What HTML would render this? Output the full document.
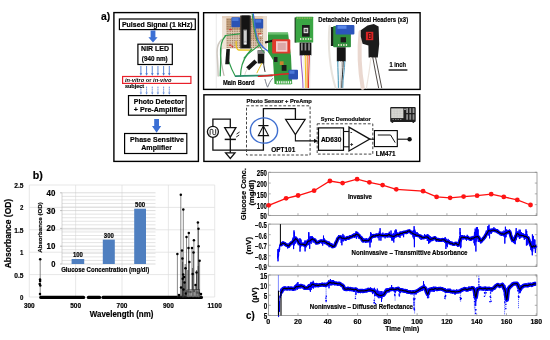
<!DOCTYPE html>
<html><head><meta charset="utf-8"><title>Figure</title>
<style>html,body{margin:0;padding:0;background:#fff;} svg{display:block;}</style></head>
<body><svg width="550" height="340" viewBox="0 0 550 340" font-family="'Liberation Sans', Arial, sans-serif">
<rect width="550" height="340" fill="#fff"/>
<text x="101.0" y="19.9" font-size="11.5" font-weight="bold" stroke="#000" stroke-width="0.18" textLength="9.2" lengthAdjust="spacingAndGlyphs">a)</text>
<rect x="113.9" y="12.6" width="84.5" height="148.8" fill="none" stroke="#000" stroke-width="1.4"/>
<rect x="119.4" y="19.0" width="75.9" height="10.6" fill="none" stroke="#000" stroke-width="1.2"/>
<text x="121.9" y="27.3" font-size="7.6" font-weight="bold" stroke="#000" stroke-width="0.18" textLength="70.6" lengthAdjust="spacingAndGlyphs">Pulsed Signal (1 kHz)</text>
<polygon points="150.6,30.4 155.4,30.4 155.4,37.2 157.6,37.2 153.0,42.6 148.4,37.2 150.6,37.2" fill="#3b6fd4" stroke="none" stroke-width="1"/>
<rect x="137.9" y="44.2" width="34.4" height="20.3" fill="none" stroke="#000" stroke-width="1.2"/>
<text x="141.1" y="51.3" font-size="7.8" font-weight="bold" stroke="#000" stroke-width="0.18" textLength="28" lengthAdjust="spacingAndGlyphs">NIR LED</text>
<text x="141.8" y="61.1" font-size="6.7" font-weight="bold" stroke="#000" stroke-width="0.18" textLength="25.9" lengthAdjust="spacingAndGlyphs">(940 nm)</text>
<line x1="140.9" y1="66.0" x2="140.9" y2="74.0" stroke="#4a78d0" stroke-width="0.9"/>
<polygon points="139.6,73.2 142.2,73.2 140.9,75.8" fill="#4a78d0" stroke="none" stroke-width="1"/>
<line x1="140.9" y1="86.6" x2="140.9" y2="93.0" stroke="#6f93dc" stroke-width="1.0" stroke-dasharray="1.4,0.5"/>
<polygon points="139.7,92.4 142.1,92.4 140.9,94.8" fill="#6f93dc" stroke="none" stroke-width="1"/>
<line x1="146.58" y1="66.0" x2="146.58" y2="74.0" stroke="#4a78d0" stroke-width="0.9"/>
<polygon points="145.3,73.2 147.9,73.2 146.6,75.8" fill="#4a78d0" stroke="none" stroke-width="1"/>
<line x1="146.58" y1="86.6" x2="146.58" y2="93.0" stroke="#6f93dc" stroke-width="1.0" stroke-dasharray="1.4,0.5"/>
<polygon points="145.4,92.4 147.8,92.4 146.6,94.8" fill="#6f93dc" stroke="none" stroke-width="1"/>
<line x1="152.26" y1="66.0" x2="152.26" y2="74.0" stroke="#4a78d0" stroke-width="0.9"/>
<polygon points="151.0,73.2 153.6,73.2 152.3,75.8" fill="#4a78d0" stroke="none" stroke-width="1"/>
<line x1="152.26" y1="86.6" x2="152.26" y2="93.0" stroke="#6f93dc" stroke-width="1.0" stroke-dasharray="1.4,0.5"/>
<polygon points="151.1,92.4 153.5,92.4 152.3,94.8" fill="#6f93dc" stroke="none" stroke-width="1"/>
<line x1="157.94" y1="66.0" x2="157.94" y2="74.0" stroke="#4a78d0" stroke-width="0.9"/>
<polygon points="156.6,73.2 159.2,73.2 157.9,75.8" fill="#4a78d0" stroke="none" stroke-width="1"/>
<line x1="157.94" y1="86.6" x2="157.94" y2="93.0" stroke="#6f93dc" stroke-width="1.0" stroke-dasharray="1.4,0.5"/>
<polygon points="156.7,92.4 159.1,92.4 157.9,94.8" fill="#6f93dc" stroke="none" stroke-width="1"/>
<line x1="163.62" y1="66.0" x2="163.62" y2="74.0" stroke="#4a78d0" stroke-width="0.9"/>
<polygon points="162.3,73.2 164.9,73.2 163.6,75.8" fill="#4a78d0" stroke="none" stroke-width="1"/>
<line x1="163.62" y1="86.6" x2="163.62" y2="93.0" stroke="#6f93dc" stroke-width="1.0" stroke-dasharray="1.4,0.5"/>
<polygon points="162.4,92.4 164.8,92.4 163.6,94.8" fill="#6f93dc" stroke="none" stroke-width="1"/>
<line x1="169.3" y1="66.0" x2="169.3" y2="74.0" stroke="#4a78d0" stroke-width="0.9"/>
<polygon points="168.0,73.2 170.6,73.2 169.3,75.8" fill="#4a78d0" stroke="none" stroke-width="1"/>
<line x1="169.3" y1="86.6" x2="169.3" y2="93.0" stroke="#6f93dc" stroke-width="1.0" stroke-dasharray="1.4,0.5"/>
<polygon points="168.1,92.4 170.5,92.4 169.3,94.8" fill="#6f93dc" stroke="none" stroke-width="1"/>
<rect x="122.6" y="76.5" width="68.3" height="6.9" fill="#fff" stroke="#e8202a" stroke-width="1.2"/>
<text x="124.9" y="81.6" font-size="5.7" font-weight="bold" textLength="46.5" lengthAdjust="spacingAndGlyphs"><tspan font-style="italic">in-vitro</tspan> or <tspan font-style="italic">in-vivo</tspan></text>
<text x="124.9" y="88.1" font-size="5.6" font-weight="bold" stroke="#000" stroke-width="0.18" textLength="19.3" lengthAdjust="spacingAndGlyphs">subject</text>
<rect x="128.5" y="95.6" width="57.6" height="19.6" fill="none" stroke="#000" stroke-width="1.2"/>
<text x="133.8" y="103.7" font-size="7.4" font-weight="bold" stroke="#000" stroke-width="0.18" textLength="50.2" lengthAdjust="spacingAndGlyphs">Photo Detector</text>
<text x="133.8" y="112.2" font-size="7.4" font-weight="bold" stroke="#000" stroke-width="0.18" textLength="50.7" lengthAdjust="spacingAndGlyphs">+ Pre-Amplifier</text>
<polygon points="154.2,119.1 159.0,119.1 159.0,125.9 161.2,125.9 156.6,132.8 152.0,125.9 154.2,125.9" fill="#3b6fd4" stroke="none" stroke-width="1"/>
<rect x="124.6" y="133.5" width="62.2" height="20.0" fill="none" stroke="#000" stroke-width="1.2"/>
<text x="130.1" y="141.6" font-size="7.4" font-weight="bold" stroke="#000" stroke-width="0.18" textLength="53.9" lengthAdjust="spacingAndGlyphs">Phase Sensitive</text>
<text x="141.2" y="150.2" font-size="7.4" font-weight="bold" stroke="#000" stroke-width="0.18" textLength="30.8" lengthAdjust="spacingAndGlyphs">Amplifier</text>
<rect x="203.6" y="12.7" width="216.5" height="76.7" fill="none" stroke="#000" stroke-width="1.4"/>
<line x1="216.3" y1="14" x2="216.3" y2="88" stroke="#e4e4e4" stroke-width="0.8"/>
<path d="M225,38 C219,40 216.5,47 217.2,56 C217.8,64 218,70 218.2,76" fill="none" stroke="#cfc9c2" stroke-width="1.6" stroke-linecap="round"/>
<path d="M226,41 C221,46 220,55 221.5,63 C222.5,69 223.5,73 224,75.5" fill="none" stroke="#bdb6ae" stroke-width="1.2" stroke-linecap="round"/>
<rect x="222.0" y="16.1" width="44.7" height="32.5" fill="#e2cdb8" rx="1"/>
<rect x="226.2" y="16.1" width="35.8" height="13.9" fill="#c9a682"/>
<rect x="250.8" y="28.0" width="11.2" height="12.0" fill="#d4b494"/>
<rect x="222.0" y="16.1" width="4.2" height="32.5" fill="#efe2d6"/>
<rect x="222.0" y="16.1" width="44.7" height="2.1" fill="#e6d2c0"/>
<rect x="263.2" y="16.1" width="3.5" height="32.5" fill="#ece0d4"/>
<rect x="226.80" y="19.00" width="0.85" height="0.85" fill="#86603f"/>
<rect x="228.55" y="19.00" width="0.85" height="0.85" fill="#86603f"/>
<rect x="230.30" y="19.00" width="0.85" height="0.85" fill="#86603f"/>
<rect x="232.05" y="19.00" width="0.85" height="0.85" fill="#86603f"/>
<rect x="233.80" y="19.00" width="0.85" height="0.85" fill="#86603f"/>
<rect x="235.55" y="19.00" width="0.85" height="0.85" fill="#86603f"/>
<rect x="237.30" y="19.00" width="0.85" height="0.85" fill="#86603f"/>
<rect x="239.05" y="19.00" width="0.85" height="0.85" fill="#86603f"/>
<rect x="240.80" y="19.00" width="0.85" height="0.85" fill="#86603f"/>
<rect x="242.55" y="19.00" width="0.85" height="0.85" fill="#86603f"/>
<rect x="244.30" y="19.00" width="0.85" height="0.85" fill="#86603f"/>
<rect x="246.05" y="19.00" width="0.85" height="0.85" fill="#86603f"/>
<rect x="247.80" y="19.00" width="0.85" height="0.85" fill="#86603f"/>
<rect x="249.55" y="19.00" width="0.85" height="0.85" fill="#86603f"/>
<rect x="251.30" y="19.00" width="0.85" height="0.85" fill="#86603f"/>
<rect x="253.05" y="19.00" width="0.85" height="0.85" fill="#86603f"/>
<rect x="254.80" y="19.00" width="0.85" height="0.85" fill="#86603f"/>
<rect x="256.55" y="19.00" width="0.85" height="0.85" fill="#86603f"/>
<rect x="258.30" y="19.00" width="0.85" height="0.85" fill="#86603f"/>
<rect x="260.05" y="19.00" width="0.85" height="0.85" fill="#86603f"/>
<rect x="261.80" y="19.00" width="0.85" height="0.85" fill="#86603f"/>
<rect x="226.80" y="20.75" width="0.85" height="0.85" fill="#86603f"/>
<rect x="228.55" y="20.75" width="0.85" height="0.85" fill="#86603f"/>
<rect x="230.30" y="20.75" width="0.85" height="0.85" fill="#86603f"/>
<rect x="232.05" y="20.75" width="0.85" height="0.85" fill="#86603f"/>
<rect x="233.80" y="20.75" width="0.85" height="0.85" fill="#86603f"/>
<rect x="235.55" y="20.75" width="0.85" height="0.85" fill="#86603f"/>
<rect x="237.30" y="20.75" width="0.85" height="0.85" fill="#86603f"/>
<rect x="239.05" y="20.75" width="0.85" height="0.85" fill="#86603f"/>
<rect x="240.80" y="20.75" width="0.85" height="0.85" fill="#86603f"/>
<rect x="242.55" y="20.75" width="0.85" height="0.85" fill="#86603f"/>
<rect x="244.30" y="20.75" width="0.85" height="0.85" fill="#86603f"/>
<rect x="246.05" y="20.75" width="0.85" height="0.85" fill="#86603f"/>
<rect x="247.80" y="20.75" width="0.85" height="0.85" fill="#86603f"/>
<rect x="249.55" y="20.75" width="0.85" height="0.85" fill="#86603f"/>
<rect x="251.30" y="20.75" width="0.85" height="0.85" fill="#86603f"/>
<rect x="253.05" y="20.75" width="0.85" height="0.85" fill="#86603f"/>
<rect x="254.80" y="20.75" width="0.85" height="0.85" fill="#86603f"/>
<rect x="256.55" y="20.75" width="0.85" height="0.85" fill="#86603f"/>
<rect x="258.30" y="20.75" width="0.85" height="0.85" fill="#86603f"/>
<rect x="260.05" y="20.75" width="0.85" height="0.85" fill="#86603f"/>
<rect x="261.80" y="20.75" width="0.85" height="0.85" fill="#86603f"/>
<rect x="226.80" y="22.50" width="0.85" height="0.85" fill="#86603f"/>
<rect x="228.55" y="22.50" width="0.85" height="0.85" fill="#86603f"/>
<rect x="230.30" y="22.50" width="0.85" height="0.85" fill="#86603f"/>
<rect x="232.05" y="22.50" width="0.85" height="0.85" fill="#86603f"/>
<rect x="233.80" y="22.50" width="0.85" height="0.85" fill="#86603f"/>
<rect x="235.55" y="22.50" width="0.85" height="0.85" fill="#86603f"/>
<rect x="237.30" y="22.50" width="0.85" height="0.85" fill="#86603f"/>
<rect x="239.05" y="22.50" width="0.85" height="0.85" fill="#86603f"/>
<rect x="240.80" y="22.50" width="0.85" height="0.85" fill="#86603f"/>
<rect x="242.55" y="22.50" width="0.85" height="0.85" fill="#86603f"/>
<rect x="244.30" y="22.50" width="0.85" height="0.85" fill="#86603f"/>
<rect x="246.05" y="22.50" width="0.85" height="0.85" fill="#86603f"/>
<rect x="247.80" y="22.50" width="0.85" height="0.85" fill="#86603f"/>
<rect x="249.55" y="22.50" width="0.85" height="0.85" fill="#86603f"/>
<rect x="251.30" y="22.50" width="0.85" height="0.85" fill="#86603f"/>
<rect x="253.05" y="22.50" width="0.85" height="0.85" fill="#86603f"/>
<rect x="254.80" y="22.50" width="0.85" height="0.85" fill="#86603f"/>
<rect x="256.55" y="22.50" width="0.85" height="0.85" fill="#86603f"/>
<rect x="258.30" y="22.50" width="0.85" height="0.85" fill="#86603f"/>
<rect x="260.05" y="22.50" width="0.85" height="0.85" fill="#86603f"/>
<rect x="261.80" y="22.50" width="0.85" height="0.85" fill="#86603f"/>
<rect x="226.80" y="24.25" width="0.85" height="0.85" fill="#86603f"/>
<rect x="228.55" y="24.25" width="0.85" height="0.85" fill="#86603f"/>
<rect x="230.30" y="24.25" width="0.85" height="0.85" fill="#86603f"/>
<rect x="232.05" y="24.25" width="0.85" height="0.85" fill="#86603f"/>
<rect x="233.80" y="24.25" width="0.85" height="0.85" fill="#86603f"/>
<rect x="235.55" y="24.25" width="0.85" height="0.85" fill="#86603f"/>
<rect x="237.30" y="24.25" width="0.85" height="0.85" fill="#86603f"/>
<rect x="239.05" y="24.25" width="0.85" height="0.85" fill="#86603f"/>
<rect x="240.80" y="24.25" width="0.85" height="0.85" fill="#86603f"/>
<rect x="242.55" y="24.25" width="0.85" height="0.85" fill="#86603f"/>
<rect x="244.30" y="24.25" width="0.85" height="0.85" fill="#86603f"/>
<rect x="246.05" y="24.25" width="0.85" height="0.85" fill="#86603f"/>
<rect x="247.80" y="24.25" width="0.85" height="0.85" fill="#86603f"/>
<rect x="249.55" y="24.25" width="0.85" height="0.85" fill="#86603f"/>
<rect x="251.30" y="24.25" width="0.85" height="0.85" fill="#86603f"/>
<rect x="253.05" y="24.25" width="0.85" height="0.85" fill="#86603f"/>
<rect x="254.80" y="24.25" width="0.85" height="0.85" fill="#86603f"/>
<rect x="256.55" y="24.25" width="0.85" height="0.85" fill="#86603f"/>
<rect x="258.30" y="24.25" width="0.85" height="0.85" fill="#86603f"/>
<rect x="260.05" y="24.25" width="0.85" height="0.85" fill="#86603f"/>
<rect x="261.80" y="24.25" width="0.85" height="0.85" fill="#86603f"/>
<rect x="226.80" y="26.00" width="0.85" height="0.85" fill="#86603f"/>
<rect x="228.55" y="26.00" width="0.85" height="0.85" fill="#86603f"/>
<rect x="230.30" y="26.00" width="0.85" height="0.85" fill="#86603f"/>
<rect x="232.05" y="26.00" width="0.85" height="0.85" fill="#86603f"/>
<rect x="233.80" y="26.00" width="0.85" height="0.85" fill="#86603f"/>
<rect x="235.55" y="26.00" width="0.85" height="0.85" fill="#86603f"/>
<rect x="237.30" y="26.00" width="0.85" height="0.85" fill="#86603f"/>
<rect x="239.05" y="26.00" width="0.85" height="0.85" fill="#86603f"/>
<rect x="240.80" y="26.00" width="0.85" height="0.85" fill="#86603f"/>
<rect x="242.55" y="26.00" width="0.85" height="0.85" fill="#86603f"/>
<rect x="244.30" y="26.00" width="0.85" height="0.85" fill="#86603f"/>
<rect x="246.05" y="26.00" width="0.85" height="0.85" fill="#86603f"/>
<rect x="247.80" y="26.00" width="0.85" height="0.85" fill="#86603f"/>
<rect x="249.55" y="26.00" width="0.85" height="0.85" fill="#86603f"/>
<rect x="251.30" y="26.00" width="0.85" height="0.85" fill="#86603f"/>
<rect x="253.05" y="26.00" width="0.85" height="0.85" fill="#86603f"/>
<rect x="254.80" y="26.00" width="0.85" height="0.85" fill="#86603f"/>
<rect x="256.55" y="26.00" width="0.85" height="0.85" fill="#86603f"/>
<rect x="258.30" y="26.00" width="0.85" height="0.85" fill="#86603f"/>
<rect x="260.05" y="26.00" width="0.85" height="0.85" fill="#86603f"/>
<rect x="261.80" y="26.00" width="0.85" height="0.85" fill="#86603f"/>
<rect x="226.80" y="27.75" width="0.85" height="0.85" fill="#86603f"/>
<rect x="228.55" y="27.75" width="0.85" height="0.85" fill="#86603f"/>
<rect x="230.30" y="27.75" width="0.85" height="0.85" fill="#86603f"/>
<rect x="232.05" y="27.75" width="0.85" height="0.85" fill="#86603f"/>
<rect x="233.80" y="27.75" width="0.85" height="0.85" fill="#86603f"/>
<rect x="235.55" y="27.75" width="0.85" height="0.85" fill="#86603f"/>
<rect x="237.30" y="27.75" width="0.85" height="0.85" fill="#86603f"/>
<rect x="239.05" y="27.75" width="0.85" height="0.85" fill="#86603f"/>
<rect x="240.80" y="27.75" width="0.85" height="0.85" fill="#86603f"/>
<rect x="242.55" y="27.75" width="0.85" height="0.85" fill="#86603f"/>
<rect x="244.30" y="27.75" width="0.85" height="0.85" fill="#86603f"/>
<rect x="246.05" y="27.75" width="0.85" height="0.85" fill="#86603f"/>
<rect x="247.80" y="27.75" width="0.85" height="0.85" fill="#86603f"/>
<rect x="249.55" y="27.75" width="0.85" height="0.85" fill="#86603f"/>
<rect x="251.30" y="27.75" width="0.85" height="0.85" fill="#86603f"/>
<rect x="253.05" y="27.75" width="0.85" height="0.85" fill="#86603f"/>
<rect x="254.80" y="27.75" width="0.85" height="0.85" fill="#86603f"/>
<rect x="256.55" y="27.75" width="0.85" height="0.85" fill="#86603f"/>
<rect x="258.30" y="27.75" width="0.85" height="0.85" fill="#86603f"/>
<rect x="260.05" y="27.75" width="0.85" height="0.85" fill="#86603f"/>
<rect x="261.80" y="27.75" width="0.85" height="0.85" fill="#86603f"/>
<rect x="226.80" y="29.50" width="0.85" height="0.85" fill="#86603f"/>
<rect x="228.55" y="29.50" width="0.85" height="0.85" fill="#86603f"/>
<rect x="230.30" y="29.50" width="0.85" height="0.85" fill="#86603f"/>
<rect x="232.05" y="29.50" width="0.85" height="0.85" fill="#86603f"/>
<rect x="233.80" y="29.50" width="0.85" height="0.85" fill="#86603f"/>
<rect x="235.55" y="29.50" width="0.85" height="0.85" fill="#86603f"/>
<rect x="237.30" y="29.50" width="0.85" height="0.85" fill="#86603f"/>
<rect x="239.05" y="29.50" width="0.85" height="0.85" fill="#86603f"/>
<rect x="240.80" y="29.50" width="0.85" height="0.85" fill="#86603f"/>
<rect x="242.55" y="29.50" width="0.85" height="0.85" fill="#86603f"/>
<rect x="244.30" y="29.50" width="0.85" height="0.85" fill="#86603f"/>
<rect x="246.05" y="29.50" width="0.85" height="0.85" fill="#86603f"/>
<rect x="247.80" y="29.50" width="0.85" height="0.85" fill="#86603f"/>
<rect x="249.55" y="29.50" width="0.85" height="0.85" fill="#86603f"/>
<rect x="251.30" y="29.50" width="0.85" height="0.85" fill="#86603f"/>
<rect x="253.05" y="29.50" width="0.85" height="0.85" fill="#86603f"/>
<rect x="254.80" y="29.50" width="0.85" height="0.85" fill="#86603f"/>
<rect x="256.55" y="29.50" width="0.85" height="0.85" fill="#86603f"/>
<rect x="258.30" y="29.50" width="0.85" height="0.85" fill="#86603f"/>
<rect x="260.05" y="29.50" width="0.85" height="0.85" fill="#86603f"/>
<rect x="261.80" y="29.50" width="0.85" height="0.85" fill="#86603f"/>
<rect x="226.80" y="31.25" width="0.85" height="0.85" fill="#86603f"/>
<rect x="228.55" y="31.25" width="0.85" height="0.85" fill="#86603f"/>
<rect x="230.30" y="31.25" width="0.85" height="0.85" fill="#86603f"/>
<rect x="232.05" y="31.25" width="0.85" height="0.85" fill="#86603f"/>
<rect x="233.80" y="31.25" width="0.85" height="0.85" fill="#86603f"/>
<rect x="235.55" y="31.25" width="0.85" height="0.85" fill="#86603f"/>
<rect x="237.30" y="31.25" width="0.85" height="0.85" fill="#86603f"/>
<rect x="239.05" y="31.25" width="0.85" height="0.85" fill="#86603f"/>
<rect x="240.80" y="31.25" width="0.85" height="0.85" fill="#86603f"/>
<rect x="242.55" y="31.25" width="0.85" height="0.85" fill="#86603f"/>
<rect x="244.30" y="31.25" width="0.85" height="0.85" fill="#86603f"/>
<rect x="246.05" y="31.25" width="0.85" height="0.85" fill="#86603f"/>
<rect x="247.80" y="31.25" width="0.85" height="0.85" fill="#86603f"/>
<rect x="249.55" y="31.25" width="0.85" height="0.85" fill="#86603f"/>
<rect x="251.30" y="31.25" width="0.85" height="0.85" fill="#86603f"/>
<rect x="253.05" y="31.25" width="0.85" height="0.85" fill="#86603f"/>
<rect x="254.80" y="31.25" width="0.85" height="0.85" fill="#86603f"/>
<rect x="256.55" y="31.25" width="0.85" height="0.85" fill="#86603f"/>
<rect x="258.30" y="31.25" width="0.85" height="0.85" fill="#86603f"/>
<rect x="260.05" y="31.25" width="0.85" height="0.85" fill="#86603f"/>
<rect x="261.80" y="31.25" width="0.85" height="0.85" fill="#86603f"/>
<rect x="226.80" y="33.00" width="0.85" height="0.85" fill="#86603f"/>
<rect x="228.55" y="33.00" width="0.85" height="0.85" fill="#86603f"/>
<rect x="230.30" y="33.00" width="0.85" height="0.85" fill="#86603f"/>
<rect x="232.05" y="33.00" width="0.85" height="0.85" fill="#86603f"/>
<rect x="233.80" y="33.00" width="0.85" height="0.85" fill="#86603f"/>
<rect x="235.55" y="33.00" width="0.85" height="0.85" fill="#86603f"/>
<rect x="237.30" y="33.00" width="0.85" height="0.85" fill="#86603f"/>
<rect x="239.05" y="33.00" width="0.85" height="0.85" fill="#86603f"/>
<rect x="240.80" y="33.00" width="0.85" height="0.85" fill="#86603f"/>
<rect x="242.55" y="33.00" width="0.85" height="0.85" fill="#86603f"/>
<rect x="244.30" y="33.00" width="0.85" height="0.85" fill="#86603f"/>
<rect x="246.05" y="33.00" width="0.85" height="0.85" fill="#86603f"/>
<rect x="247.80" y="33.00" width="0.85" height="0.85" fill="#86603f"/>
<rect x="249.55" y="33.00" width="0.85" height="0.85" fill="#86603f"/>
<rect x="251.30" y="33.00" width="0.85" height="0.85" fill="#86603f"/>
<rect x="253.05" y="33.00" width="0.85" height="0.85" fill="#86603f"/>
<rect x="254.80" y="33.00" width="0.85" height="0.85" fill="#86603f"/>
<rect x="256.55" y="33.00" width="0.85" height="0.85" fill="#86603f"/>
<rect x="258.30" y="33.00" width="0.85" height="0.85" fill="#86603f"/>
<rect x="260.05" y="33.00" width="0.85" height="0.85" fill="#86603f"/>
<rect x="261.80" y="33.00" width="0.85" height="0.85" fill="#86603f"/>
<rect x="226.80" y="34.75" width="0.85" height="0.85" fill="#86603f"/>
<rect x="228.55" y="34.75" width="0.85" height="0.85" fill="#86603f"/>
<rect x="230.30" y="34.75" width="0.85" height="0.85" fill="#86603f"/>
<rect x="232.05" y="34.75" width="0.85" height="0.85" fill="#86603f"/>
<rect x="233.80" y="34.75" width="0.85" height="0.85" fill="#86603f"/>
<rect x="235.55" y="34.75" width="0.85" height="0.85" fill="#86603f"/>
<rect x="237.30" y="34.75" width="0.85" height="0.85" fill="#86603f"/>
<rect x="239.05" y="34.75" width="0.85" height="0.85" fill="#86603f"/>
<rect x="240.80" y="34.75" width="0.85" height="0.85" fill="#86603f"/>
<rect x="242.55" y="34.75" width="0.85" height="0.85" fill="#86603f"/>
<rect x="244.30" y="34.75" width="0.85" height="0.85" fill="#86603f"/>
<rect x="246.05" y="34.75" width="0.85" height="0.85" fill="#86603f"/>
<rect x="247.80" y="34.75" width="0.85" height="0.85" fill="#86603f"/>
<rect x="249.55" y="34.75" width="0.85" height="0.85" fill="#86603f"/>
<rect x="251.30" y="34.75" width="0.85" height="0.85" fill="#86603f"/>
<rect x="253.05" y="34.75" width="0.85" height="0.85" fill="#86603f"/>
<rect x="254.80" y="34.75" width="0.85" height="0.85" fill="#86603f"/>
<rect x="256.55" y="34.75" width="0.85" height="0.85" fill="#86603f"/>
<rect x="258.30" y="34.75" width="0.85" height="0.85" fill="#86603f"/>
<rect x="260.05" y="34.75" width="0.85" height="0.85" fill="#86603f"/>
<rect x="261.80" y="34.75" width="0.85" height="0.85" fill="#86603f"/>
<rect x="226.80" y="36.50" width="0.85" height="0.85" fill="#86603f"/>
<rect x="228.55" y="36.50" width="0.85" height="0.85" fill="#86603f"/>
<rect x="230.30" y="36.50" width="0.85" height="0.85" fill="#86603f"/>
<rect x="232.05" y="36.50" width="0.85" height="0.85" fill="#86603f"/>
<rect x="233.80" y="36.50" width="0.85" height="0.85" fill="#86603f"/>
<rect x="235.55" y="36.50" width="0.85" height="0.85" fill="#86603f"/>
<rect x="237.30" y="36.50" width="0.85" height="0.85" fill="#86603f"/>
<rect x="239.05" y="36.50" width="0.85" height="0.85" fill="#86603f"/>
<rect x="240.80" y="36.50" width="0.85" height="0.85" fill="#86603f"/>
<rect x="242.55" y="36.50" width="0.85" height="0.85" fill="#86603f"/>
<rect x="244.30" y="36.50" width="0.85" height="0.85" fill="#86603f"/>
<rect x="246.05" y="36.50" width="0.85" height="0.85" fill="#86603f"/>
<rect x="247.80" y="36.50" width="0.85" height="0.85" fill="#86603f"/>
<rect x="249.55" y="36.50" width="0.85" height="0.85" fill="#86603f"/>
<rect x="251.30" y="36.50" width="0.85" height="0.85" fill="#86603f"/>
<rect x="253.05" y="36.50" width="0.85" height="0.85" fill="#86603f"/>
<rect x="254.80" y="36.50" width="0.85" height="0.85" fill="#86603f"/>
<rect x="256.55" y="36.50" width="0.85" height="0.85" fill="#86603f"/>
<rect x="258.30" y="36.50" width="0.85" height="0.85" fill="#86603f"/>
<rect x="260.05" y="36.50" width="0.85" height="0.85" fill="#86603f"/>
<rect x="261.80" y="36.50" width="0.85" height="0.85" fill="#86603f"/>
<rect x="226.80" y="38.25" width="0.85" height="0.85" fill="#86603f"/>
<rect x="228.55" y="38.25" width="0.85" height="0.85" fill="#86603f"/>
<rect x="230.30" y="38.25" width="0.85" height="0.85" fill="#86603f"/>
<rect x="232.05" y="38.25" width="0.85" height="0.85" fill="#86603f"/>
<rect x="233.80" y="38.25" width="0.85" height="0.85" fill="#86603f"/>
<rect x="235.55" y="38.25" width="0.85" height="0.85" fill="#86603f"/>
<rect x="237.30" y="38.25" width="0.85" height="0.85" fill="#86603f"/>
<rect x="239.05" y="38.25" width="0.85" height="0.85" fill="#86603f"/>
<rect x="240.80" y="38.25" width="0.85" height="0.85" fill="#86603f"/>
<rect x="242.55" y="38.25" width="0.85" height="0.85" fill="#86603f"/>
<rect x="244.30" y="38.25" width="0.85" height="0.85" fill="#86603f"/>
<rect x="246.05" y="38.25" width="0.85" height="0.85" fill="#86603f"/>
<rect x="247.80" y="38.25" width="0.85" height="0.85" fill="#86603f"/>
<rect x="249.55" y="38.25" width="0.85" height="0.85" fill="#86603f"/>
<rect x="251.30" y="38.25" width="0.85" height="0.85" fill="#86603f"/>
<rect x="253.05" y="38.25" width="0.85" height="0.85" fill="#86603f"/>
<rect x="254.80" y="38.25" width="0.85" height="0.85" fill="#86603f"/>
<rect x="256.55" y="38.25" width="0.85" height="0.85" fill="#86603f"/>
<rect x="258.30" y="38.25" width="0.85" height="0.85" fill="#86603f"/>
<rect x="260.05" y="38.25" width="0.85" height="0.85" fill="#86603f"/>
<rect x="261.80" y="38.25" width="0.85" height="0.85" fill="#86603f"/>
<rect x="226.80" y="40.00" width="0.85" height="0.85" fill="#86603f"/>
<rect x="228.55" y="40.00" width="0.85" height="0.85" fill="#86603f"/>
<rect x="230.30" y="40.00" width="0.85" height="0.85" fill="#86603f"/>
<rect x="232.05" y="40.00" width="0.85" height="0.85" fill="#86603f"/>
<rect x="233.80" y="40.00" width="0.85" height="0.85" fill="#86603f"/>
<rect x="235.55" y="40.00" width="0.85" height="0.85" fill="#86603f"/>
<rect x="237.30" y="40.00" width="0.85" height="0.85" fill="#86603f"/>
<rect x="239.05" y="40.00" width="0.85" height="0.85" fill="#86603f"/>
<rect x="240.80" y="40.00" width="0.85" height="0.85" fill="#86603f"/>
<rect x="242.55" y="40.00" width="0.85" height="0.85" fill="#86603f"/>
<rect x="244.30" y="40.00" width="0.85" height="0.85" fill="#86603f"/>
<rect x="246.05" y="40.00" width="0.85" height="0.85" fill="#86603f"/>
<rect x="247.80" y="40.00" width="0.85" height="0.85" fill="#86603f"/>
<rect x="249.55" y="40.00" width="0.85" height="0.85" fill="#86603f"/>
<rect x="251.30" y="40.00" width="0.85" height="0.85" fill="#86603f"/>
<rect x="253.05" y="40.00" width="0.85" height="0.85" fill="#86603f"/>
<rect x="254.80" y="40.00" width="0.85" height="0.85" fill="#86603f"/>
<rect x="256.55" y="40.00" width="0.85" height="0.85" fill="#86603f"/>
<rect x="258.30" y="40.00" width="0.85" height="0.85" fill="#86603f"/>
<rect x="260.05" y="40.00" width="0.85" height="0.85" fill="#86603f"/>
<rect x="261.80" y="40.00" width="0.85" height="0.85" fill="#86603f"/>
<rect x="226.80" y="41.75" width="0.85" height="0.85" fill="#86603f"/>
<rect x="228.55" y="41.75" width="0.85" height="0.85" fill="#86603f"/>
<rect x="230.30" y="41.75" width="0.85" height="0.85" fill="#86603f"/>
<rect x="232.05" y="41.75" width="0.85" height="0.85" fill="#86603f"/>
<rect x="233.80" y="41.75" width="0.85" height="0.85" fill="#86603f"/>
<rect x="235.55" y="41.75" width="0.85" height="0.85" fill="#86603f"/>
<rect x="237.30" y="41.75" width="0.85" height="0.85" fill="#86603f"/>
<rect x="239.05" y="41.75" width="0.85" height="0.85" fill="#86603f"/>
<rect x="240.80" y="41.75" width="0.85" height="0.85" fill="#86603f"/>
<rect x="242.55" y="41.75" width="0.85" height="0.85" fill="#86603f"/>
<rect x="244.30" y="41.75" width="0.85" height="0.85" fill="#86603f"/>
<rect x="246.05" y="41.75" width="0.85" height="0.85" fill="#86603f"/>
<rect x="247.80" y="41.75" width="0.85" height="0.85" fill="#86603f"/>
<rect x="249.55" y="41.75" width="0.85" height="0.85" fill="#86603f"/>
<rect x="251.30" y="41.75" width="0.85" height="0.85" fill="#86603f"/>
<rect x="253.05" y="41.75" width="0.85" height="0.85" fill="#86603f"/>
<rect x="254.80" y="41.75" width="0.85" height="0.85" fill="#86603f"/>
<rect x="256.55" y="41.75" width="0.85" height="0.85" fill="#86603f"/>
<rect x="258.30" y="41.75" width="0.85" height="0.85" fill="#86603f"/>
<rect x="260.05" y="41.75" width="0.85" height="0.85" fill="#86603f"/>
<rect x="261.80" y="41.75" width="0.85" height="0.85" fill="#86603f"/>
<rect x="226.80" y="43.50" width="0.85" height="0.85" fill="#86603f"/>
<rect x="228.55" y="43.50" width="0.85" height="0.85" fill="#86603f"/>
<rect x="230.30" y="43.50" width="0.85" height="0.85" fill="#86603f"/>
<rect x="232.05" y="43.50" width="0.85" height="0.85" fill="#86603f"/>
<rect x="233.80" y="43.50" width="0.85" height="0.85" fill="#86603f"/>
<rect x="235.55" y="43.50" width="0.85" height="0.85" fill="#86603f"/>
<rect x="237.30" y="43.50" width="0.85" height="0.85" fill="#86603f"/>
<rect x="239.05" y="43.50" width="0.85" height="0.85" fill="#86603f"/>
<rect x="240.80" y="43.50" width="0.85" height="0.85" fill="#86603f"/>
<rect x="242.55" y="43.50" width="0.85" height="0.85" fill="#86603f"/>
<rect x="244.30" y="43.50" width="0.85" height="0.85" fill="#86603f"/>
<rect x="246.05" y="43.50" width="0.85" height="0.85" fill="#86603f"/>
<rect x="247.80" y="43.50" width="0.85" height="0.85" fill="#86603f"/>
<rect x="249.55" y="43.50" width="0.85" height="0.85" fill="#86603f"/>
<rect x="251.30" y="43.50" width="0.85" height="0.85" fill="#86603f"/>
<rect x="253.05" y="43.50" width="0.85" height="0.85" fill="#86603f"/>
<rect x="254.80" y="43.50" width="0.85" height="0.85" fill="#86603f"/>
<rect x="256.55" y="43.50" width="0.85" height="0.85" fill="#86603f"/>
<rect x="258.30" y="43.50" width="0.85" height="0.85" fill="#86603f"/>
<rect x="260.05" y="43.50" width="0.85" height="0.85" fill="#86603f"/>
<rect x="261.80" y="43.50" width="0.85" height="0.85" fill="#86603f"/>
<rect x="226.80" y="45.25" width="0.85" height="0.85" fill="#86603f"/>
<rect x="228.55" y="45.25" width="0.85" height="0.85" fill="#86603f"/>
<rect x="230.30" y="45.25" width="0.85" height="0.85" fill="#86603f"/>
<rect x="232.05" y="45.25" width="0.85" height="0.85" fill="#86603f"/>
<rect x="233.80" y="45.25" width="0.85" height="0.85" fill="#86603f"/>
<rect x="235.55" y="45.25" width="0.85" height="0.85" fill="#86603f"/>
<rect x="237.30" y="45.25" width="0.85" height="0.85" fill="#86603f"/>
<rect x="239.05" y="45.25" width="0.85" height="0.85" fill="#86603f"/>
<rect x="240.80" y="45.25" width="0.85" height="0.85" fill="#86603f"/>
<rect x="242.55" y="45.25" width="0.85" height="0.85" fill="#86603f"/>
<rect x="244.30" y="45.25" width="0.85" height="0.85" fill="#86603f"/>
<rect x="246.05" y="45.25" width="0.85" height="0.85" fill="#86603f"/>
<rect x="247.80" y="45.25" width="0.85" height="0.85" fill="#86603f"/>
<rect x="249.55" y="45.25" width="0.85" height="0.85" fill="#86603f"/>
<rect x="251.30" y="45.25" width="0.85" height="0.85" fill="#86603f"/>
<rect x="253.05" y="45.25" width="0.85" height="0.85" fill="#86603f"/>
<rect x="254.80" y="45.25" width="0.85" height="0.85" fill="#86603f"/>
<rect x="256.55" y="45.25" width="0.85" height="0.85" fill="#86603f"/>
<rect x="258.30" y="45.25" width="0.85" height="0.85" fill="#86603f"/>
<rect x="260.05" y="45.25" width="0.85" height="0.85" fill="#86603f"/>
<rect x="261.80" y="45.25" width="0.85" height="0.85" fill="#86603f"/>
<rect x="226.80" y="47.00" width="0.85" height="0.85" fill="#86603f"/>
<rect x="228.55" y="47.00" width="0.85" height="0.85" fill="#86603f"/>
<rect x="230.30" y="47.00" width="0.85" height="0.85" fill="#86603f"/>
<rect x="232.05" y="47.00" width="0.85" height="0.85" fill="#86603f"/>
<rect x="233.80" y="47.00" width="0.85" height="0.85" fill="#86603f"/>
<rect x="235.55" y="47.00" width="0.85" height="0.85" fill="#86603f"/>
<rect x="237.30" y="47.00" width="0.85" height="0.85" fill="#86603f"/>
<rect x="239.05" y="47.00" width="0.85" height="0.85" fill="#86603f"/>
<rect x="240.80" y="47.00" width="0.85" height="0.85" fill="#86603f"/>
<rect x="242.55" y="47.00" width="0.85" height="0.85" fill="#86603f"/>
<rect x="244.30" y="47.00" width="0.85" height="0.85" fill="#86603f"/>
<rect x="246.05" y="47.00" width="0.85" height="0.85" fill="#86603f"/>
<rect x="247.80" y="47.00" width="0.85" height="0.85" fill="#86603f"/>
<rect x="249.55" y="47.00" width="0.85" height="0.85" fill="#86603f"/>
<rect x="251.30" y="47.00" width="0.85" height="0.85" fill="#86603f"/>
<rect x="253.05" y="47.00" width="0.85" height="0.85" fill="#86603f"/>
<rect x="254.80" y="47.00" width="0.85" height="0.85" fill="#86603f"/>
<rect x="256.55" y="47.00" width="0.85" height="0.85" fill="#86603f"/>
<rect x="258.30" y="47.00" width="0.85" height="0.85" fill="#86603f"/>
<rect x="260.05" y="47.00" width="0.85" height="0.85" fill="#86603f"/>
<rect x="261.80" y="47.00" width="0.85" height="0.85" fill="#86603f"/>
<rect x="229.2" y="29.0" width="2.6" height="1.2" fill="#e23232"/>
<rect x="247.6" y="26.8" width="2.2" height="1.2" fill="#e23232"/>
<rect x="258.0" y="33.3" width="3.2" height="1.2" fill="#e23232"/>
<rect x="229.0" y="44.6" width="2.6" height="1.2" fill="#e23232"/>
<rect x="231.5" y="46.0" width="1.8" height="1.2" fill="#e23232"/>
<rect x="259.3" y="34.6" width="2.9" height="1.6" fill="#f2f2f2"/>
<rect x="231.4" y="17.3" width="8.8" height="10.0" fill="#2a52b4" rx="0.8"/>
<rect x="232.2" y="17.9" width="6.3" height="3.1" fill="#4a78d8"/>
<rect x="254.4" y="19.0" width="8.8" height="9.5" fill="#2a52b4" rx="0.8"/>
<rect x="255.3" y="19.6" width="5.9" height="3.0" fill="#4a78d8"/>
<rect x="240.2" y="15.5" width="10.6" height="33.0" fill="#3a3530"/>
<rect x="241.6" y="15.5" width="8.0" height="32.5" fill="#141414"/>
<rect x="243.4" y="29.6" width="3.6" height="14.9" fill="#9a9a9a"/>
<rect x="244.0" y="31.0" width="2.4" height="10.5" fill="#cfcfcf"/>
<circle cx="245.2" cy="43.4" r="1.2" fill="#f0f0f0"/>
<path d="M236.1,41.4 C236.2,45 235.8,49.2 238.5,50.0 L252.5,50.2" fill="none" stroke="#e7c31c" stroke-width="1.3" stroke-linecap="round"/>
<path d="M225.2,35.5 L239.6,33.8" fill="none" stroke="#2b9a48" stroke-width="1.2" stroke-linecap="round"/>
<path d="M225.4,36 C221.5,40 220.2,47 220.6,55 C221,63 220.3,70 220.2,75.8" fill="none" stroke="#2b9a48" stroke-width="1.3" stroke-linecap="round"/>
<path d="M251.7,49 C246,55 242,62 241,70 L240.5,76" fill="none" stroke="#2b9a48" stroke-width="1.2" stroke-linecap="round"/>
<path d="M259.7,45 C253,50 247,54 244,58" fill="none" stroke="#2b9a48" stroke-width="1.1" stroke-linecap="round"/>
<path d="M229,62 C231,68 233,72 235.2,76.1" fill="none" stroke="#2b9a48" stroke-width="1.1" stroke-linecap="round"/>
<polygon points="226.4,49.0 229.9,49.0 229.2,64.2 225.2,64.2" fill="#161616"/>
<line x1="247.6" y1="68.8" x2="255.9" y2="60.9" stroke="#161616" stroke-width="4.2"/>
<rect x="257.7" y="50.3" width="6.6" height="13.2" fill="#171717"/>
<rect x="257.7" y="50.3" width="6.6" height="3.5" fill="#8a8a8a"/>
<path d="M261.7,63.5 C260,67 258,70.5 257,72.8" fill="none" stroke="#e7c31c" stroke-width="1.0" stroke-linecap="round"/>
<path d="M263.6,63.5 C264,67 264.6,69.5 265,71.5" fill="none" stroke="#2a2a2a" stroke-width="1.0" stroke-linecap="round"/>
<path d="M247.5,69 C246,71 245,73 244.8,75.6" fill="none" stroke="#d8d0c8" stroke-width="0.9" stroke-linecap="round"/>
<path d="M253.2,13.8 C254,18 254.3,21 254.6,24 C255.2,30 256,35 257.5,39 C259.5,44 263,48 268.5,51.5 C271.5,53.5 273,55 276.5,62.5" fill="none" stroke="#3a6fd8" stroke-width="1.4" stroke-linecap="round"/>
<path d="M252.2,14.2 C253.2,24 254.5,34 257.2,41.5 C259.8,47 262,50 264,52.5" fill="none" stroke="#2b9a48" stroke-width="1.0" stroke-linecap="round"/>
<polygon points="268.0,32.6 288.0,32.6 291.0,56.0 292.2,84.0 274.5,84.0 273.0,60.0 268.0,52.0" fill="#34983e"/>
<rect x="268.0" y="32.6" width="20.0" height="2.0" fill="#6cc070"/>
<line x1="265" y1="42.5" x2="273.5" y2="40.5" stroke="#161616" stroke-width="2.2"/>
<rect x="272.2" y="39.3" width="18.1" height="14.3" fill="#e03a2c" rx="1.2"/>
<rect x="276.0" y="41.2" width="11.4" height="10.5" fill="#f2cccc"/>
<rect x="277.8" y="43.0" width="8.0" height="7.0" fill="#dca8a8"/>
<rect x="279.8" y="61.3" width="3.8" height="3.7" fill="#c9822e"/>
<rect x="281.7" y="65.0" width="4.8" height="5.8" fill="#1b1b1b"/>
<rect x="274.0" y="57.0" width="3.5" height="5.0" fill="#1f1f1f"/>
<rect x="276.0" y="80.3" width="15.3" height="4.1" fill="#4cb050"/>
<rect x="276.8" y="81.2" width="1.2" height="2.2" fill="#f4f4f4"/>
<rect x="279.0" y="81.2" width="1.2" height="2.2" fill="#f4f4f4"/>
<rect x="281.2" y="81.2" width="1.2" height="2.2" fill="#f4f4f4"/>
<rect x="283.4" y="81.2" width="1.2" height="2.2" fill="#f4f4f4"/>
<rect x="285.6" y="81.2" width="1.2" height="2.2" fill="#f4f4f4"/>
<rect x="287.8" y="81.2" width="1.2" height="2.2" fill="#f4f4f4"/>
<rect x="290.0" y="81.2" width="1.2" height="2.2" fill="#f4f4f4"/>
<rect x="288.4" y="69.8" width="9.6" height="9.6" fill="#2a52b4" rx="0.8"/>
<rect x="289.4" y="70.6" width="5.1" height="3.2" fill="#4a78d8"/>
<path d="M235.8,76.1 C248,75.5 262,75.6 272,75.5" fill="none" stroke="#2a8a6a" stroke-width="1.8" stroke-linecap="round"/>
<path d="M258.4,76.4 C268,75.6 278,74.5 288.4,73.7" fill="none" stroke="#e02424" stroke-width="1.4" stroke-linecap="round"/>
<path d="M265,79.4 C266,83 266.8,86 267.6,87.2 C269,84 270,81 272.5,78.5" fill="none" stroke="#7c818c" stroke-width="1.0" stroke-linecap="round"/>
<rect x="294.6" y="17.5" width="1.8" height="25.1" fill="#1a2a1a"/>
<rect x="295.6" y="16.7" width="17.6" height="25.9" fill="#3aa644" rx="0.6"/>
<rect x="297.0" y="17.6" width="0.9" height="1.0" fill="#d6c060"/>
<rect x="298.7" y="17.6" width="0.9" height="1.0" fill="#d6c060"/>
<rect x="300.4" y="17.6" width="0.9" height="1.0" fill="#d6c060"/>
<rect x="302.1" y="17.6" width="0.9" height="1.0" fill="#d6c060"/>
<rect x="303.8" y="17.6" width="0.9" height="1.0" fill="#d6c060"/>
<rect x="305.5" y="17.6" width="0.9" height="1.0" fill="#d6c060"/>
<rect x="307.2" y="17.6" width="0.9" height="1.0" fill="#d6c060"/>
<rect x="308.9" y="17.6" width="0.9" height="1.0" fill="#d6c060"/>
<rect x="310.6" y="17.6" width="0.9" height="1.0" fill="#d6c060"/>
<rect x="302.0" y="25.0" width="7.7" height="11.7" fill="#1c1c1c"/>
<rect x="303.6" y="27.8" width="4.6" height="5.4" fill="#d8d8d8"/>
<rect x="304.6" y="29.0" width="2.6" height="3.0" fill="#666"/>
<rect x="300.0" y="38.0" width="1.3" height="2.0" fill="#e0e0c8"/>
<rect x="302.6" y="38.0" width="1.3" height="2.0" fill="#e0e0c8"/>
<rect x="305.2" y="38.0" width="1.3" height="2.0" fill="#e0e0c8"/>
<rect x="307.8" y="38.0" width="1.3" height="2.0" fill="#e0e0c8"/>
<rect x="310.2" y="38.0" width="1.3" height="2.0" fill="#e0e0c8"/>
<rect x="299.6" y="42.6" width="11.8" height="12.9" fill="#151515"/>
<rect x="301.0" y="43.2" width="1.7" height="7.3" fill="#8c8c8c"/>
<rect x="304.6" y="43.2" width="1.7" height="7.3" fill="#8c8c8c"/>
<rect x="308.2" y="43.2" width="1.7" height="7.3" fill="#8c8c8c"/>
<path d="M301.0,55.5 C301.0,66 303.0,76 303.0,87.5" fill="none" stroke="#9860c8" stroke-width="1.1" stroke-linecap="round"/>
<path d="M303.2,55.5 C303.2,66 304.4,76 304.4,87.5" fill="none" stroke="#f0f0f0" stroke-width="1.1" stroke-linecap="round"/>
<path d="M305.2,55.5 C305.2,66 305.8,76 305.8,87.5" fill="none" stroke="#f0c420" stroke-width="1.1" stroke-linecap="round"/>
<path d="M307.2,55.5 C307.2,66 307.2,76 307.2,87.5" fill="none" stroke="#f08020" stroke-width="1.1" stroke-linecap="round"/>
<path d="M309.2,55.5 C309.2,66 308.6,76 308.6,87.5" fill="none" stroke="#e02828" stroke-width="1.1" stroke-linecap="round"/>
<path d="M310.6,55.5 C310.6,66 309.8,76 309.8,87.5" fill="none" stroke="#eeeeee" stroke-width="1.1" stroke-linecap="round"/>
<path d="M329.5,26 C327.5,45 330,70 335.5,87.5" fill="none" stroke="#e8e4de" stroke-width="2.0" stroke-linecap="round"/>
<rect x="330.9" y="27.0" width="4.7" height="19.0" fill="#1b1f1b"/>
<rect x="333.2" y="26.0" width="17.7" height="21.3" fill="#2f8f3c" rx="0.8"/>
<rect x="335.6" y="25.0" width="18.8" height="9.4" fill="#2b55bc" rx="1"/>
<rect x="337.5" y="25.6" width="9.0" height="3.2" fill="#5a88e8"/>
<rect x="340.6" y="37.2" width="5.4" height="5.2" fill="#1c1c1c"/>
<rect x="338.0" y="44.0" width="1.3" height="2.0" fill="#e0e0c8"/>
<rect x="340.6" y="44.0" width="1.3" height="2.0" fill="#e0e0c8"/>
<rect x="343.2" y="44.0" width="1.3" height="2.0" fill="#e0e0c8"/>
<rect x="345.8" y="44.0" width="1.3" height="2.0" fill="#e0e0c8"/>
<rect x="336.8" y="47.3" width="8.9" height="14.1" fill="#151515"/>
<path d="M337.8,61.4 C337.8,70 338.4,78 338.4,87.5" fill="none" stroke="#3a8fb0" stroke-width="1.0" stroke-linecap="round"/>
<path d="M339.6,61.4 C339.6,70 339.6,78 339.6,87.5" fill="none" stroke="#f2f2f2" stroke-width="1.0" stroke-linecap="round"/>
<path d="M341.4,61.4 C341.4,70 340.6,78 340.6,87.5" fill="none" stroke="#c8c8c8" stroke-width="1.0" stroke-linecap="round"/>
<path d="M343.2,61.4 C343.2,70 341.8,78 341.8,87.5" fill="none" stroke="#2a2a2a" stroke-width="1.0" stroke-linecap="round"/>
<path d="M344.8,61.4 C344.8,70 342.8,78 342.8,87.5" fill="none" stroke="#5aa0c0" stroke-width="1.0" stroke-linecap="round"/>
<path d="M360.5,32 C359,48 359.5,70 362.7,87.8" fill="none" stroke="#ead8d0" stroke-width="4.0" stroke-linecap="round"/>
<polygon points="360.8,30.2 367.5,25.6 373.8,24.0 378.6,26.4 379.2,44.0 377.8,57.6 368.6,57.6 368.4,45.6 362.6,43.8 360.8,36.5" fill="#1c1c1c"/>
<rect x="365.9" y="31.8" width="7.4" height="8.4" fill="#d82424"/>
<rect x="368.2" y="33.2" width="3.2" height="5.6" fill="#3a0808"/>
<rect x="368.9" y="34.0" width="1.8" height="1.6" fill="#e83030"/>
<rect x="368.9" y="36.4" width="1.8" height="1.6" fill="#e83030"/>
<path d="M372.8,57.6 C374.5,68 376.8,78 378.6,87.8" fill="none" stroke="#3a3330" stroke-width="0.9" stroke-linecap="round"/>
<path d="M375.6,57.6 C377.6,68 379.9,78 381.7,87.8" fill="none" stroke="#3a3330" stroke-width="0.9" stroke-linecap="round"/>
<path d="M370.8,57.6 C370,68 368,78 366.5,87.8" fill="none" stroke="#ece4de" stroke-width="1.2" stroke-linecap="round"/>
<text x="222.9" y="85.0" font-size="7.0" font-weight="bold" stroke="#000" stroke-width="0.18" textLength="31.7" lengthAdjust="spacingAndGlyphs">Main Board</text>
<text x="318.3" y="21.6" font-size="6.9" font-weight="bold" stroke="#000" stroke-width="0.18" textLength="89.8" lengthAdjust="spacingAndGlyphs">Detachable Optical Headers (x3)</text>
<text x="389.4" y="66.7" font-size="7.2" font-weight="bold" stroke="#000" stroke-width="0.18" textLength="16.7" lengthAdjust="spacingAndGlyphs">1 inch</text>
<line x1="388.6" y1="70.0" x2="407.4" y2="70.0" stroke="#000" stroke-width="1.3"/>
<rect x="203.9" y="94.8" width="215.8" height="66.6" fill="none" stroke="#000" stroke-width="1.4"/>
<circle cx="212.9" cy="131.8" r="5.5" fill="none" stroke="#111" stroke-width="1.3"/>
<path d="M210.1,134.8 V130.4 Q210.1,129.4 211.1,129.4 H212.0 Q212.9,129.4 212.9,130.4 V133.6 Q212.9,134.6 213.8,134.6 H214.7 Q215.7,134.6 215.7,133.6 V129.2" fill="none" stroke="#111" stroke-width="0.9"/>
<polyline points="212.9,126.3 212.9,119.1 230.3,119.1 230.3,127.6" fill="none" stroke="#111" stroke-width="1.3"/>
<polyline points="212.9,137.3 212.9,150.1 263.4,150.1 263.4,108.6 295.4,108.6 295.4,119.4" fill="none" stroke="#111" stroke-width="1.3"/>
<polygon points="224.7,127.6 235.9,127.6 230.3,137.2" fill="none" stroke="#111" stroke-width="1.3"/>
<line x1="224.7" y1="139.4" x2="235.9" y2="139.4" stroke="#111" stroke-width="1.5"/>
<line x1="230.3" y1="137.2" x2="230.3" y2="152.8" stroke="#111" stroke-width="1.3"/>
<line x1="236.6" y1="134.0" x2="239.6" y2="132.0" stroke="#111" stroke-width="0.9"/>
<line x1="236.2" y1="137.0" x2="239.2" y2="135.0" stroke="#111" stroke-width="0.9"/>
<polygon points="225.6,152.8 235.0,152.8 230.3,158.5" fill="none" stroke="#111" stroke-width="1.3"/>
<rect x="246.5" y="105.8" width="63.6" height="49.2" fill="none" stroke="#444" stroke-width="1.0" stroke-dasharray="2.8,1.8"/>
<text x="246.6" y="102.9" font-size="6.0" font-weight="bold" stroke="#000" stroke-width="0.18" textLength="65.2" lengthAdjust="spacingAndGlyphs">Photo Sensor + PreAmp</text>
<ellipse cx="264.0" cy="130.5" rx="13.6" ry="12.6" fill="none" stroke="#3f6fd0" stroke-width="1.4"/>
<polygon points="258.3,135.6 268.5,135.6 263.4,126.0" fill="none" stroke="#111" stroke-width="1.1"/>
<line x1="258.3" y1="125.6" x2="268.5" y2="125.6" stroke="#111" stroke-width="1.2"/>
<polygon points="285.6,119.4 305.2,119.4 295.4,134.6" fill="none" stroke="#111" stroke-width="1.2"/>
<polyline points="295.4,134.6 295.4,140.9 314.8,140.9" fill="none" stroke="#111" stroke-width="1.1"/>
<polygon points="314.0,138.8 318.2,140.9 314.0,143.0" fill="#111" stroke="none" stroke-width="1"/>
<text x="271.3" y="152.0" font-size="6.6" font-weight="bold" stroke="#000" stroke-width="0.18" textLength="24.0" lengthAdjust="spacingAndGlyphs">OPT101</text>
<rect x="317.2" y="123.8" width="55.6" height="30.3" fill="none" stroke="#444" stroke-width="1.0" stroke-dasharray="2.8,1.8"/>
<text x="320.8" y="120.9" font-size="6.0" font-weight="bold" stroke="#000" stroke-width="0.18" textLength="49.8" lengthAdjust="spacingAndGlyphs">Sync Demodulator</text>
<rect x="318.5" y="127.9" width="25.0" height="22.4" fill="#fff" stroke="#000" stroke-width="1.2"/>
<line x1="340.6" y1="128.6" x2="340.6" y2="149.6" stroke="#bbb" stroke-width="0.5"/>
<text x="320.9" y="141.8" font-size="6.6" font-weight="bold" stroke="#000" stroke-width="0.18" textLength="20.4" lengthAdjust="spacingAndGlyphs">AD630</text>
<line x1="343.0" y1="131.5" x2="349.2" y2="131.5" stroke="#111" stroke-width="1.1"/>
<line x1="343.0" y1="146.8" x2="349.2" y2="146.8" stroke="#111" stroke-width="1.1"/>
<polygon points="349.0,127.2 349.0,151.0 369.8,139.1" fill="none" stroke="#111" stroke-width="1.3"/>
<text x="350.6" y="134.0" font-size="5" font-weight="bold" stroke="#000" stroke-width="0.18">-</text>
<text x="350.3" y="146.0" font-size="5" font-weight="bold" stroke="#000" stroke-width="0.18">+</text>
<line x1="369.6" y1="139.2" x2="374.4" y2="139.2" stroke="#111" stroke-width="1.1"/>
<rect x="374.4" y="130.6" width="22.9" height="16.0" fill="none" stroke="#000" stroke-width="1.1"/>
<polyline points="377.8,135.0 390.6,135.0 395.2,142.6" fill="none" stroke="#111" stroke-width="1.0"/>
<line x1="397.3" y1="139.2" x2="409.5" y2="139.2" stroke="#111" stroke-width="1.1"/>
<circle cx="409.6" cy="139.2" r="2.2" fill="#111"/>
<text x="375.8" y="155.6" font-size="6.5" font-weight="bold" stroke="#000" stroke-width="0.18" textLength="19.6" lengthAdjust="spacingAndGlyphs">LM471</text>
<rect x="390.2" y="107.1" width="25.5" height="14.9" fill="#1e1e1e" stroke="none" stroke-width="0" rx="1"/>
<rect x="391.2" y="108.4" width="12.2" height="9.7" fill="#d6d6d2" stroke="none" stroke-width="0"/>
<line x1="394.2" y1="108.6" x2="394.2" y2="117.9" stroke="#b4b4ae" stroke-width="0.4" stroke-dasharray="0.6,0.6"/>
<line x1="397.2" y1="108.6" x2="397.2" y2="117.9" stroke="#b4b4ae" stroke-width="0.4" stroke-dasharray="0.6,0.6"/>
<line x1="400.2" y1="108.6" x2="400.2" y2="117.9" stroke="#b4b4ae" stroke-width="0.4" stroke-dasharray="0.6,0.6"/>
<line x1="391.4" y1="111.0" x2="403.2" y2="111.0" stroke="#b4b4ae" stroke-width="0.4" stroke-dasharray="0.6,0.6"/>
<line x1="391.4" y1="113.6" x2="403.2" y2="113.6" stroke="#b4b4ae" stroke-width="0.4" stroke-dasharray="0.6,0.6"/>
<line x1="391.4" y1="116.0" x2="403.2" y2="116.0" stroke="#b4b4ae" stroke-width="0.4" stroke-dasharray="0.6,0.6"/>
<rect x="392.5" y="119.0" width="1.4" height="0.9" fill="#8a8a8a" stroke="none" stroke-width="0"/>
<rect x="395.0" y="119.0" width="1.4" height="0.9" fill="#8a8a8a" stroke="none" stroke-width="0"/>
<rect x="397.5" y="119.0" width="1.4" height="0.9" fill="#8a8a8a" stroke="none" stroke-width="0"/>
<rect x="400.0" y="119.0" width="1.4" height="0.9" fill="#8a8a8a" stroke="none" stroke-width="0"/>
<rect x="406.2" y="108.2" width="1.8" height="4.8" fill="#9a9a9a" stroke="none" stroke-width="0"/>
<rect x="406.2" y="114.3" width="1.8" height="5.4" fill="#8a8a8a" stroke="none" stroke-width="0"/>
<rect x="409.4" y="108.2" width="1.8" height="4.8" fill="#9a9a9a" stroke="none" stroke-width="0"/>
<rect x="409.4" y="114.3" width="1.8" height="5.4" fill="#8a8a8a" stroke="none" stroke-width="0"/>
<rect x="412.59999999999997" y="108.2" width="1.8" height="4.8" fill="#9a9a9a" stroke="none" stroke-width="0"/>
<rect x="412.59999999999997" y="114.3" width="1.8" height="5.4" fill="#8a8a8a" stroke="none" stroke-width="0"/>
<circle cx="405.0" cy="109.3" r="0.8" fill="#e0e0e0"/>
<circle cx="392.4" cy="122.0" r="1.0" fill="#222"/>
<circle cx="413.3" cy="122.0" r="1.0" fill="#222"/>
<text x="32.7" y="179.0" font-size="11.3" font-weight="bold" stroke="#000" stroke-width="0.18" textLength="10.1" lengthAdjust="spacingAndGlyphs">b)</text>
<line x1="29.3" y1="297.0" x2="214.7" y2="297.0" stroke="#dcdcdc" stroke-width="0.7"/>
<line x1="29.3" y1="274.6" x2="214.7" y2="274.6" stroke="#dcdcdc" stroke-width="0.7"/>
<line x1="29.3" y1="252.2" x2="214.7" y2="252.2" stroke="#dcdcdc" stroke-width="0.7"/>
<line x1="29.3" y1="229.8" x2="214.7" y2="229.8" stroke="#dcdcdc" stroke-width="0.7"/>
<line x1="29.3" y1="207.4" x2="214.7" y2="207.4" stroke="#dcdcdc" stroke-width="0.7"/>
<line x1="29.3" y1="185.0" x2="214.7" y2="185.0" stroke="#dcdcdc" stroke-width="0.7"/>
<line x1="29.3" y1="185.0" x2="29.3" y2="297.0" stroke="#dcdcdc" stroke-width="0.7"/>
<line x1="75.64999999999999" y1="185.0" x2="75.64999999999999" y2="297.0" stroke="#dcdcdc" stroke-width="0.7"/>
<line x1="121.99999999999999" y1="185.0" x2="121.99999999999999" y2="297.0" stroke="#dcdcdc" stroke-width="0.7"/>
<line x1="168.35" y1="185.0" x2="168.35" y2="297.0" stroke="#dcdcdc" stroke-width="0.7"/>
<line x1="214.7" y1="185.0" x2="214.7" y2="297.0" stroke="#dcdcdc" stroke-width="0.7"/>
<text x="23.5" y="300.0" font-size="7.0" font-weight="bold" text-anchor="end" stroke="#000" stroke-width="0.18" textLength="3.4" lengthAdjust="spacingAndGlyphs">0</text>
<text x="23.5" y="277.6" font-size="7.0" font-weight="bold" text-anchor="end" stroke="#000" stroke-width="0.18" textLength="9.2" lengthAdjust="spacingAndGlyphs">0.5</text>
<text x="23.5" y="255.2" font-size="7.0" font-weight="bold" text-anchor="end" stroke="#000" stroke-width="0.18" textLength="3.4" lengthAdjust="spacingAndGlyphs">1</text>
<text x="23.5" y="232.8" font-size="7.0" font-weight="bold" text-anchor="end" stroke="#000" stroke-width="0.18" textLength="9.2" lengthAdjust="spacingAndGlyphs">1.5</text>
<text x="23.5" y="210.4" font-size="7.0" font-weight="bold" text-anchor="end" stroke="#000" stroke-width="0.18" textLength="3.4" lengthAdjust="spacingAndGlyphs">2</text>
<text x="23.5" y="188.0" font-size="7.0" font-weight="bold" text-anchor="end" stroke="#000" stroke-width="0.18" textLength="9.2" lengthAdjust="spacingAndGlyphs">2.5</text>
<text x="29.3" y="307.6" font-size="6.9" font-weight="bold" text-anchor="middle" stroke="#000" stroke-width="0.18" textLength="10.8" lengthAdjust="spacingAndGlyphs">300</text>
<text x="75.64999999999999" y="307.6" font-size="6.9" font-weight="bold" text-anchor="middle" stroke="#000" stroke-width="0.18" textLength="10.8" lengthAdjust="spacingAndGlyphs">500</text>
<text x="121.99999999999999" y="307.6" font-size="6.9" font-weight="bold" text-anchor="middle" stroke="#000" stroke-width="0.18" textLength="10.8" lengthAdjust="spacingAndGlyphs">700</text>
<text x="168.35" y="307.6" font-size="6.9" font-weight="bold" text-anchor="middle" stroke="#000" stroke-width="0.18" textLength="10.8" lengthAdjust="spacingAndGlyphs">900</text>
<text x="214.7" y="307.6" font-size="6.9" font-weight="bold" text-anchor="middle" stroke="#000" stroke-width="0.18" textLength="14.2" lengthAdjust="spacingAndGlyphs">1100</text>
<text x="89.8" y="317.3" font-size="8.5" font-weight="bold" stroke="#000" stroke-width="0.18" textLength="63.6" lengthAdjust="spacingAndGlyphs">Wavelength (nm)</text>
<text x="10.8" y="233.6" font-size="8.6" font-weight="bold" text-anchor="middle" stroke="#000" stroke-width="0.18" textLength="69.5" lengthAdjust="spacingAndGlyphs" transform="rotate(-90 10.8 233.6)">Absorbance (OD)</text>
<line x1="62.0" y1="264.0" x2="155.5" y2="264.0" stroke="#c4c4c4" stroke-width="0.6"/>
<line x1="62.0" y1="260.44" x2="155.5" y2="260.44" stroke="#d2d2d2" stroke-width="0.6"/>
<line x1="62.0" y1="256.88" x2="155.5" y2="256.88" stroke="#d2d2d2" stroke-width="0.6"/>
<line x1="62.0" y1="253.32" x2="155.5" y2="253.32" stroke="#d2d2d2" stroke-width="0.6"/>
<line x1="62.0" y1="249.76" x2="155.5" y2="249.76" stroke="#d2d2d2" stroke-width="0.6"/>
<line x1="62.0" y1="246.2" x2="155.5" y2="246.2" stroke="#c4c4c4" stroke-width="0.6"/>
<line x1="62.0" y1="242.64000000000001" x2="155.5" y2="242.64000000000001" stroke="#d2d2d2" stroke-width="0.6"/>
<line x1="62.0" y1="239.08" x2="155.5" y2="239.08" stroke="#d2d2d2" stroke-width="0.6"/>
<line x1="62.0" y1="235.52" x2="155.5" y2="235.52" stroke="#d2d2d2" stroke-width="0.6"/>
<line x1="62.0" y1="231.96" x2="155.5" y2="231.96" stroke="#d2d2d2" stroke-width="0.6"/>
<line x1="62.0" y1="228.4" x2="155.5" y2="228.4" stroke="#c4c4c4" stroke-width="0.6"/>
<line x1="62.0" y1="224.84" x2="155.5" y2="224.84" stroke="#d2d2d2" stroke-width="0.6"/>
<line x1="62.0" y1="221.28" x2="155.5" y2="221.28" stroke="#d2d2d2" stroke-width="0.6"/>
<line x1="62.0" y1="217.72" x2="155.5" y2="217.72" stroke="#d2d2d2" stroke-width="0.6"/>
<line x1="62.0" y1="214.16000000000003" x2="155.5" y2="214.16000000000003" stroke="#d2d2d2" stroke-width="0.6"/>
<line x1="62.0" y1="210.60000000000002" x2="155.5" y2="210.60000000000002" stroke="#c4c4c4" stroke-width="0.6"/>
<line x1="62.0" y1="207.04000000000002" x2="155.5" y2="207.04000000000002" stroke="#d2d2d2" stroke-width="0.6"/>
<line x1="62.0" y1="203.48000000000002" x2="155.5" y2="203.48000000000002" stroke="#d2d2d2" stroke-width="0.6"/>
<line x1="62.0" y1="199.92000000000002" x2="155.5" y2="199.92000000000002" stroke="#d2d2d2" stroke-width="0.6"/>
<line x1="62.0" y1="196.36" x2="155.5" y2="196.36" stroke="#d2d2d2" stroke-width="0.6"/>
<line x1="62.0" y1="192.8" x2="155.5" y2="192.8" stroke="#c4c4c4" stroke-width="0.6"/>
<line x1="62.0" y1="192.8" x2="62.0" y2="264.0" stroke="#bbb" stroke-width="0.6"/>
<line x1="60.0" y1="264.0" x2="62.0" y2="264.0" stroke="#999" stroke-width="0.6"/>
<text x="55.4" y="267.0" font-size="8.2" font-weight="bold" text-anchor="end" stroke="#000" stroke-width="0.18" textLength="4.2" lengthAdjust="spacingAndGlyphs">0</text>
<line x1="60.0" y1="246.2" x2="62.0" y2="246.2" stroke="#999" stroke-width="0.6"/>
<text x="55.4" y="249.2" font-size="8.2" font-weight="bold" text-anchor="end" stroke="#000" stroke-width="0.18" textLength="8.8" lengthAdjust="spacingAndGlyphs">10</text>
<line x1="60.0" y1="228.4" x2="62.0" y2="228.4" stroke="#999" stroke-width="0.6"/>
<text x="55.4" y="231.4" font-size="8.2" font-weight="bold" text-anchor="end" stroke="#000" stroke-width="0.18" textLength="8.8" lengthAdjust="spacingAndGlyphs">20</text>
<line x1="60.0" y1="210.60000000000002" x2="62.0" y2="210.60000000000002" stroke="#999" stroke-width="0.6"/>
<text x="55.4" y="213.60000000000002" font-size="8.2" font-weight="bold" text-anchor="end" stroke="#000" stroke-width="0.18" textLength="8.8" lengthAdjust="spacingAndGlyphs">30</text>
<line x1="60.0" y1="192.8" x2="62.0" y2="192.8" stroke="#999" stroke-width="0.6"/>
<text x="55.4" y="195.8" font-size="8.2" font-weight="bold" text-anchor="end" stroke="#000" stroke-width="0.18" textLength="8.8" lengthAdjust="spacingAndGlyphs">40</text>
<text x="41.8" y="227.5" font-size="5.9" font-weight="bold" text-anchor="middle" stroke="#000" stroke-width="0.18" textLength="50.5" lengthAdjust="spacingAndGlyphs" transform="rotate(-90 41.8 227.5)">Absorbance (OD)</text>
<rect x="71.6" y="259.0" width="12.600000000000009" height="5.0" fill="#4f7fc0" stroke="none" stroke-width="0"/>
<text x="77.9" y="257.4" font-size="6.6" font-weight="bold" text-anchor="middle" stroke="#000" stroke-width="0.18" textLength="10.0" lengthAdjust="spacingAndGlyphs">100</text>
<rect x="102.8" y="239.6" width="12.0" height="24.400000000000006" fill="#4f7fc0" stroke="none" stroke-width="0"/>
<text x="108.8" y="238.0" font-size="6.6" font-weight="bold" text-anchor="middle" stroke="#000" stroke-width="0.18" textLength="10.0" lengthAdjust="spacingAndGlyphs">300</text>
<rect x="134.2" y="208.7" width="11.800000000000011" height="55.30000000000001" fill="#4f7fc0" stroke="none" stroke-width="0"/>
<text x="140.1" y="207.1" font-size="6.6" font-weight="bold" text-anchor="middle" stroke="#000" stroke-width="0.18" textLength="10.0" lengthAdjust="spacingAndGlyphs">500</text>
<text x="61.2" y="271.8" font-size="6.4" font-weight="bold" stroke="#000" stroke-width="0.18" textLength="88.0" lengthAdjust="spacingAndGlyphs">Glucose Concentration (mg/dl)</text>
<line x1="40.2" y1="259.2" x2="40.2" y2="297.3" stroke="#555" stroke-width="0.7"/>
<line x1="40.8" y1="297.4" x2="83.6" y2="297.4" stroke="#000" stroke-width="3.2" stroke-linecap="round"/>
<line x1="88.4" y1="297.4" x2="99.6" y2="297.4" stroke="#000" stroke-width="3.2" stroke-linecap="round"/>
<line x1="103.0" y1="297.4" x2="201.4" y2="297.4" stroke="#000" stroke-width="3.2" stroke-linecap="round"/>
<line x1="180.8" y1="194.7" x2="180.8" y2="297.3" stroke="#3a3a3a" stroke-width="0.6"/>
<line x1="183.3" y1="209.4" x2="183.3" y2="297.3" stroke="#3a3a3a" stroke-width="0.6"/>
<line x1="186.5" y1="237.0" x2="186.5" y2="297.3" stroke="#3a3a3a" stroke-width="0.6"/>
<line x1="188.8" y1="233.0" x2="188.8" y2="297.3" stroke="#3a3a3a" stroke-width="0.6"/>
<line x1="193.9" y1="240.2" x2="193.9" y2="297.3" stroke="#3a3a3a" stroke-width="0.6"/>
<line x1="197.9" y1="222.4" x2="197.9" y2="297.3" stroke="#3a3a3a" stroke-width="0.6"/>
<line x1="198.5" y1="228.8" x2="198.5" y2="297.3" stroke="#3a3a3a" stroke-width="0.6"/>
<line x1="177.4" y1="254.1" x2="177.4" y2="297.3" stroke="#3a3a3a" stroke-width="0.6"/>
<line x1="182.0" y1="250.6" x2="182.0" y2="297.3" stroke="#3a3a3a" stroke-width="0.6"/>
<line x1="182.4" y1="258.5" x2="182.4" y2="297.3" stroke="#3a3a3a" stroke-width="0.6"/>
<line x1="188.5" y1="248.0" x2="188.5" y2="297.3" stroke="#3a3a3a" stroke-width="0.6"/>
<line x1="192.0" y1="248.0" x2="192.0" y2="297.3" stroke="#3a3a3a" stroke-width="0.6"/>
<line x1="193.5" y1="252.4" x2="193.5" y2="297.3" stroke="#3a3a3a" stroke-width="0.6"/>
<line x1="198.6" y1="246.2" x2="198.6" y2="297.3" stroke="#3a3a3a" stroke-width="0.6"/>
<line x1="189.4" y1="262.0" x2="189.4" y2="297.3" stroke="#3a3a3a" stroke-width="0.6"/>
<line x1="199.6" y1="260.8" x2="199.6" y2="297.3" stroke="#3a3a3a" stroke-width="0.6"/>
<line x1="185.5" y1="268.2" x2="185.5" y2="297.3" stroke="#3a3a3a" stroke-width="0.6"/>
<line x1="196.5" y1="272.6" x2="196.5" y2="297.3" stroke="#3a3a3a" stroke-width="0.6"/>
<line x1="192.6" y1="273.9" x2="192.6" y2="297.3" stroke="#3a3a3a" stroke-width="0.6"/>
<line x1="182.7" y1="278.8" x2="182.7" y2="297.3" stroke="#3a3a3a" stroke-width="0.6"/>
<line x1="184.5" y1="282.4" x2="184.5" y2="297.3" stroke="#3a3a3a" stroke-width="0.6"/>
<line x1="181.0" y1="287.6" x2="181.0" y2="297.3" stroke="#3a3a3a" stroke-width="0.6"/>
<line x1="183.2" y1="274.4" x2="183.2" y2="297.3" stroke="#3a3a3a" stroke-width="0.6"/>
<line x1="184.1" y1="277.0" x2="184.1" y2="297.3" stroke="#3a3a3a" stroke-width="0.6"/>
<line x1="188.0" y1="291.5" x2="188.0" y2="297.3" stroke="#3a3a3a" stroke-width="0.6"/>
<line x1="190.5" y1="292.0" x2="190.5" y2="297.3" stroke="#3a3a3a" stroke-width="0.6"/>
<line x1="194.0" y1="291.0" x2="194.0" y2="297.3" stroke="#3a3a3a" stroke-width="0.6"/>
<line x1="197.0" y1="292.5" x2="197.0" y2="297.3" stroke="#3a3a3a" stroke-width="0.6"/>
<line x1="186.0" y1="293.5" x2="186.0" y2="297.3" stroke="#3a3a3a" stroke-width="0.6"/>
<line x1="199.0" y1="293.0" x2="199.0" y2="297.3" stroke="#3a3a3a" stroke-width="0.6"/>
<line x1="179.0" y1="295.0" x2="179.0" y2="297.3" stroke="#3a3a3a" stroke-width="0.6"/>
<line x1="183.5" y1="289.5" x2="183.5" y2="297.3" stroke="#3a3a3a" stroke-width="0.6"/>
<line x1="195.5" y1="285.0" x2="195.5" y2="297.3" stroke="#3a3a3a" stroke-width="0.6"/>
<line x1="201.0" y1="294.0" x2="201.0" y2="297.3" stroke="#3a3a3a" stroke-width="0.6"/>
<line x1="182.6" y1="262" x2="182.6" y2="297.3" stroke="#2a2a2a" stroke-width="0.7"/>
<line x1="185.2" y1="264" x2="185.2" y2="297.3" stroke="#2a2a2a" stroke-width="0.7"/>
<line x1="196.6" y1="270" x2="196.6" y2="297.3" stroke="#2a2a2a" stroke-width="0.7"/>
<line x1="198.2" y1="266" x2="198.2" y2="297.3" stroke="#2a2a2a" stroke-width="0.7"/>
<line x1="187.9" y1="270" x2="187.9" y2="297.3" stroke="#2a2a2a" stroke-width="0.7"/>
<line x1="192.4" y1="268" x2="192.4" y2="297.3" stroke="#2a2a2a" stroke-width="0.7"/>
<polyline points="186.8,297.0 186.8,290.0 199.5,289.5 199.5,297.0" fill="none" stroke="#333" stroke-width="0.8"/>
<circle cx="180.8" cy="194.7" r="1.25" fill="#000"/>
<circle cx="183.3" cy="209.4" r="1.25" fill="#000"/>
<circle cx="186.5" cy="237.0" r="1.25" fill="#000"/>
<circle cx="188.8" cy="233.0" r="1.25" fill="#000"/>
<circle cx="193.9" cy="240.2" r="1.25" fill="#000"/>
<circle cx="197.9" cy="222.4" r="1.25" fill="#000"/>
<circle cx="198.5" cy="228.8" r="1.25" fill="#000"/>
<circle cx="177.4" cy="254.1" r="1.25" fill="#000"/>
<circle cx="182.0" cy="250.6" r="1.25" fill="#000"/>
<circle cx="182.4" cy="258.5" r="1.25" fill="#000"/>
<circle cx="188.5" cy="248.0" r="1.25" fill="#000"/>
<circle cx="192.0" cy="248.0" r="1.25" fill="#000"/>
<circle cx="193.5" cy="252.4" r="1.25" fill="#000"/>
<circle cx="198.6" cy="246.2" r="1.25" fill="#000"/>
<circle cx="189.4" cy="262.0" r="1.25" fill="#000"/>
<circle cx="199.6" cy="260.8" r="1.25" fill="#000"/>
<circle cx="185.5" cy="268.2" r="1.25" fill="#000"/>
<circle cx="196.5" cy="272.6" r="1.25" fill="#000"/>
<circle cx="192.6" cy="273.9" r="1.25" fill="#000"/>
<circle cx="182.7" cy="278.8" r="1.25" fill="#000"/>
<circle cx="184.5" cy="282.4" r="1.25" fill="#000"/>
<circle cx="181.0" cy="287.6" r="1.25" fill="#000"/>
<circle cx="183.2" cy="274.4" r="1.25" fill="#000"/>
<circle cx="184.1" cy="277.0" r="1.25" fill="#000"/>
<circle cx="188.0" cy="291.5" r="1.25" fill="#000"/>
<circle cx="190.5" cy="292.0" r="1.25" fill="#000"/>
<circle cx="194.0" cy="291.0" r="1.25" fill="#000"/>
<circle cx="197.0" cy="292.5" r="1.25" fill="#000"/>
<circle cx="186.0" cy="293.5" r="1.25" fill="#000"/>
<circle cx="199.0" cy="293.0" r="1.25" fill="#000"/>
<circle cx="179.0" cy="295.0" r="1.25" fill="#000"/>
<circle cx="183.5" cy="289.5" r="1.25" fill="#000"/>
<circle cx="195.5" cy="285.0" r="1.25" fill="#000"/>
<circle cx="201.0" cy="294.0" r="1.25" fill="#000"/>
<circle cx="40.2" cy="259.2" r="1.25" fill="#000"/>
<circle cx="40.0" cy="279.6" r="1.25" fill="#000"/>
<circle cx="40.1" cy="281.0" r="1.25" fill="#000"/>
<circle cx="39.7" cy="284.0" r="1.25" fill="#000"/>
<circle cx="40.3" cy="285.4" r="1.25" fill="#000"/>
<circle cx="40.0" cy="294.0" r="1.25" fill="#000"/>
<rect x="186.8" y="290.0" width="12.7" height="7.0" fill="#888" stroke="none" stroke-width="0" opacity="0.6"/>
<rect x="268.6" y="172.3" width="268.4" height="43.099999999999994" fill="none" stroke="#8c8c8c" stroke-width="0.8"/>
<line x1="268.6" y1="172.3" x2="270.8" y2="172.3" stroke="#8c8c8c" stroke-width="0.7"/>
<line x1="534.8" y1="172.3" x2="537.0" y2="172.3" stroke="#8c8c8c" stroke-width="0.7"/>
<line x1="268.6" y1="183.07500000000002" x2="270.8" y2="183.07500000000002" stroke="#8c8c8c" stroke-width="0.7"/>
<line x1="534.8" y1="183.07500000000002" x2="537.0" y2="183.07500000000002" stroke="#8c8c8c" stroke-width="0.7"/>
<line x1="268.6" y1="193.85000000000002" x2="270.8" y2="193.85000000000002" stroke="#8c8c8c" stroke-width="0.7"/>
<line x1="534.8" y1="193.85000000000002" x2="537.0" y2="193.85000000000002" stroke="#8c8c8c" stroke-width="0.7"/>
<line x1="268.6" y1="204.625" x2="270.8" y2="204.625" stroke="#8c8c8c" stroke-width="0.7"/>
<line x1="534.8" y1="204.625" x2="537.0" y2="204.625" stroke="#8c8c8c" stroke-width="0.7"/>
<line x1="268.6" y1="215.4" x2="270.8" y2="215.4" stroke="#8c8c8c" stroke-width="0.7"/>
<line x1="534.8" y1="215.4" x2="537.0" y2="215.4" stroke="#8c8c8c" stroke-width="0.7"/>
<line x1="268.2" y1="215.4" x2="268.2" y2="213.20000000000002" stroke="#8c8c8c" stroke-width="0.7"/>
<line x1="297.988" y1="215.4" x2="297.988" y2="213.20000000000002" stroke="#8c8c8c" stroke-width="0.7"/>
<line x1="327.776" y1="215.4" x2="327.776" y2="213.20000000000002" stroke="#8c8c8c" stroke-width="0.7"/>
<line x1="357.56399999999996" y1="215.4" x2="357.56399999999996" y2="213.20000000000002" stroke="#8c8c8c" stroke-width="0.7"/>
<line x1="387.352" y1="215.4" x2="387.352" y2="213.20000000000002" stroke="#8c8c8c" stroke-width="0.7"/>
<line x1="417.14" y1="215.4" x2="417.14" y2="213.20000000000002" stroke="#8c8c8c" stroke-width="0.7"/>
<line x1="446.928" y1="215.4" x2="446.928" y2="213.20000000000002" stroke="#8c8c8c" stroke-width="0.7"/>
<line x1="476.716" y1="215.4" x2="476.716" y2="213.20000000000002" stroke="#8c8c8c" stroke-width="0.7"/>
<line x1="506.504" y1="215.4" x2="506.504" y2="213.20000000000002" stroke="#8c8c8c" stroke-width="0.7"/>
<line x1="536.2919999999999" y1="215.4" x2="536.2919999999999" y2="213.20000000000002" stroke="#8c8c8c" stroke-width="0.7"/>
<text x="266.9" y="176.20000000000002" font-size="8.4" font-weight="bold" text-anchor="end" stroke="#000" stroke-width="0.18" textLength="10.1" lengthAdjust="spacingAndGlyphs">250</text>
<text x="266.9" y="186.97500000000002" font-size="8.4" font-weight="bold" text-anchor="end" stroke="#000" stroke-width="0.18" textLength="10.1" lengthAdjust="spacingAndGlyphs">200</text>
<text x="266.9" y="197.75000000000003" font-size="8.4" font-weight="bold" text-anchor="end" stroke="#000" stroke-width="0.18" textLength="10.1" lengthAdjust="spacingAndGlyphs">150</text>
<text x="266.9" y="208.525" font-size="8.4" font-weight="bold" text-anchor="end" stroke="#000" stroke-width="0.18" textLength="10.1" lengthAdjust="spacingAndGlyphs">100</text>
<text x="266.9" y="219.3" font-size="8.4" font-weight="bold" text-anchor="end" stroke="#000" stroke-width="0.18" textLength="6.7" lengthAdjust="spacingAndGlyphs">50</text>
<text x="245.6" y="194.2" font-size="7.4" font-weight="bold" text-anchor="middle" stroke="#000" stroke-width="0.18" textLength="52.0" lengthAdjust="spacingAndGlyphs" transform="rotate(-90 245.6 194.2)">Glucose Conc.</text>
<text x="253.8" y="192.8" font-size="7.4" font-weight="bold" text-anchor="middle" stroke="#000" stroke-width="0.18" textLength="25.6" lengthAdjust="spacingAndGlyphs" transform="rotate(-90 253.8 192.8)">(mg/dl)</text>
<polyline points="268.7,205.3 286.1,198.3 298.1,195.5 314.1,190.7 329.9,181.0 342.6,183.1 357.1,179.2 369.4,182.3 382.6,185.1 396.3,189.3 423.1,191.2 436.6,196.9 450.1,197.8 463.6,196.6 477.1,195.7 491.2,194.2 503.8,196.9 517.3,199.9 530.5,205.0" fill="none" stroke="#ff1010" stroke-width="1.3"/>
<circle cx="268.7" cy="205.3" r="2.4" fill="#ff1414"/>
<circle cx="286.1" cy="198.3" r="2.4" fill="#ff1414"/>
<circle cx="298.1" cy="195.5" r="2.4" fill="#ff1414"/>
<circle cx="314.1" cy="190.7" r="2.4" fill="#ff1414"/>
<circle cx="329.9" cy="181.0" r="2.4" fill="#ff1414"/>
<circle cx="342.6" cy="183.1" r="2.4" fill="#ff1414"/>
<circle cx="357.1" cy="179.2" r="2.4" fill="#ff1414"/>
<circle cx="369.4" cy="182.3" r="2.4" fill="#ff1414"/>
<circle cx="382.6" cy="185.1" r="2.4" fill="#ff1414"/>
<circle cx="396.3" cy="189.3" r="2.4" fill="#ff1414"/>
<circle cx="423.1" cy="191.2" r="2.4" fill="#ff1414"/>
<circle cx="436.6" cy="196.9" r="2.4" fill="#ff1414"/>
<circle cx="450.1" cy="197.8" r="2.4" fill="#ff1414"/>
<circle cx="463.6" cy="196.6" r="2.4" fill="#ff1414"/>
<circle cx="477.1" cy="195.7" r="2.4" fill="#ff1414"/>
<circle cx="491.2" cy="194.2" r="2.4" fill="#ff1414"/>
<circle cx="503.8" cy="196.9" r="2.4" fill="#ff1414"/>
<circle cx="517.3" cy="199.9" r="2.4" fill="#ff1414"/>
<circle cx="530.5" cy="205.0" r="2.4" fill="#ff1414"/>
<text x="347.9" y="199.0" font-size="7.0" font-weight="bold" stroke="#000" stroke-width="0.18" textLength="24.1" lengthAdjust="spacingAndGlyphs">Invasive</text>
<rect x="268.6" y="224.1" width="268.4" height="42.20000000000002" fill="none" stroke="#8c8c8c" stroke-width="0.8"/>
<line x1="268.6" y1="224.1" x2="270.8" y2="224.1" stroke="#8c8c8c" stroke-width="0.7"/>
<line x1="534.8" y1="224.1" x2="537.0" y2="224.1" stroke="#8c8c8c" stroke-width="0.7"/>
<line x1="268.6" y1="234.65" x2="270.8" y2="234.65" stroke="#8c8c8c" stroke-width="0.7"/>
<line x1="534.8" y1="234.65" x2="537.0" y2="234.65" stroke="#8c8c8c" stroke-width="0.7"/>
<line x1="268.6" y1="245.2" x2="270.8" y2="245.2" stroke="#8c8c8c" stroke-width="0.7"/>
<line x1="534.8" y1="245.2" x2="537.0" y2="245.2" stroke="#8c8c8c" stroke-width="0.7"/>
<line x1="268.6" y1="255.75" x2="270.8" y2="255.75" stroke="#8c8c8c" stroke-width="0.7"/>
<line x1="534.8" y1="255.75" x2="537.0" y2="255.75" stroke="#8c8c8c" stroke-width="0.7"/>
<line x1="268.6" y1="266.3" x2="270.8" y2="266.3" stroke="#8c8c8c" stroke-width="0.7"/>
<line x1="534.8" y1="266.3" x2="537.0" y2="266.3" stroke="#8c8c8c" stroke-width="0.7"/>
<line x1="268.2" y1="266.3" x2="268.2" y2="264.1" stroke="#8c8c8c" stroke-width="0.7"/>
<line x1="297.988" y1="266.3" x2="297.988" y2="264.1" stroke="#8c8c8c" stroke-width="0.7"/>
<line x1="327.776" y1="266.3" x2="327.776" y2="264.1" stroke="#8c8c8c" stroke-width="0.7"/>
<line x1="357.56399999999996" y1="266.3" x2="357.56399999999996" y2="264.1" stroke="#8c8c8c" stroke-width="0.7"/>
<line x1="387.352" y1="266.3" x2="387.352" y2="264.1" stroke="#8c8c8c" stroke-width="0.7"/>
<line x1="417.14" y1="266.3" x2="417.14" y2="264.1" stroke="#8c8c8c" stroke-width="0.7"/>
<line x1="446.928" y1="266.3" x2="446.928" y2="264.1" stroke="#8c8c8c" stroke-width="0.7"/>
<line x1="476.716" y1="266.3" x2="476.716" y2="264.1" stroke="#8c8c8c" stroke-width="0.7"/>
<line x1="506.504" y1="266.3" x2="506.504" y2="264.1" stroke="#8c8c8c" stroke-width="0.7"/>
<line x1="536.2919999999999" y1="266.3" x2="536.2919999999999" y2="264.1" stroke="#8c8c8c" stroke-width="0.7"/>
<text x="266.9" y="228.0" font-size="8.4" font-weight="bold" text-anchor="end" stroke="#000" stroke-width="0.18" textLength="11.9" lengthAdjust="spacingAndGlyphs">−0.5</text>
<text x="266.9" y="238.55" font-size="8.4" font-weight="bold" text-anchor="end" stroke="#000" stroke-width="0.18" textLength="11.9" lengthAdjust="spacingAndGlyphs">−0.6</text>
<text x="266.9" y="249.1" font-size="8.4" font-weight="bold" text-anchor="end" stroke="#000" stroke-width="0.18" textLength="11.9" lengthAdjust="spacingAndGlyphs">−0.7</text>
<text x="266.9" y="259.65" font-size="8.4" font-weight="bold" text-anchor="end" stroke="#000" stroke-width="0.18" textLength="11.9" lengthAdjust="spacingAndGlyphs">−0.8</text>
<text x="266.9" y="270.2" font-size="8.4" font-weight="bold" text-anchor="end" stroke="#000" stroke-width="0.18" textLength="11.9" lengthAdjust="spacingAndGlyphs">−0.9</text>
<text x="251.0" y="245.6" font-size="7.4" font-weight="bold" text-anchor="middle" stroke="#000" stroke-width="0.18" textLength="17.7" lengthAdjust="spacingAndGlyphs" transform="rotate(-90 251.0 245.6)">(mV)</text>
<polyline points="280.0,244.3 280.4,244.5 280.8,244.6 281.3,244.7 281.7,244.1 282.1,243.6 282.5,243.3 282.9,243.1 283.4,243.0 283.8,243.4 284.2,243.5 284.6,243.5 285.0,244.2 285.5,244.4 285.9,244.7 286.3,245.2 286.7,245.0 287.1,245.0 287.6,245.7 288.0,245.9 288.4,245.9 288.8,245.9 289.2,245.2 289.7,244.8 290.1,244.1 290.5,243.7 290.9,243.3 291.3,242.9 291.8,242.9 292.2,242.7 292.6,242.0 293.0,241.5 293.4,240.9 293.9,240.3 294.3,240.3 294.7,239.9 295.1,239.5 295.5,238.7 296.0,238.8 296.4,239.2 296.8,239.5 297.2,240.1 297.6,240.6 298.1,241.4 298.5,242.4 298.9,242.9 299.3,243.5 299.7,243.7 300.2,244.0 300.6,244.3 301.0,244.4 301.4,244.2 301.8,244.2 302.3,244.4 302.7,244.1 303.1,244.4 303.5,244.5 303.9,244.5 304.4,244.8 304.8,245.2 305.2,245.3 305.6,245.1 306.0,244.7 306.5,243.9 306.9,243.3 307.3,242.6 307.7,241.7 308.1,241.1 308.6,240.8 309.0,241.1 309.4,241.2 309.8,240.7 310.2,240.7 310.7,240.3 311.1,239.6 311.5,239.5 311.9,239.1 312.3,238.8 312.8,239.0 313.2,239.6 313.6,239.8 314.0,239.9 314.4,240.0 314.9,240.1 315.3,240.8 315.7,241.6 316.1,242.3 316.5,243.0 317.0,243.0 317.4,242.8 317.8,242.8 318.2,242.5 318.6,242.4 319.1,242.1 319.5,241.7 319.9,241.5 320.3,241.2 320.7,241.1 321.2,240.9 321.6,241.0 322.0,241.2 322.4,241.5 322.8,241.8 323.3,241.4 323.7,241.2 324.1,240.8 324.5,241.2 324.9,241.9 325.4,242.1 325.8,242.1 326.2,242.0 326.6,242.4 327.0,243.3 327.5,243.8 327.9,243.9 328.3,243.6 328.7,243.4 329.1,243.7 329.6,244.3 330.0,245.1 330.4,245.5 330.8,245.2 331.2,245.5 331.7,245.7 332.1,245.8 332.5,246.6 332.9,246.5 333.3,246.4 333.8,246.4 334.2,246.1 334.6,245.9 335.0,245.3 335.4,244.1 335.9,243.1 336.3,242.0 336.7,241.3 337.1,240.4 337.5,239.4 338.0,238.4 338.4,238.0 338.8,237.6 339.2,237.4 339.6,237.1 340.1,236.9 340.5,237.0 340.9,237.1 341.3,237.8 341.7,238.0 342.2,238.4 342.6,238.3 343.0,237.9 343.4,238.2 343.8,238.2 344.3,238.5 344.7,238.8 345.1,238.8 345.5,238.7 345.9,238.6 346.4,238.2 346.8,237.9 347.2,237.9 347.6,237.8 348.0,237.6 348.5,238.1 348.9,238.0 349.3,237.7 349.7,237.5 350.1,236.9 350.6,236.7 351.0,236.7 351.4,236.9 351.8,236.6 352.2,236.5 352.7,236.1 353.1,235.5 353.5,235.5 353.9,235.7 354.3,235.8 354.8,235.9 355.2,235.3 355.6,234.5 356.0,234.3 356.4,234.1 356.9,234.4 357.3,234.7 357.7,234.8 358.1,234.8 358.5,235.0 359.0,235.4 359.4,236.2 359.8,237.2 360.2,237.6 360.6,237.7 361.1,238.0 361.5,238.3 361.9,239.1 362.3,240.0 362.7,240.6 363.2,240.9 363.6,240.8 364.0,240.5 364.4,240.3 364.8,240.2 365.3,240.2 365.7,240.9 366.1,240.7 366.5,240.6 366.9,240.9 367.4,240.6 367.8,240.8 368.2,240.8 368.6,240.5 369.0,240.1 369.5,239.7 369.9,239.4 370.3,238.4 370.7,237.9 371.1,237.4 371.6,236.6 372.0,236.8 372.4,236.3 372.8,236.2 373.2,235.9 373.7,235.6 374.1,236.1 374.5,236.0 374.9,236.0 375.3,236.0 375.8,235.3 376.2,235.2 376.6,235.3 377.0,235.1 377.4,235.4 377.9,235.5 378.3,235.2 378.7,234.9 379.1,234.6 379.5,234.7 380.0,234.6 380.4,235.2 380.8,235.3 381.2,235.4 381.6,235.5 382.1,235.3 382.5,235.3 382.9,235.6 383.3,235.6 383.7,235.5 384.2,235.6 384.6,235.3 385.0,235.5 385.4,235.5 385.8,235.5 386.3,235.6 386.7,235.5 387.1,235.5 387.5,235.7 387.9,235.3 388.4,234.7 388.8,234.5 389.2,234.5 389.6,235.0 390.0,235.4 390.5,235.9 390.9,235.7 391.3,235.6 391.7,236.0 392.1,236.0 392.6,236.2 393.0,236.4 393.4,236.4 393.8,236.4 394.2,236.3 394.7,235.9 395.1,235.7 395.5,235.3 395.9,235.2 396.3,235.2 396.8,234.6 397.2,234.5 397.6,234.5 398.0,234.5 398.4,234.8 398.9,234.9 399.3,234.3 399.7,234.1 400.1,233.9 400.5,233.1 401.0,233.1 401.4,233.5 401.8,233.2 402.2,233.6 402.6,233.3 403.1,232.5 403.5,232.6 403.9,232.5 404.3,232.5 404.7,232.4 405.2,232.2 405.6,232.1 406.0,232.4 406.4,232.4 406.8,232.3 407.3,231.9 407.7,231.3 408.1,231.1 408.5,231.1 408.9,231.0 409.4,230.9 409.8,231.3 410.2,231.5 410.6,231.9 411.0,232.4 411.5,232.8 411.9,232.8 412.3,233.1 412.7,233.5 413.1,233.6 413.6,233.9 414.0,234.0 414.4,234.2 414.8,234.2 415.2,234.5 415.7,235.0 416.1,235.1 416.5,235.3 416.9,235.2 417.3,235.1 417.8,235.2 418.2,235.5 418.6,235.8 419.0,235.8 419.4,235.9 419.9,236.2 420.3,236.2 420.7,236.3 421.1,236.6 421.5,236.7 422.0,237.3 422.4,237.7 422.8,237.7 423.2,237.8 423.6,237.6 424.1,237.5 424.5,237.4 424.9,237.2 425.3,237.1 425.7,236.9 426.2,237.0 426.6,237.0 427.0,236.9 427.4,237.3 427.8,237.4 428.3,237.5 428.7,238.4 429.1,238.7 429.5,239.1 429.9,239.3 430.4,239.3 430.8,239.3 431.2,239.0 431.6,239.2 432.0,238.8 432.5,238.8 432.9,239.0 433.3,238.4 433.7,238.4 434.1,238.1 434.6,237.9 435.0,237.9 435.4,238.4 435.8,238.9 436.2,239.4 436.7,240.0 437.1,239.6 437.5,239.6 437.9,239.5 438.3,239.5 438.8,239.9 439.2,240.2 439.6,240.3 440.0,240.2 440.4,240.1 440.9,240.2 441.3,240.0 441.7,240.2 442.1,239.9 442.5,239.6 443.0,239.7 443.4,239.7 443.8,239.8 444.2,239.8 444.6,240.0 445.1,240.3 445.5,241.0 445.9,241.6 446.3,241.9 446.7,242.2 447.2,241.9 447.6,241.6 448.0,241.7 448.4,241.7 448.8,242.3 449.3,242.5 449.7,242.9 450.1,243.1 450.5,243.2 450.9,243.4 451.4,243.1 451.8,243.3 452.2,243.4 452.6,244.0 453.0,244.2 453.5,244.3 453.9,244.2 454.3,244.3 454.7,243.9 455.1,243.5 455.6,243.3 456.0,243.3 456.4,243.6 456.8,244.1 457.2,244.4 457.7,244.5 458.1,244.9 458.5,244.9 458.9,244.5 459.3,242.8 459.8,240.9 460.2,239.7 460.6,238.8 461.0,237.7 461.4,237.9 461.9,237.5 462.3,237.0 462.7,237.3 463.1,237.3 463.5,237.3 464.0,237.4 464.4,237.3 464.8,237.4 465.2,237.8 465.6,238.0 466.1,238.1 466.5,237.9 466.9,237.9 467.3,237.7 467.7,237.5 468.2,237.9 468.6,238.2 469.0,238.5 469.4,238.6 469.8,238.8 470.3,239.1 470.7,238.9 471.1,239.1 471.5,238.6 471.9,238.0 472.4,238.1 472.8,238.3 473.2,238.2 473.6,238.0 474.0,237.8 474.5,237.6 474.9,237.2 475.3,237.0 475.7,237.0 476.1,236.8 476.6,236.9 477.0,236.9 477.4,236.4 477.8,236.5 478.2,237.0 478.7,237.4 479.1,238.1 479.5,239.1 479.9,239.9 480.3,240.6 480.8,241.1 481.2,240.8 481.6,240.5 482.0,240.2 482.4,239.7 482.9,239.3 483.3,238.6 483.7,238.0 484.1,237.8 484.5,237.3 485.0,236.8 485.4,236.0 485.8,235.0 486.2,234.6 486.6,233.7 487.1,233.2 487.5,232.6 487.9,231.7 488.3,231.1 488.7,230.4 489.2,230.5 489.6,230.8 490.0,231.0 490.4,231.2 490.8,230.9 491.3,230.7 491.7,230.6 492.1,230.1 492.5,230.3 492.9,230.1 493.4,230.0 493.8,230.2 494.2,230.2 494.6,230.5 495.0,230.4 495.5,230.8 495.9,230.6 496.3,230.9 496.7,231.1 497.1,230.9 497.6,231.7 498.0,231.8 498.4,231.9 498.8,232.5 499.2,232.7 499.7,232.9 500.1,233.2 500.5,233.4 500.9,233.6 501.3,233.8 501.8,234.1 502.2,234.0 502.6,233.7 503.0,233.9 503.4,234.1 503.9,234.3 504.3,234.1 504.7,233.8 505.1,233.5 505.5,232.9 506.0,233.0 506.4,232.9 506.8,232.4 507.2,232.5 507.6,232.1 508.1,231.7 508.5,231.7 508.9,231.5 509.3,231.4 509.7,231.8 510.2,233.2 510.6,234.9 511.0,236.4 511.4,237.5 511.8,238.5 512.3,239.5 512.7,240.5 513.1,240.2 513.5,240.2 513.9,240.4 514.4,239.7 514.8,239.0 515.2,238.0 515.6,236.8 516.0,235.9 516.5,235.0 516.9,233.9 517.3,233.4 517.7,233.5 518.1,233.8 518.6,234.4 519.0,234.8 519.4,235.0 519.8,235.3 520.2,235.3 520.7,235.1 521.1,235.4 521.5,235.4 521.9,235.5 522.3,235.6 522.8,235.4 523.2,235.6 523.6,235.6 524.0,236.0 524.4,236.6 524.9,236.6 525.3,236.5 525.7,236.3 526.1,236.6 526.5,236.9 527.0,237.2 527.4,237.6 527.8,237.6 528.2,238.0 528.6,239.2 529.1,240.6 529.5,241.7 529.9,242.7 530.3,243.6 530.7,244.6 531.2,245.6 531.6,246.8 532.0,247.4 532.4,247.0 532.8,246.5 533.3,245.9 533.7,245.9 534.1,246.1 534.5,246.5 534.9,246.9 535.4,246.3 535.8,245.5" fill="none" stroke="#0000ff" stroke-width="3.6" stroke-linejoin="round"/>
<polyline points="277.6,258.6 277.7,255.9 277.8,255.7 277.9,249.1 278.0,261.3 278.1,258.8 278.2,253.9 278.3,256.7 278.4,254.7 278.5,251.6 278.6,255.7 278.7,251.3 278.8,250.8 278.9,248.8 279.0,252.1 279.1,249.9 279.2,251.3 279.3,247.3 279.4,249.0 279.5,245.4 279.6,250.1 279.7,247.6 279.8,247.5 279.9,247.2 280.0,245.5 280.1,243.9 280.3,243.8 280.4,244.3 280.6,243.4 280.7,244.6 280.8,244.3 281.0,245.1 281.1,244.8 281.3,242.8 281.4,244.5 281.5,245.6 281.7,242.1 281.8,243.1 282.0,243.9 282.1,242.2 282.2,242.8 282.4,243.3 282.5,242.0 282.7,243.7 282.8,243.6 282.9,241.6 283.1,243.0 283.2,243.9 283.4,242.9 283.5,243.5 283.6,243.9 283.8,243.2 283.9,244.5 284.1,243.8 284.2,242.4 284.3,244.0 284.5,244.2 284.6,244.5 284.8,242.9 284.9,244.5 285.0,245.7 285.2,244.5 285.3,245.6 285.5,245.8 285.6,244.4 285.7,245.4 285.9,244.3 286.0,246.0 286.2,245.0 286.3,244.6 286.4,245.1 286.6,245.0 286.7,245.1 286.9,245.4 287.0,243.7 287.1,244.5 287.3,245.5 287.4,245.9 287.6,245.8 287.7,248.5 287.8,247.1 288.0,245.6 288.1,246.6 288.3,247.2 288.4,246.3 288.5,244.2 288.7,246.2 288.8,246.0 289.0,247.9 289.1,243.4 289.2,246.9 289.4,244.9 289.5,245.8 289.7,244.6 289.8,244.9 289.9,245.5 290.1,244.2 290.2,245.2 290.4,243.9 290.5,243.3 290.6,243.3 290.8,243.0 290.9,243.2 291.1,244.5 291.2,241.9 291.3,241.0 291.5,242.9 291.6,244.8 291.8,244.1 291.9,244.2 292.0,244.3 292.2,242.0 292.3,242.7 292.5,238.8 292.6,241.2 292.7,242.8 292.9,239.1 293.0,237.6 293.2,238.5 293.3,241.7 293.4,244.1 293.6,249.1 293.7,245.6 293.9,234.2 294.0,230.4 294.1,241.4 294.3,245.4 294.4,232.3 294.6,237.6 294.7,237.8 294.8,240.1 295.0,239.1 295.1,241.8 295.3,243.4 295.4,239.3 295.5,241.0 295.7,243.4 295.8,236.3 296.0,237.0 296.1,239.9 296.2,241.7 296.4,239.6 296.5,240.7 296.7,239.1 296.8,240.6 296.9,239.1 297.1,240.8 297.2,240.6 297.4,240.6 297.5,241.9 297.6,241.8 297.8,240.2 297.9,242.0 298.1,239.7 298.2,242.8 298.3,245.2 298.5,243.2 298.6,243.5 298.8,242.9 298.9,244.5 299.0,242.4 299.2,245.0 299.3,243.2 299.5,242.7 299.6,244.2 299.7,244.0 299.9,238.2 300.0,251.6 300.2,245.0 300.3,238.9 300.4,247.9 300.6,244.6 300.7,245.1 300.9,246.4 301.0,242.9 301.1,239.6 301.3,244.5 301.4,244.7 301.6,245.4 301.7,243.4 301.8,244.0 302.0,244.8 302.1,244.2 302.3,244.2 302.4,244.8 302.5,243.3 302.7,245.9 302.8,243.2 303.0,244.5 303.1,244.3 303.2,243.9 303.4,245.3 303.5,245.9 303.7,246.2 303.8,245.3 303.9,244.0 304.1,246.2 304.2,242.1 304.4,245.2 304.5,246.7 304.6,247.1 304.8,241.8 304.9,240.6 305.1,251.4 305.2,243.9 305.3,240.7 305.5,242.1 305.6,245.4 305.8,247.6 305.9,245.1 306.0,246.8 306.2,244.9 306.3,244.8 306.5,244.9 306.6,243.6 306.7,244.2 306.9,242.8 307.0,242.3 307.2,243.9 307.3,241.7 307.4,242.5 307.6,240.7 307.7,241.6 307.9,240.9 308.0,243.6 308.1,241.5 308.3,241.3 308.4,245.1 308.6,232.7 308.7,237.8 308.8,232.2 309.0,241.2 309.1,243.2 309.3,244.2 309.4,242.6 309.5,237.5 309.7,248.8 309.8,242.3 310.0,239.6 310.1,236.1 310.2,242.8 310.4,238.7 310.5,238.7 310.7,241.2 310.8,241.2 310.9,236.8 311.1,243.9 311.2,236.5 311.4,236.2 311.5,240.3 311.6,239.9 311.8,239.4 311.9,238.3 312.1,239.1 312.2,237.7 312.3,236.2 312.5,239.9 312.6,237.7 312.8,238.8 312.9,239.8 313.0,239.5 313.2,242.7 313.3,238.3 313.5,239.0 313.6,239.9 313.7,241.2 313.9,239.7 314.0,238.5 314.2,241.0 314.3,238.8 314.4,239.8 314.6,241.1 314.7,239.3 314.9,239.6 315.0,240.8 315.1,240.1 315.3,241.1 315.4,240.2 315.6,241.3 315.7,240.5 315.8,240.1 316.0,244.1 316.1,242.8 316.3,243.5 316.4,241.7 316.5,243.0 316.7,242.8 316.8,241.2 317.0,243.8 317.1,242.3 317.2,242.7 317.4,240.8 317.5,244.0 317.7,243.8 317.8,243.2 317.9,241.7 318.1,242.1 318.2,243.7 318.4,242.1 318.5,242.7 318.6,242.6 318.8,241.3 318.9,243.6 319.1,240.6 319.2,242.0 319.3,241.6 319.5,240.0 319.6,242.0 319.8,242.0 319.9,241.4 320.0,240.7 320.2,241.9 320.3,242.2 320.5,241.2 320.6,242.7 320.7,241.9 320.9,242.0 321.0,242.3 321.2,240.3 321.3,240.2 321.4,241.7 321.6,241.9 321.7,243.7 321.9,243.4 322.0,241.6 322.1,242.0 322.3,240.5 322.4,240.2 322.6,240.1 322.7,245.6 322.8,239.9 323.0,240.4 323.1,242.1 323.3,239.7 323.4,240.7 323.5,235.6 323.7,242.3 323.8,240.3 324.0,241.2 324.1,241.6 324.2,238.3 324.4,244.1 324.5,241.4 324.7,241.9 324.8,239.8 324.9,242.8 325.1,242.5 325.2,241.8 325.4,242.3 325.5,243.8 325.6,242.1 325.8,241.3 325.9,243.4 326.1,242.6 326.2,242.0 326.3,244.6 326.5,242.5 326.6,242.2 326.8,243.1 326.9,242.7 327.0,243.7 327.2,244.0 327.3,243.1 327.5,243.7 327.6,244.4 327.7,244.3 327.9,244.7 328.0,244.9 328.2,244.0 328.3,244.4 328.4,243.4 328.6,243.4 328.7,244.6 328.9,241.3 329.0,244.1 329.1,247.2 329.3,242.0 329.4,245.7 329.6,242.7 329.7,245.1 329.8,246.8 330.0,246.6 330.1,244.3 330.3,244.2 330.4,244.2 330.5,246.4 330.7,245.1 330.8,245.2 331.0,245.5 331.1,245.8 331.2,246.1 331.4,245.8 331.5,244.0 331.7,247.2 331.8,243.0 331.9,247.1 332.1,245.2 332.2,245.7 332.4,245.8 332.5,246.4 332.6,246.8 332.8,246.5 332.9,245.5 333.1,247.2 333.2,245.8 333.3,247.8 333.5,246.3 333.6,245.7 333.8,246.9 333.9,247.2 334.0,245.5 334.2,245.8 334.3,247.3 334.5,245.0 334.6,245.1 334.7,246.0 334.9,244.5 335.0,242.8 335.2,243.1 335.3,245.1 335.4,244.8 335.6,244.1 335.7,243.7 335.9,241.9 336.0,243.6 336.1,243.5 336.3,241.5 336.4,242.6 336.6,241.2 336.7,241.5 336.8,241.6 337.0,239.3 337.1,241.8 337.3,239.4 337.4,239.6 337.5,239.0 337.7,239.4 337.8,238.9 338.0,238.4 338.1,239.7 338.2,238.6 338.4,237.7 338.5,235.2 338.7,237.4 338.8,237.5 338.9,236.6 339.1,236.6 339.2,237.9 339.4,238.5 339.5,239.2 339.6,238.2 339.8,236.4 339.9,237.0 340.1,235.6 340.2,237.8 340.3,237.4 340.5,236.4 340.6,237.1 340.8,236.8 340.9,236.3 341.0,239.2 341.2,243.0 341.3,239.5 341.5,240.5 341.6,238.6 341.7,237.0 341.9,245.3 342.0,237.2 342.2,239.9 342.3,238.2 342.4,240.8 342.6,238.3 342.7,240.6 342.9,233.9 343.0,237.8 343.1,241.6 343.3,235.7 343.4,237.2 343.6,240.7 343.7,238.8 343.8,239.8 344.0,235.4 344.1,238.7 344.3,237.1 344.4,237.2 344.5,239.0 344.7,240.1 344.8,237.5 345.0,237.9 345.1,238.2 345.2,238.6 345.4,237.4 345.5,240.8 345.7,239.4 345.8,238.3 345.9,238.2 346.1,240.7 346.2,240.6 346.4,237.7 346.5,238.4 346.6,239.1 346.8,236.6 346.9,237.5 347.1,239.3 347.2,237.3 347.3,237.5 347.5,236.5 347.6,237.1 347.8,238.5 347.9,236.6 348.0,236.4 348.2,237.1 348.3,239.8 348.5,238.3 348.6,237.6 348.7,238.2 348.9,238.5 349.0,238.2 349.2,236.1 349.3,237.8 349.4,237.5 349.6,238.8 349.7,236.1 349.9,238.3 350.0,236.5 350.1,235.1 350.3,238.1 350.4,236.4 350.6,237.0 350.7,236.5 350.8,237.7 351.0,237.7 351.1,237.7 351.3,237.5 351.4,235.5 351.5,235.2 351.7,236.7 351.8,235.8 352.0,237.1 352.1,236.7 352.2,235.2 352.4,235.4 352.5,235.0 352.7,235.4 352.8,235.9 352.9,236.2 353.1,236.8 353.2,234.7 353.4,235.2 353.5,236.8 353.6,236.3 353.8,235.8 353.9,233.4 354.1,235.0 354.2,236.1 354.3,235.2 354.5,237.7 354.6,236.1 354.8,236.3 354.9,234.6 355.0,234.3 355.2,234.6 355.3,234.4 355.5,234.5 355.6,235.2 355.7,234.5 355.9,236.2 356.0,231.3 356.2,234.8 356.3,234.8 356.4,238.8 356.6,233.4 356.7,235.5 356.9,231.6 357.0,235.7 357.1,235.9 357.3,232.6 357.4,233.6 357.6,234.7 357.7,236.4 357.8,232.0 358.0,236.8 358.1,234.2 358.3,238.2 358.4,237.4 358.5,234.3 358.7,234.4 358.8,238.4 359.0,236.1 359.1,236.2 359.2,235.6 359.4,236.1 359.5,237.2 359.7,237.3 359.8,236.3 359.9,238.9 360.1,238.0 360.2,236.4 360.4,238.8 360.5,237.3 360.6,238.7 360.8,237.2 360.9,238.3 361.1,236.2 361.2,238.5 361.3,236.5 361.5,238.4 361.6,235.9 361.8,238.8 361.9,239.8 362.0,239.9 362.2,240.9 362.3,238.9 362.5,241.7 362.6,242.1 362.7,239.2 362.9,240.0 363.0,240.3 363.2,240.8 363.3,241.2 363.4,238.1 363.6,241.6 363.7,240.4 363.9,239.5 364.0,241.5 364.1,240.0 364.3,241.4 364.4,240.8 364.6,240.0 364.7,241.5 364.8,241.0 365.0,239.5 365.1,238.5 365.3,239.6 365.4,241.1 365.5,240.5 365.7,242.8 365.8,241.3 366.0,240.9 366.1,241.3 366.2,239.7 366.4,240.3 366.5,239.9 366.7,238.1 366.8,239.0 366.9,241.7 367.1,240.3 367.2,240.4 367.4,239.0 367.5,240.0 367.6,241.6 367.8,241.0 367.9,240.3 368.1,242.1 368.2,240.8 368.3,240.6 368.5,241.7 368.6,238.7 368.8,241.2 368.9,239.2 369.0,238.9 369.2,238.4 369.3,240.2 369.5,239.8 369.6,240.6 369.7,240.5 369.9,245.8 370.0,247.4 370.2,242.4 370.3,242.8 370.4,235.8 370.6,232.2 370.7,240.6 370.9,238.1 371.0,240.3 371.1,232.8 371.3,242.4 371.4,234.9 371.6,236.6 371.7,237.6 371.8,235.1 372.0,236.1 372.1,234.6 372.3,235.2 372.4,234.1 372.5,236.1 372.7,236.6 372.8,235.9 373.0,237.4 373.1,237.3 373.2,236.0 373.4,235.7 373.5,235.4 373.7,235.0 373.8,237.0 373.9,236.2 374.1,235.8 374.2,235.9 374.4,236.7 374.5,235.5 374.6,236.3 374.8,236.0 374.9,237.3 375.1,237.1 375.2,234.5 375.3,235.9 375.5,236.6 375.6,234.9 375.8,236.1 375.9,235.7 376.0,235.6 376.2,235.2 376.3,235.7 376.5,236.0 376.6,233.7 376.7,234.2 376.9,234.1 377.0,237.0 377.2,235.4 377.3,235.8 377.4,235.6 377.6,234.7 377.7,234.6 377.9,236.9 378.0,234.7 378.1,238.2 378.3,235.5 378.4,235.2 378.6,234.4 378.7,234.7 378.8,235.1 379.0,238.4 379.1,240.5 379.3,231.5 379.4,235.2 379.5,236.7 379.7,232.3 379.8,232.7 380.0,233.4 380.1,228.2 380.2,236.8 380.4,235.2 380.5,235.1 380.7,235.5 380.8,235.8 380.9,240.7 381.1,235.8 381.2,237.1 381.4,234.4 381.5,236.1 381.6,234.9 381.8,235.3 381.9,234.2 382.1,234.1 382.2,235.8 382.3,236.2 382.5,236.0 382.6,234.5 382.8,236.0 382.9,232.6 383.0,236.7 383.2,235.7 383.3,236.0 383.5,236.7 383.6,235.1 383.7,236.6 383.9,235.1 384.0,236.2 384.2,235.3 384.3,235.7 384.4,236.7 384.6,234.5 384.7,234.8 384.9,235.2 385.0,235.9 385.1,238.4 385.3,234.8 385.4,233.4 385.6,234.9 385.7,233.9 385.8,234.8 386.0,235.6 386.1,234.5 386.3,234.9 386.4,233.2 386.5,235.8 386.7,234.5 386.8,236.8 387.0,236.8 387.1,234.5 387.2,235.2 387.4,235.6 387.5,236.8 387.7,233.9 387.8,235.5 387.9,237.6 388.1,235.0 388.2,235.0 388.4,234.8 388.5,233.1 388.6,236.0 388.8,234.9 388.9,234.7 389.1,235.6 389.2,235.9 389.3,231.7 389.5,235.5 389.6,234.3 389.8,235.5 389.9,234.1 390.0,234.0 390.2,237.4 390.3,235.9 390.5,235.4 390.6,235.5 390.7,236.2 390.9,235.7 391.0,230.5 391.2,233.8 391.3,235.1 391.4,237.5 391.6,239.3 391.7,234.1 391.9,240.7 392.0,236.4 392.1,237.4 392.3,234.9 392.4,234.7 392.6,239.9 392.7,236.0 392.8,236.3 393.0,239.3 393.1,240.9 393.3,232.9 393.4,235.9 393.5,236.8 393.7,241.0 393.8,242.5 394.0,236.3 394.1,237.5 394.2,238.4 394.4,238.7 394.5,235.4 394.7,237.9 394.8,234.5 394.9,230.5 395.1,233.3 395.2,236.0 395.4,237.0 395.5,231.3 395.6,232.1 395.8,235.3 395.9,229.3 396.1,236.5 396.2,237.4 396.3,230.3 396.5,236.5 396.6,234.5 396.8,236.7 396.9,235.2 397.0,234.4 397.2,234.8 397.3,235.7 397.5,235.0 397.6,234.7 397.7,232.5 397.9,235.1 398.0,234.8 398.2,237.1 398.3,234.9 398.4,234.9 398.6,234.2 398.7,236.1 398.9,234.8 399.0,234.2 399.1,236.5 399.3,236.5 399.4,233.9 399.6,232.9 399.7,235.5 399.8,233.3 400.0,237.9 400.1,234.0 400.3,234.8 400.4,231.9 400.5,233.3 400.7,234.1 400.8,233.6 401.0,232.7 401.1,235.5 401.2,234.5 401.4,233.6 401.5,232.9 401.7,233.1 401.8,234.6 401.9,232.7 402.1,233.5 402.2,233.0 402.4,235.2 402.5,233.4 402.6,234.3 402.8,233.8 402.9,232.1 403.1,233.5 403.2,233.8 403.3,231.3 403.5,233.5 403.6,237.2 403.8,232.5 403.9,233.5 404.0,230.8 404.2,233.3 404.3,232.0 404.5,233.5 404.6,232.6 404.7,231.1 404.9,233.9 405.0,232.2 405.2,231.2 405.3,232.3 405.4,231.0 405.6,232.6 405.7,232.5 405.9,232.1 406.0,233.3 406.1,231.5 406.3,233.6 406.4,230.7 406.6,233.8 406.7,232.5 406.8,232.3 407.0,231.7 407.1,232.9 407.3,231.7 407.4,231.6 407.5,232.7 407.7,231.0 407.8,231.0 408.0,231.3 408.1,232.2 408.2,231.3 408.4,231.3 408.5,231.2 408.7,232.2 408.8,232.9 408.9,230.1 409.1,230.9 409.2,230.9 409.4,231.7 409.5,232.7 409.6,231.4 409.8,231.7 409.9,232.8 410.1,230.4 410.2,230.8 410.3,231.2 410.5,231.7 410.6,232.5 410.8,231.7 410.9,234.1 411.0,231.8 411.2,232.6 411.3,233.8 411.5,233.8 411.6,232.9 411.7,233.3 411.9,234.0 412.0,232.9 412.2,234.2 412.3,232.0 412.4,233.5 412.6,230.8 412.7,232.1 412.9,231.3 413.0,237.4 413.1,232.6 413.3,235.1 413.4,230.6 413.6,233.5 413.7,233.3 413.8,230.2 414.0,239.2 414.1,226.2 414.3,237.9 414.4,247.2 414.5,231.5 414.7,234.8 414.8,229.6 415.0,234.7 415.1,230.9 415.2,235.8 415.4,234.0 415.5,232.5 415.7,233.5 415.8,233.5 415.9,235.0 416.1,236.2 416.2,234.7 416.4,233.9 416.5,234.5 416.6,235.5 416.8,232.2 416.9,236.0 417.1,235.9 417.2,232.3 417.3,236.6 417.5,233.0 417.6,235.0 417.8,236.7 417.9,233.5 418.0,233.3 418.2,234.1 418.3,234.4 418.5,235.8 418.6,235.3 418.7,235.1 418.9,235.1 419.0,235.7 419.2,234.8 419.3,236.3 419.4,236.0 419.6,234.5 419.7,238.7 419.9,234.6 420.0,237.2 420.1,235.4 420.3,236.5 420.4,236.8 420.6,237.4 420.7,238.0 420.8,235.5 421.0,239.9 421.1,237.0 421.3,235.9 421.4,235.2 421.5,239.3 421.7,238.5 421.8,236.9 422.0,238.1 422.1,239.0 422.2,237.8 422.4,237.5 422.5,237.7 422.7,238.5 422.8,237.9 422.9,236.5 423.1,238.5 423.2,236.1 423.4,237.2 423.5,239.0 423.6,237.9 423.8,237.9 423.9,237.6 424.1,238.5 424.2,237.5 424.3,235.7 424.5,237.7 424.6,234.0 424.8,235.2 424.9,239.0 425.0,238.4 425.2,236.6 425.3,237.2 425.5,237.2 425.6,238.5 425.7,235.8 425.9,235.7 426.0,236.0 426.2,237.6 426.3,237.6 426.4,236.2 426.6,238.8 426.7,234.8 426.9,236.9 427.0,235.2 427.1,234.6 427.3,241.0 427.4,236.6 427.6,234.6 427.7,237.8 427.8,234.4 428.0,239.5 428.1,240.2 428.3,240.8 428.4,234.8 428.5,237.9 428.7,243.8 428.8,238.2 429.0,242.3 429.1,242.9 429.2,235.4 429.4,241.7 429.5,241.1 429.7,241.3 429.8,242.8 429.9,240.2 430.1,239.7 430.2,240.4 430.4,239.0 430.5,240.2 430.6,236.3 430.8,242.0 430.9,238.7 431.1,240.0 431.2,239.3 431.3,239.2 431.5,239.5 431.6,239.4 431.8,237.2 431.9,238.4 432.0,240.3 432.2,237.6 432.3,237.6 432.5,241.1 432.6,240.3 432.7,240.7 432.9,239.1 433.0,239.4 433.2,239.3 433.3,239.0 433.4,238.3 433.6,237.1 433.7,237.8 433.9,236.9 434.0,239.7 434.1,237.8 434.3,237.9 434.4,238.3 434.6,238.1 434.7,238.3 434.8,237.2 435.0,236.4 435.1,239.8 435.3,237.5 435.4,238.0 435.5,237.9 435.7,238.4 435.8,238.9 436.0,239.7 436.1,238.2 436.2,239.8 436.4,239.1 436.5,241.2 436.7,238.8 436.8,240.1 436.9,240.5 437.1,238.2 437.2,239.7 437.4,239.7 437.5,238.8 437.6,239.3 437.8,240.8 437.9,239.7 438.1,239.1 438.2,239.2 438.3,240.0 438.5,240.8 438.6,240.8 438.8,240.7 438.9,241.5 439.0,238.5 439.2,238.8 439.3,238.0 439.5,241.1 439.6,238.1 439.7,240.3 439.9,241.1 440.0,238.9 440.2,239.5 440.3,239.7 440.4,240.8 440.6,239.0 440.7,240.6 440.9,241.0 441.0,240.2 441.1,240.1 441.3,241.3 441.4,240.2 441.6,240.1 441.7,239.9 441.8,240.9 442.0,239.9 442.1,240.6 442.3,239.8 442.4,240.5 442.5,238.8 442.7,239.9 442.8,240.1 443.0,240.0 443.1,240.8 443.2,240.1 443.4,240.8 443.5,242.0 443.7,240.8 443.8,238.6 443.9,238.0 444.1,240.8 444.2,239.3 444.4,240.1 444.5,239.7 444.6,242.4 444.8,242.4 444.9,237.6 445.1,240.9 445.2,239.9 445.3,237.3 445.5,242.9 445.6,240.8 445.8,242.8 445.9,249.0 446.0,245.8 446.2,244.9 446.3,240.7 446.5,238.8 446.6,245.8 446.7,241.5 446.9,242.0 447.0,240.8 447.2,242.1 447.3,247.2 447.4,241.0 447.6,241.0 447.7,242.0 447.9,242.3 448.0,239.7 448.1,238.9 448.3,240.7 448.4,241.2 448.6,240.9 448.7,241.0 448.8,241.1 449.0,241.7 449.1,242.3 449.3,240.2 449.4,241.8 449.5,243.2 449.7,242.7 449.8,241.1 450.0,242.5 450.1,243.1 450.2,244.1 450.4,241.2 450.5,244.1 450.7,242.7 450.8,243.5 450.9,244.2 451.1,242.4 451.2,242.3 451.4,243.0 451.5,243.8 451.6,242.6 451.8,241.8 451.9,242.5 452.1,243.6 452.2,244.4 452.3,243.2 452.5,243.6 452.6,243.8 452.8,243.8 452.9,243.1 453.0,243.7 453.2,244.5 453.3,244.3 453.5,244.3 453.6,243.1 453.7,243.6 453.9,243.3 454.0,245.2 454.2,245.8 454.3,244.6 454.4,246.0 454.6,243.7 454.7,243.6 454.9,242.3 455.0,243.9 455.1,242.9 455.3,243.4 455.4,243.7 455.6,243.0 455.7,242.1 455.8,243.1 456.0,243.1 456.1,243.3 456.3,244.2 456.4,243.2 456.5,243.4 456.7,245.5 456.8,245.2 457.0,244.2 457.1,243.5 457.2,243.9 457.4,244.7 457.5,245.2 457.7,246.8 457.8,244.4 457.9,244.9 458.1,244.6 458.2,245.1 458.4,244.6 458.5,243.7 458.6,246.0 458.8,245.2 458.9,246.2 459.1,243.1 459.2,244.0 459.3,244.6 459.5,236.1 459.6,236.1 459.8,244.6 459.9,241.0 460.0,228.0 460.2,234.6 460.3,232.0 460.5,235.9 460.6,248.2 460.7,235.3 460.9,247.3 461.0,236.6 461.2,235.5 461.3,241.3 461.4,239.7 461.6,240.1 461.7,240.2 461.9,238.7 462.0,238.7 462.1,235.1 462.3,236.3 462.4,237.6 462.6,237.4 462.7,238.1 462.8,237.0 463.0,238.6 463.1,239.7 463.3,237.7 463.4,238.2 463.5,237.9 463.7,238.2 463.8,237.6 464.0,236.8 464.1,237.7 464.2,237.4 464.4,235.6 464.5,237.6 464.7,237.4 464.8,237.5 464.9,237.0 465.1,238.0 465.2,238.6 465.4,237.3 465.5,238.4 465.6,238.8 465.8,238.7 465.9,237.1 466.1,237.0 466.2,238.1 466.3,236.9 466.5,240.8 466.6,236.8 466.8,237.1 466.9,238.7 467.0,237.2 467.2,234.8 467.3,237.6 467.5,236.5 467.6,236.9 467.7,235.7 467.9,236.6 468.0,237.6 468.2,237.6 468.3,236.9 468.4,237.4 468.6,237.2 468.7,238.5 468.9,238.4 469.0,237.1 469.1,239.2 469.3,237.8 469.4,239.0 469.6,237.6 469.7,238.7 469.8,238.7 470.0,239.0 470.1,239.3 470.3,239.4 470.4,239.3 470.5,238.9 470.7,237.5 470.8,238.9 471.0,236.7 471.1,236.9 471.2,238.7 471.4,238.8 471.5,240.0 471.7,238.8 471.8,239.1 471.9,237.5 472.1,238.4 472.2,239.3 472.4,238.6 472.5,238.4 472.6,238.2 472.8,237.0 472.9,237.1 473.1,235.9 473.2,238.8 473.3,237.8 473.5,236.8 473.6,238.8 473.8,236.4 473.9,240.4 474.0,243.2 474.2,239.1 474.3,235.4 474.5,232.0 474.6,245.4 474.7,239.2 474.9,231.8 475.0,242.1 475.2,228.6 475.3,234.6 475.4,235.5 475.6,234.7 475.7,230.2 475.9,251.5 476.0,234.2 476.1,239.0 476.3,236.8 476.4,227.2 476.6,233.8 476.7,238.0 476.8,241.6 477.0,235.1 477.1,238.6 477.3,235.2 477.4,238.4 477.5,227.1 477.7,238.5 477.8,234.5 478.0,234.9 478.1,229.4 478.2,234.4 478.4,238.6 478.5,242.0 478.7,236.3 478.8,236.3 478.9,238.5 479.1,238.6 479.2,237.5 479.4,238.5 479.5,238.6 479.6,240.3 479.8,240.6 479.9,242.0 480.1,241.0 480.2,241.1 480.3,240.6 480.5,241.9 480.6,239.9 480.8,243.6 480.9,241.4 481.0,242.7 481.2,239.7 481.3,241.9 481.5,241.1 481.6,240.1 481.7,239.6 481.9,239.2 482.0,242.4 482.2,241.5 482.3,239.8 482.4,239.8 482.6,239.0 482.7,237.3 482.9,237.0 483.0,238.3 483.1,238.6 483.3,237.5 483.4,239.1 483.6,238.5 483.7,238.1 483.8,235.9 484.0,237.8 484.1,237.8 484.3,236.1 484.4,235.2 484.5,239.6 484.7,237.8 484.8,236.5 485.0,238.5 485.1,238.0 485.2,236.7 485.4,236.3 485.5,236.8 485.7,237.2 485.8,235.0 485.9,234.5 486.1,235.4 486.2,230.7 486.4,234.7 486.5,233.1 486.6,233.7 486.8,233.2 486.9,234.3 487.1,233.4 487.2,233.0 487.3,232.6 487.5,234.0 487.6,230.6 487.8,235.0 487.9,226.1 488.0,232.1 488.2,233.1 488.3,226.3 488.5,229.1 488.6,235.5 488.7,230.0 488.9,226.9 489.0,224.7 489.2,231.9 489.3,231.2 489.4,233.1 489.6,238.4 489.7,230.8 489.9,231.3 490.0,228.7 490.1,230.8 490.3,231.3 490.4,233.2 490.6,232.8 490.7,229.1 490.8,229.7 491.0,233.8 491.1,228.8 491.3,232.0 491.4,233.5 491.5,232.0 491.7,231.1 491.8,232.5 492.0,230.7 492.1,230.1 492.2,229.7 492.4,231.7 492.5,231.2 492.7,232.0 492.8,229.8 492.9,229.9 493.1,229.5 493.2,229.9 493.4,229.4 493.5,231.2 493.6,230.6 493.8,229.1 493.9,227.2 494.1,228.3 494.2,231.5 494.3,230.3 494.5,230.7 494.6,229.9 494.8,230.8 494.9,228.8 495.0,228.5 495.2,228.7 495.3,230.6 495.5,231.8 495.6,231.3 495.7,230.5 495.9,229.4 496.0,231.3 496.2,230.3 496.3,230.9 496.4,231.0 496.6,230.5 496.7,230.2 496.9,230.5 497.0,229.2 497.1,231.0 497.3,230.9 497.4,232.7 497.6,229.5 497.7,233.2 497.8,231.7 498.0,231.5 498.1,230.9 498.3,230.9 498.4,230.3 498.5,233.0 498.7,232.2 498.8,233.3 499.0,233.3 499.1,232.1 499.2,232.4 499.4,232.5 499.5,233.7 499.7,233.2 499.8,233.1 499.9,233.8 500.1,233.0 500.2,235.3 500.4,232.3 500.5,234.9 500.6,235.0 500.8,232.3 500.9,234.6 501.1,234.2 501.2,234.7 501.3,232.5 501.5,234.1 501.6,232.9 501.8,233.8 501.9,235.7 502.0,234.0 502.2,231.4 502.3,232.6 502.5,232.8 502.6,234.8 502.7,232.7 502.9,232.2 503.0,234.9 503.2,234.3 503.3,234.4 503.4,233.0 503.6,236.3 503.7,234.1 503.9,230.5 504.0,231.6 504.1,231.8 504.3,233.6 504.4,236.7 504.6,231.2 504.7,231.4 504.8,243.6 505.0,234.0 505.1,231.1 505.3,233.4 505.4,226.7 505.5,235.6 505.7,237.5 505.8,230.5 506.0,237.0 506.1,231.9 506.2,233.9 506.4,230.8 506.5,230.9 506.7,229.3 506.8,232.7 506.9,231.9 507.1,232.3 507.2,230.9 507.4,230.9 507.5,231.5 507.6,232.7 507.8,232.4 507.9,231.2 508.1,231.9 508.2,233.3 508.3,231.9 508.5,233.8 508.6,232.2 508.8,232.8 508.9,230.9 509.0,232.7 509.2,230.5 509.3,231.7 509.5,230.8 509.6,229.5 509.7,230.4 509.9,233.3 510.0,233.0 510.2,234.3 510.3,234.2 510.4,231.5 510.6,235.3 510.7,234.9 510.9,235.3 511.0,235.9 511.1,236.1 511.3,236.2 511.4,238.7 511.6,238.4 511.7,237.7 511.8,238.2 512.0,239.6 512.1,239.5 512.3,239.7 512.4,238.4 512.5,239.9 512.7,239.3 512.8,238.4 513.0,241.3 513.1,240.0 513.2,239.5 513.4,238.8 513.5,241.1 513.7,243.1 513.8,241.2 513.9,242.0 514.1,238.2 514.2,240.4 514.4,240.3 514.5,243.5 514.6,239.4 514.8,235.8 514.9,238.4 515.1,236.5 515.2,244.2 515.3,240.7 515.5,238.7 515.6,237.6 515.8,240.4 515.9,234.0 516.0,231.9 516.2,228.1 516.3,239.4 516.5,236.5 516.6,236.5 516.7,234.2 516.9,237.4 517.0,231.8 517.2,235.6 517.3,232.1 517.4,232.6 517.6,231.7 517.7,233.7 517.9,233.2 518.0,234.3 518.1,232.8 518.3,231.5 518.4,235.3 518.6,237.2 518.7,236.1 518.8,234.3 519.0,236.1 519.1,229.7 519.3,233.7 519.4,238.9 519.5,236.8 519.7,231.8 519.8,238.6 520.0,234.8 520.1,238.2 520.2,229.7 520.4,233.0 520.5,236.3 520.7,235.8 520.8,236.9 520.9,235.3 521.1,234.8 521.2,236.4 521.4,237.4 521.5,232.2 521.6,234.7 521.8,235.1 521.9,235.7 522.1,237.0 522.2,233.8 522.3,236.4 522.5,233.3 522.6,234.5 522.8,234.7 522.9,235.0 523.0,234.8 523.2,235.1 523.3,235.4 523.5,235.2 523.6,233.5 523.7,234.1 523.9,235.2 524.0,236.5 524.2,237.5 524.3,239.8 524.4,236.8 524.6,235.8 524.7,236.8 524.9,237.4 525.0,236.6 525.1,235.3 525.3,236.3 525.4,236.5 525.6,234.5 525.7,234.2 525.8,238.9 526.0,229.4 526.1,237.2 526.3,235.2 526.4,245.5 526.5,241.0 526.7,231.0 526.8,245.1 527.0,234.2 527.1,245.2 527.2,242.3 527.4,237.5 527.5,239.1 527.7,237.9 527.8,236.5 527.9,238.8 528.1,238.4 528.2,238.8 528.4,239.3 528.5,240.1 528.6,240.3 528.8,239.7 528.9,240.3 529.1,241.0 529.2,240.9 529.3,241.0 529.5,244.4 529.6,242.7 529.8,245.4 529.9,241.3 530.0,242.8 530.2,242.3 530.3,242.8 530.5,243.3 530.6,243.9 530.7,243.5 530.9,250.1 531.0,247.2 531.2,242.9 531.3,244.1 531.4,249.1 531.6,248.9 531.7,244.7 531.9,251.4 532.0,241.2 532.1,245.0 532.3,255.3 532.4,234.4 532.6,245.8 532.7,251.6 532.8,245.8 533.0,242.3 533.1,241.7 533.3,235.9 533.4,239.4 533.5,246.2 533.7,243.2 533.8,245.9 534.0,245.2 534.1,247.4 534.2,239.4 534.4,245.1 534.5,245.2 534.7,245.6 534.8,243.8 534.9,239.7 535.1,248.9 535.2,249.0 535.4,252.9 535.5,247.9 535.6,250.1 535.8,246.9 535.9,244.4" fill="none" stroke="#0000ff" stroke-width="1.0"/>
<line x1="280.4" y1="224.1" x2="280.4" y2="245.5" stroke="#000" stroke-width="1.0"/>
<polyline points="280.0,244.3 280.6,244.6 281.1,244.7 281.7,244.1 282.2,243.5 282.8,243.2 283.4,243.1 283.9,243.5 284.5,243.5 285.0,244.1 285.6,244.5 286.2,245.0 286.7,245.0 287.3,245.3 287.8,245.8 288.4,245.9 289.0,245.7 289.5,244.9 290.1,244.2 290.6,243.6 291.2,243.0 291.8,242.9 292.3,242.5 292.9,241.7 293.4,240.9 294.0,240.3 294.6,240.0 295.1,239.4 295.7,238.7 296.2,239.1 296.8,239.6 297.4,240.3 297.9,241.1 298.5,242.3 299.0,243.1 299.6,243.7 300.2,244.0 300.7,244.3 301.3,244.2 301.8,244.2 302.4,244.3 303.0,244.3 303.5,244.5 304.1,244.6 304.6,245.1 305.2,245.3 305.8,245.0 306.3,244.2 306.9,243.3 307.4,242.3 308.0,241.3 308.6,240.9 309.1,241.2 309.7,240.9 310.2,240.6 310.8,240.0 311.4,239.5 311.9,239.1 312.5,238.9 313.0,239.4 313.6,239.8 314.2,239.9 314.7,240.1 315.3,240.8 315.8,241.9 316.4,242.7 317.0,243.0 317.5,242.8 318.1,242.6 318.6,242.4 319.2,242.0 319.8,241.5 320.3,241.2 320.9,241.0 321.4,241.0 322.0,241.1 322.6,241.7 323.1,241.5 323.7,241.1 324.2,240.9 324.8,241.7 325.4,242.1 325.9,242.1 326.5,242.2 327.0,243.3 327.6,243.8 328.2,243.8 328.7,243.5 329.3,243.9 329.8,244.8 330.4,245.4 331.0,245.3 331.5,245.6 332.1,245.9 332.6,246.6 333.2,246.4 333.8,246.4 334.3,246.0 334.9,245.5 335.4,244.1 336.0,242.7 336.6,241.6 337.1,240.4 337.7,239.0 338.2,238.2 338.8,237.6 339.4,237.3 339.9,236.9 340.5,237.0 341.0,237.4 341.6,238.0 342.2,238.3 342.7,238.2 343.3,238.1 343.8,238.2 344.4,238.6 345.0,238.9 345.5,238.7 346.1,238.5 346.6,238.0 347.2,237.9 347.8,237.7 348.3,237.9 348.9,238.0 349.4,237.7 350.0,237.1 350.6,236.7 351.1,236.8 351.7,236.7 352.2,236.4 352.8,235.9 353.4,235.5 353.9,235.7 354.5,235.9 355.0,235.6 355.6,234.6 356.2,234.2 356.7,234.2 357.3,234.6 357.8,234.8 358.4,234.9 359.0,235.5 359.5,236.5 360.1,237.5 360.6,237.7 361.2,238.1 361.8,238.8 362.3,240.0 362.9,240.7 363.4,240.9 364.0,240.5 364.6,240.3 365.1,240.2 365.7,240.7 366.2,240.6 366.8,240.8 367.4,240.7 367.9,240.8 368.5,240.7 369.0,240.1 369.6,239.7 370.2,238.7 370.7,237.9 371.3,237.1 371.8,236.6 372.4,236.4 373.0,236.1 373.5,235.7 374.1,236.0 374.6,236.0 375.2,236.0 375.8,235.4 376.3,235.3 376.9,235.2 377.4,235.4 378.0,235.4 378.6,235.0 379.1,234.7 379.7,234.6 380.2,235.0 380.8,235.3 381.4,235.4 381.9,235.4 382.5,235.4 383.0,235.7 383.6,235.6 384.2,235.5 384.7,235.4 385.3,235.5 385.8,235.6 386.4,235.6 387.0,235.5 387.5,235.7 388.1,235.0 388.6,234.6 389.2,234.5 389.8,235.1 390.3,235.7 390.9,235.8 391.4,235.8 392.0,236.0 392.6,236.2 393.1,236.3 393.7,236.4 394.2,236.2 394.8,235.9 395.4,235.4 395.9,235.3 396.5,235.0 397.0,234.5 397.6,234.4 398.2,234.6 398.7,234.9 399.3,234.3 399.8,234.1 400.4,233.3 401.0,233.2 401.5,233.4 402.1,233.5 402.6,233.2 403.2,232.5 403.8,232.5 404.3,232.4 404.9,232.4 405.4,232.1 406.0,232.5 406.6,232.3 407.1,232.0 407.7,231.3 408.2,231.0 408.8,231.0 409.4,230.9 409.9,231.4 410.5,231.7 411.0,232.4 411.6,232.8 412.2,233.0 412.7,233.4 413.3,233.7 413.8,234.0 414.4,234.2 415.0,234.3 415.5,234.8 416.1,235.2 416.6,235.2 417.2,235.2 417.8,235.2 418.3,235.7 418.9,235.8 419.4,235.9 420.0,236.2 420.6,236.2 421.1,236.6 421.7,236.9 422.2,237.6 422.8,237.7 423.4,237.7 423.9,237.5 424.5,237.4 425.0,237.2 425.6,237.0 426.2,237.0 426.7,236.9 427.3,237.1 427.8,237.3 428.4,237.8 429.0,238.6 429.5,239.0 430.1,239.3 430.6,239.3 431.2,239.1 431.8,239.1 432.3,238.8 432.9,238.9 433.4,238.4 434.0,238.2 434.6,237.9 435.1,238.0 435.7,238.8 436.2,239.5 436.8,239.9 437.4,239.6 437.9,239.5 438.5,239.7 439.0,240.1 439.6,240.3 440.2,240.1 440.7,240.2 441.3,240.0 441.8,240.1 442.4,239.7 443.0,239.7 443.5,239.8 444.1,239.8 444.6,240.0 445.2,240.6 445.8,241.4 446.3,241.9 446.9,242.0 447.4,241.7 448.0,241.7 448.6,242.0 449.1,242.4 449.7,242.9 450.2,243.1 450.8,243.3 451.4,243.2 451.9,243.3 452.5,243.8 453.0,244.2 453.6,244.3 454.2,244.2 454.7,244.0 455.3,243.4 455.8,243.3 456.4,243.6 457.0,244.3 457.5,244.5 458.1,244.9 458.6,244.9 459.2,243.4 459.8,241.0 460.3,239.4 460.9,238.0 461.4,237.8 462.0,237.3 462.6,237.2 463.1,237.3 463.7,237.3 464.2,237.3 464.8,237.4 465.4,237.9 465.9,238.0 466.5,238.0 467.0,237.8 467.6,237.6 468.2,237.9 468.7,238.3 469.3,238.5 469.8,238.8 470.4,239.0 471.0,239.1 471.5,238.6 472.1,238.0 472.6,238.2 473.2,238.2 473.8,237.9 474.3,237.7 474.9,237.3 475.4,237.0 476.0,236.9 476.6,236.9 477.1,236.7 477.7,236.4 478.2,237.0 478.8,237.7 479.4,238.8 479.9,239.9 480.5,240.8 481.0,240.9 481.6,240.5 482.2,240.0 482.7,239.5 483.3,238.5 483.8,238.0 484.4,237.5 485.0,236.7 485.5,235.6 486.1,234.7 486.6,233.8 487.2,233.1 487.8,232.0 488.3,231.0 488.9,230.4 489.4,230.8 490.0,231.0 490.6,231.1 491.1,230.7 491.7,230.6 492.2,230.2 492.8,230.2 493.4,230.0 493.9,230.2 494.5,230.4 495.0,230.4 495.6,230.8 496.2,230.8 496.7,231.0 497.3,231.2 497.8,231.8 498.4,232.0 499.0,232.6 499.5,232.8 500.1,233.1 500.6,233.5 501.2,233.8 501.8,234.1 502.3,233.9 502.9,233.8 503.4,234.1 504.0,234.2 504.6,233.9 505.1,233.4 505.7,233.0 506.2,233.0 506.8,232.6 507.4,232.3 507.9,231.9 508.5,231.7 509.0,231.5 509.6,231.6 510.2,233.3 510.7,235.4 511.3,237.2 511.8,238.5 512.4,239.9 513.0,240.4 513.5,240.2 514.1,240.2 514.6,239.3 515.2,237.9 515.8,236.5 516.3,235.2 516.9,234.0 517.4,233.5 518.0,233.7 518.6,234.3 519.1,234.9 519.7,235.2 520.2,235.3 520.8,235.2 521.4,235.4 521.9,235.5 522.5,235.5 523.0,235.5 523.6,235.7 524.2,236.2 524.7,236.6 525.3,236.5 525.8,236.4 526.4,236.8 527.0,237.2 527.5,237.6 528.1,237.8 528.6,239.2 529.2,241.0 529.8,242.3 530.3,243.6 530.9,244.9 531.4,246.4 532.0,247.3 532.6,246.9 533.1,246.1 533.7,245.9 534.2,246.2 534.8,246.8 535.4,246.3 535.9,245.4" fill="none" stroke="#000" stroke-width="1.15" stroke-linejoin="round"/>
<text x="351.6" y="255.3" font-size="7.0" font-weight="bold" stroke="#000" stroke-width="0.18" textLength="115.9" lengthAdjust="spacingAndGlyphs">Noninvasive – Transmittive Absorbance</text>
<rect x="268.6" y="275.0" width="268.4" height="40.39999999999998" fill="none" stroke="#8c8c8c" stroke-width="0.8"/>
<line x1="268.6" y1="275.0" x2="270.8" y2="275.0" stroke="#8c8c8c" stroke-width="0.7"/>
<line x1="534.8" y1="275.0" x2="537.0" y2="275.0" stroke="#8c8c8c" stroke-width="0.7"/>
<line x1="268.6" y1="285.1" x2="270.8" y2="285.1" stroke="#8c8c8c" stroke-width="0.7"/>
<line x1="534.8" y1="285.1" x2="537.0" y2="285.1" stroke="#8c8c8c" stroke-width="0.7"/>
<line x1="268.6" y1="295.2" x2="270.8" y2="295.2" stroke="#8c8c8c" stroke-width="0.7"/>
<line x1="534.8" y1="295.2" x2="537.0" y2="295.2" stroke="#8c8c8c" stroke-width="0.7"/>
<line x1="268.6" y1="305.29999999999995" x2="270.8" y2="305.29999999999995" stroke="#8c8c8c" stroke-width="0.7"/>
<line x1="534.8" y1="305.29999999999995" x2="537.0" y2="305.29999999999995" stroke="#8c8c8c" stroke-width="0.7"/>
<line x1="268.6" y1="315.4" x2="270.8" y2="315.4" stroke="#8c8c8c" stroke-width="0.7"/>
<line x1="534.8" y1="315.4" x2="537.0" y2="315.4" stroke="#8c8c8c" stroke-width="0.7"/>
<line x1="268.2" y1="315.4" x2="268.2" y2="313.2" stroke="#8c8c8c" stroke-width="0.7"/>
<line x1="268.2" y1="275.0" x2="268.2" y2="277.2" stroke="#8c8c8c" stroke-width="0.7"/>
<line x1="297.988" y1="315.4" x2="297.988" y2="313.2" stroke="#8c8c8c" stroke-width="0.7"/>
<line x1="297.988" y1="275.0" x2="297.988" y2="277.2" stroke="#8c8c8c" stroke-width="0.7"/>
<line x1="327.776" y1="315.4" x2="327.776" y2="313.2" stroke="#8c8c8c" stroke-width="0.7"/>
<line x1="327.776" y1="275.0" x2="327.776" y2="277.2" stroke="#8c8c8c" stroke-width="0.7"/>
<line x1="357.56399999999996" y1="315.4" x2="357.56399999999996" y2="313.2" stroke="#8c8c8c" stroke-width="0.7"/>
<line x1="357.56399999999996" y1="275.0" x2="357.56399999999996" y2="277.2" stroke="#8c8c8c" stroke-width="0.7"/>
<line x1="387.352" y1="315.4" x2="387.352" y2="313.2" stroke="#8c8c8c" stroke-width="0.7"/>
<line x1="387.352" y1="275.0" x2="387.352" y2="277.2" stroke="#8c8c8c" stroke-width="0.7"/>
<line x1="417.14" y1="315.4" x2="417.14" y2="313.2" stroke="#8c8c8c" stroke-width="0.7"/>
<line x1="417.14" y1="275.0" x2="417.14" y2="277.2" stroke="#8c8c8c" stroke-width="0.7"/>
<line x1="446.928" y1="315.4" x2="446.928" y2="313.2" stroke="#8c8c8c" stroke-width="0.7"/>
<line x1="446.928" y1="275.0" x2="446.928" y2="277.2" stroke="#8c8c8c" stroke-width="0.7"/>
<line x1="476.716" y1="315.4" x2="476.716" y2="313.2" stroke="#8c8c8c" stroke-width="0.7"/>
<line x1="476.716" y1="275.0" x2="476.716" y2="277.2" stroke="#8c8c8c" stroke-width="0.7"/>
<line x1="506.504" y1="315.4" x2="506.504" y2="313.2" stroke="#8c8c8c" stroke-width="0.7"/>
<line x1="506.504" y1="275.0" x2="506.504" y2="277.2" stroke="#8c8c8c" stroke-width="0.7"/>
<line x1="536.2919999999999" y1="315.4" x2="536.2919999999999" y2="313.2" stroke="#8c8c8c" stroke-width="0.7"/>
<line x1="536.2919999999999" y1="275.0" x2="536.2919999999999" y2="277.2" stroke="#8c8c8c" stroke-width="0.7"/>
<text x="267.2" y="278.9" font-size="8.4" font-weight="bold" text-anchor="end" stroke="#000" stroke-width="0.18" textLength="6.9" lengthAdjust="spacingAndGlyphs">15</text>
<text x="267.2" y="289.0" font-size="8.4" font-weight="bold" text-anchor="end" stroke="#000" stroke-width="0.18" textLength="6.9" lengthAdjust="spacingAndGlyphs">10</text>
<text x="267.2" y="299.09999999999997" font-size="8.4" font-weight="bold" text-anchor="end" stroke="#000" stroke-width="0.18" textLength="3.5" lengthAdjust="spacingAndGlyphs">5</text>
<text x="267.2" y="309.19999999999993" font-size="8.4" font-weight="bold" text-anchor="end" stroke="#000" stroke-width="0.18" textLength="3.5" lengthAdjust="spacingAndGlyphs">0</text>
<text x="267.2" y="319.29999999999995" font-size="8.4" font-weight="bold" text-anchor="end" stroke="#000" stroke-width="0.18" textLength="3.5" lengthAdjust="spacingAndGlyphs">5</text>
<text x="256.8" y="295.1" font-size="7.4" font-weight="bold" text-anchor="middle" stroke="#000" stroke-width="0.18" textLength="15.4" lengthAdjust="spacingAndGlyphs" transform="rotate(-90 256.8 295.1)">(µV)</text>
<line x1="278.4" y1="275.0" x2="278.4" y2="315.4" stroke="#2a3cff" stroke-width="0.6"/>
<polyline points="281.0,292.8 281.4,292.1 281.8,291.1 282.3,290.2 282.7,289.8 283.1,288.9 283.5,288.7 283.9,288.4 284.4,288.2 284.8,288.2 285.2,288.4 285.6,288.6 286.0,288.6 286.5,288.6 286.9,288.7 287.3,288.7 287.7,288.7 288.1,288.3 288.6,288.2 289.0,288.4 289.4,288.4 289.8,288.6 290.2,288.5 290.7,288.3 291.1,288.3 291.5,288.4 291.9,288.6 292.3,288.6 292.8,288.8 293.2,289.1 293.6,288.9 294.0,288.6 294.4,288.5 294.9,288.1 295.3,287.6 295.7,287.0 296.1,286.7 296.5,286.5 297.0,286.6 297.4,286.9 297.8,286.7 298.2,286.4 298.6,286.3 299.1,286.2 299.5,286.2 299.9,286.4 300.3,286.2 300.7,285.8 301.2,285.7 301.6,285.9 302.0,286.2 302.4,286.4 302.8,286.4 303.3,286.5 303.7,286.5 304.1,287.4 304.5,287.9 304.9,288.1 305.4,288.1 305.8,287.9 306.2,287.9 306.6,287.9 307.0,288.0 307.5,287.9 307.9,287.7 308.3,287.2 308.7,286.8 309.1,286.1 309.6,286.2 310.0,286.4 310.4,286.2 310.8,286.1 311.2,285.5 311.7,284.9 312.1,284.4 312.5,284.3 312.9,284.2 313.3,284.3 313.8,284.7 314.2,284.7 314.6,284.9 315.0,285.4 315.4,285.3 315.9,285.3 316.3,285.2 316.7,284.9 317.1,285.3 317.5,285.3 318.0,285.4 318.4,285.5 318.8,285.2 319.2,285.1 319.6,285.0 320.1,285.0 320.5,285.1 320.9,284.9 321.3,284.7 321.7,284.7 322.2,284.4 322.6,284.7 323.0,285.0 323.4,284.9 323.8,284.8 324.3,284.7 324.7,284.7 325.1,285.0 325.5,285.2 325.9,285.1 326.4,285.0 326.8,284.7 327.2,284.3 327.6,284.2 328.0,283.8 328.5,283.5 328.9,283.1 329.3,282.7 329.7,282.6 330.1,282.3 330.6,282.5 331.0,282.6 331.4,282.8 331.8,283.3 332.2,283.1 332.7,283.0 333.1,282.7 333.5,282.6 333.9,282.8 334.3,283.3 334.8,283.5 335.2,283.4 335.6,283.5 336.0,283.3 336.4,283.2 336.9,283.6 337.3,283.7 337.7,283.9 338.1,283.8 338.5,283.6 339.0,283.8 339.4,283.6 339.8,283.8 340.2,284.0 340.6,284.3 341.1,284.6 341.5,285.1 341.9,285.2 342.3,285.2 342.7,285.6 343.2,286.1 343.6,287.0 344.0,288.1 344.4,288.8 344.8,289.0 345.3,289.1 345.7,289.0 346.1,289.2 346.5,289.3 346.9,289.2 347.4,289.1 347.8,288.6 348.2,288.6 348.6,289.0 349.0,289.0 349.5,289.2 349.9,289.3 350.3,288.8 350.7,289.0 351.1,289.1 351.6,289.3 352.0,289.5 352.4,289.4 352.8,289.3 353.2,289.5 353.7,289.8 354.1,290.0 354.5,290.1 354.9,289.6 355.3,289.4 355.8,289.2 356.2,289.5 356.6,289.9 357.0,290.2 357.4,290.6 357.9,290.9 358.3,291.0 358.7,291.1 359.1,291.0 359.5,290.8 360.0,291.0 360.4,290.9 360.8,290.8 361.2,290.9 361.6,290.8 362.1,290.7 362.5,290.8 362.9,290.9 363.3,290.9 363.7,291.0 364.2,291.0 364.6,290.7 365.0,290.8 365.4,290.6 365.8,290.5 366.3,290.7 366.7,290.6 367.1,290.4 367.5,290.2 367.9,289.9 368.4,290.0 368.8,290.0 369.2,289.7 369.6,289.9 370.0,289.9 370.5,289.8 370.9,290.1 371.3,290.3 371.7,290.1 372.1,290.5 372.6,290.6 373.0,290.6 373.4,291.0 373.8,290.8 374.2,291.2 374.7,291.5 375.1,291.8 375.5,292.6 375.9,293.1 376.3,293.7 376.8,294.4 377.2,294.4 377.6,294.5 378.0,294.8 378.4,294.9 378.9,295.2 379.3,295.2 379.7,295.3 380.1,295.3 380.5,295.5 381.0,295.7 381.4,295.5 381.8,295.3 382.2,295.1 382.6,295.0 383.1,295.0 383.5,294.8 383.9,294.4 384.3,294.0 384.7,293.1 385.2,292.4 385.6,291.9 386.0,291.2 386.4,290.9 386.8,290.6 387.3,290.6 387.7,290.7 388.1,290.6 388.5,290.6 388.9,290.2 389.4,289.7 389.8,289.6 390.2,289.4 390.6,289.2 391.0,289.4 391.5,289.3 391.9,289.1 392.3,289.1 392.7,289.0 393.1,289.1 393.6,289.4 394.0,289.5 394.4,289.7 394.8,289.6 395.2,289.4 395.7,289.6 396.1,289.1 396.5,289.2 396.9,289.1 397.3,288.7 397.8,288.8 398.2,288.6 398.6,289.1 399.0,289.7 399.4,290.0 399.9,290.3 400.3,290.1 400.7,289.9 401.1,289.9 401.5,290.0 402.0,290.1 402.4,290.5 402.8,290.3 403.2,290.5 403.6,290.8 404.1,290.7 404.5,291.1 404.9,291.0 405.3,290.7 405.7,290.9 406.2,291.0 406.6,291.2 407.0,291.6 407.4,291.5 407.8,291.8 408.3,292.0 408.7,292.0 409.1,292.0 409.5,292.1 409.9,292.0 410.4,291.9 410.8,292.2 411.2,292.6 411.6,292.6 412.0,292.6 412.5,292.5 412.9,291.9 413.3,291.9 413.7,292.4 414.1,292.5 414.6,292.5 415.0,292.4 415.4,291.8 415.8,291.7 416.2,291.5 416.7,291.2 417.1,291.2 417.5,290.9 417.9,290.7 418.3,290.4 418.8,290.0 419.2,289.8 419.6,289.7 420.0,289.4 420.4,289.0 420.9,288.6 421.3,288.2 421.7,288.2 422.1,288.0 422.5,287.8 423.0,287.5 423.4,287.2 423.8,287.3 424.2,287.4 424.6,287.7 425.1,288.1 425.5,288.7 425.9,289.8 426.3,291.1 426.7,292.4 427.2,293.3 427.6,294.3 428.0,294.0 428.4,292.4 428.8,291.1 429.3,289.8 429.7,289.6 430.1,289.8 430.5,289.7 430.9,289.3 431.4,289.2 431.8,289.0 432.2,289.0 432.6,289.3 433.0,289.6 433.5,289.4 433.9,289.2 434.3,289.0 434.7,288.4 435.1,288.5 435.6,288.5 436.0,288.7 436.4,288.9 436.8,289.3 437.2,289.3 437.7,289.0 438.1,289.1 438.5,288.8 438.9,288.9 439.3,289.0 439.8,288.8 440.2,288.8 440.6,288.8 441.0,288.9 441.4,289.0 441.9,288.9 442.3,289.1 442.7,289.2 443.1,289.4 443.5,289.8 444.0,289.9 444.4,290.0 444.8,290.2 445.2,290.5 445.6,290.8 446.1,291.1 446.5,291.1 446.9,290.9 447.3,291.0 447.7,290.8 448.2,291.1 448.6,291.0 449.0,290.6 449.4,290.8 449.8,290.8 450.3,291.2 450.7,291.5 451.1,291.6 451.5,291.5 451.9,291.6 452.4,291.7 452.8,291.7 453.2,291.7 453.6,291.5 454.0,291.6 454.5,291.7 454.9,292.2 455.3,292.2 455.7,292.0 456.1,291.9 456.6,291.7 457.0,291.7 457.4,291.7 457.8,291.8 458.2,291.5 458.7,291.5 459.1,291.5 459.5,291.3 459.9,291.2 460.3,290.9 460.8,290.6 461.2,290.2 461.6,290.1 462.0,289.9 462.4,289.7 462.9,289.5 463.3,289.4 463.7,289.2 464.1,289.1 464.5,289.0 465.0,288.9 465.4,288.9 465.8,289.1 466.2,289.5 466.6,289.8 467.1,289.8 467.5,289.8 467.9,289.5 468.3,289.2 468.7,288.9 469.2,288.9 469.6,288.9 470.0,289.0 470.4,288.9 470.8,288.7 471.3,288.5 471.7,288.0 472.1,287.9 472.5,287.9 472.9,287.9 473.4,288.5 473.8,289.1 474.2,289.6 474.6,291.3 475.0,293.9 475.5,296.2 475.9,297.7 476.3,295.5 476.7,292.8 477.1,290.2 477.6,288.9 478.0,289.0 478.4,289.0 478.8,288.9 479.2,288.4 479.7,288.2 480.1,288.0 480.5,288.3 480.9,288.6 481.3,288.5 481.8,288.7 482.2,288.7 482.6,288.8 483.0,288.9 483.4,288.7 483.9,288.7 484.3,288.5 484.7,288.4 485.1,288.3 485.5,288.2 486.0,288.8 486.4,289.1 486.8,289.1 487.2,289.1 487.6,288.8 488.1,288.6 488.5,288.7 488.9,288.7 489.3,288.5 489.7,288.8 490.2,289.0 490.6,288.9 491.0,289.0 491.4,289.0 491.8,289.0 492.3,289.0 492.7,288.8 493.1,288.5 493.5,288.3 493.9,288.0 494.4,287.8 494.8,287.2 495.2,286.6 495.6,286.3 496.0,285.8 496.5,285.6 496.9,285.3 497.3,285.1 497.7,284.8 498.1,284.9 498.6,285.4 499.0,285.5 499.4,285.9 499.8,286.1 500.2,285.7 500.7,285.5 501.1,285.4 501.5,285.0 501.9,284.7 502.3,284.6 502.8,285.2 503.2,286.4 503.6,287.4 504.0,288.2 504.4,288.9 504.9,289.5 505.3,290.7 505.7,293.5 506.1,296.5 506.5,299.3 507.0,299.7 507.4,296.2 507.8,292.6 508.2,289.6 508.6,288.5 509.1,287.9 509.5,287.3 509.9,286.9 510.3,286.6 510.7,286.1 511.2,285.8 511.6,285.3 512.0,284.9 512.4,284.6 512.8,284.1 513.3,284.1 513.7,283.8 514.1,283.6 514.5,283.7 514.9,283.6 515.4,283.6 515.8,283.7 516.2,283.5 516.6,283.6 517.0,283.5 517.5,284.3 517.9,285.2 518.3,286.2 518.7,287.4 519.1,288.1 519.6,289.1 520.0,289.8 520.4,289.1 520.8,288.3 521.2,287.5 521.7,286.9 522.1,286.7 522.5,286.6 522.9,286.5 523.3,286.0 523.8,285.5 524.2,285.5 524.6,285.3 525.0,285.5 525.4,285.4 525.9,285.1 526.3,285.2 526.7,285.5 527.1,285.6 527.5,285.6 528.0,285.5 528.4,285.2 528.8,285.1 529.2,284.8 529.6,284.8 530.1,284.5 530.5,284.6 530.9,284.8 531.3,284.8 531.7,285.1 532.2,284.7 532.6,284.5 533.0,284.4 533.4,283.9 533.8,283.9 534.3,283.8 534.7,283.7 535.1,283.9 535.5,283.8 535.9,283.8" fill="none" stroke="#0000ff" stroke-width="4.0" stroke-linejoin="round"/>
<polyline points="278.6,317.1 278.7,304.7 278.8,311.1 278.9,307.7 279.0,307.0 279.1,306.7 279.2,301.2 279.3,304.7 279.4,302.2 279.5,311.7 279.6,303.0 279.7,300.6 279.8,299.8 279.9,297.9 280.0,296.0 280.1,296.7 280.2,297.9 280.3,295.1 280.4,297.2 280.5,293.3 280.6,292.9 280.7,295.8 280.8,292.3 280.9,288.7 281.0,295.8 281.1,292.0 281.3,293.3 281.4,293.2 281.6,292.4 281.7,292.4 281.8,290.1 282.0,292.4 282.1,292.6 282.3,290.4 282.4,289.5 282.5,289.2 282.7,288.5 282.8,290.2 283.0,290.2 283.1,290.7 283.2,287.4 283.4,289.5 283.5,289.5 283.7,288.5 283.8,287.7 283.9,288.9 284.1,290.3 284.2,287.2 284.4,287.7 284.5,287.8 284.6,288.0 284.8,289.3 284.9,288.0 285.1,286.4 285.2,287.3 285.3,287.5 285.5,288.9 285.6,288.8 285.8,287.7 285.9,289.3 286.0,287.1 286.2,288.5 286.3,289.6 286.5,287.3 286.6,289.2 286.7,289.5 286.9,288.4 287.0,288.9 287.2,287.5 287.3,289.0 287.4,287.8 287.6,288.4 287.7,289.0 287.9,288.2 288.0,287.5 288.1,288.3 288.3,288.0 288.4,287.5 288.6,286.4 288.7,288.0 288.8,289.2 289.0,287.8 289.1,287.9 289.3,287.9 289.4,288.8 289.5,287.1 289.7,289.3 289.8,290.4 290.0,289.0 290.1,288.6 290.2,288.9 290.4,288.8 290.5,288.2 290.7,288.2 290.8,288.1 290.9,288.7 291.1,289.7 291.2,288.5 291.4,290.1 291.5,287.7 291.6,289.0 291.8,288.1 291.9,288.7 292.1,288.5 292.2,287.1 292.3,288.5 292.5,289.0 292.6,289.0 292.8,287.6 292.9,287.8 293.0,289.5 293.2,288.1 293.3,291.0 293.5,289.3 293.6,289.2 293.7,288.7 293.9,288.1 294.0,288.9 294.2,288.4 294.3,289.9 294.4,288.7 294.6,288.6 294.7,289.4 294.9,289.2 295.0,285.5 295.1,290.2 295.3,285.6 295.4,285.9 295.6,286.8 295.7,285.7 295.8,290.3 296.0,286.8 296.1,284.2 296.3,285.9 296.4,284.4 296.5,284.8 296.7,287.8 296.8,288.3 297.0,286.2 297.1,282.9 297.2,284.9 297.4,289.7 297.5,288.7 297.7,286.3 297.8,288.8 297.9,282.0 298.1,285.0 298.2,286.4 298.4,287.0 298.5,288.2 298.6,286.5 298.8,286.8 298.9,286.6 299.1,285.0 299.2,285.9 299.3,287.8 299.5,287.0 299.6,286.1 299.8,286.4 299.9,288.3 300.0,288.1 300.2,288.3 300.3,287.7 300.5,285.9 300.6,285.7 300.7,284.2 300.9,287.1 301.0,286.8 301.2,288.1 301.3,285.0 301.4,287.6 301.6,286.6 301.7,286.2 301.9,286.5 302.0,285.2 302.1,286.4 302.3,285.5 302.4,285.9 302.6,286.7 302.7,286.3 302.8,286.9 303.0,286.0 303.1,286.2 303.3,286.0 303.4,286.8 303.5,286.8 303.7,287.4 303.8,286.4 304.0,286.5 304.1,287.8 304.2,289.2 304.4,288.5 304.5,286.7 304.7,288.3 304.8,288.0 304.9,288.1 305.1,288.8 305.2,288.2 305.4,288.1 305.5,287.0 305.6,288.0 305.8,287.4 305.9,288.2 306.1,288.8 306.2,287.4 306.3,287.7 306.5,288.5 306.6,286.7 306.8,287.4 306.9,286.8 307.0,287.6 307.2,288.0 307.3,287.8 307.5,289.2 307.6,288.7 307.7,288.2 307.9,288.7 308.0,289.6 308.2,287.2 308.3,287.0 308.4,287.6 308.6,288.4 308.7,284.6 308.9,286.6 309.0,289.9 309.1,286.3 309.3,288.8 309.4,289.9 309.6,287.6 309.7,290.2 309.8,286.7 310.0,283.7 310.1,285.7 310.3,289.5 310.4,291.8 310.5,287.7 310.7,282.8 310.8,286.6 311.0,281.9 311.1,286.3 311.2,289.9 311.4,283.5 311.5,283.2 311.7,284.1 311.8,284.4 311.9,286.6 312.1,285.7 312.2,286.8 312.4,282.3 312.5,287.8 312.6,286.2 312.8,282.4 312.9,283.3 313.1,283.1 313.2,280.8 313.3,288.6 313.5,285.9 313.6,285.1 313.8,287.1 313.9,284.7 314.0,284.6 314.2,286.8 314.3,283.8 314.5,284.0 314.6,283.0 314.7,284.4 314.9,286.6 315.0,285.1 315.2,287.2 315.3,284.9 315.4,285.5 315.6,284.5 315.7,286.2 315.9,287.1 316.0,285.0 316.1,284.0 316.3,285.4 316.4,285.8 316.6,284.4 316.7,286.6 316.8,283.9 317.0,285.9 317.1,286.9 317.3,285.7 317.4,286.5 317.5,285.8 317.7,285.2 317.8,285.1 318.0,287.1 318.1,284.1 318.2,285.9 318.4,284.9 318.5,285.2 318.7,286.1 318.8,284.4 318.9,284.1 319.1,286.4 319.2,286.3 319.4,285.1 319.5,284.3 319.6,284.2 319.8,285.4 319.9,285.4 320.1,285.4 320.2,285.7 320.3,285.2 320.5,285.7 320.6,285.1 320.8,285.3 320.9,284.7 321.0,285.1 321.2,284.1 321.3,284.5 321.5,283.8 321.6,285.1 321.7,284.3 321.9,284.1 322.0,284.2 322.2,283.7 322.3,283.5 322.4,285.1 322.6,285.1 322.7,285.6 322.9,284.5 323.0,285.2 323.1,283.5 323.3,285.6 323.4,284.2 323.6,285.8 323.7,285.3 323.8,286.7 324.0,285.4 324.1,284.1 324.3,286.9 324.4,286.1 324.5,285.7 324.7,286.6 324.8,285.0 325.0,282.7 325.1,284.8 325.2,284.4 325.4,286.0 325.5,284.9 325.7,286.0 325.8,284.3 325.9,286.4 326.1,285.8 326.2,284.5 326.4,286.7 326.5,286.5 326.6,285.5 326.8,284.1 326.9,285.3 327.1,284.6 327.2,283.8 327.3,284.2 327.5,284.2 327.6,282.5 327.8,284.1 327.9,282.3 328.0,283.7 328.2,283.6 328.3,285.4 328.5,282.6 328.6,283.7 328.7,280.2 328.9,285.9 329.0,288.3 329.2,282.6 329.3,284.1 329.4,284.8 329.6,282.4 329.7,285.4 329.9,281.3 330.0,282.4 330.1,282.4 330.3,280.8 330.4,279.0 330.6,285.4 330.7,283.0 330.8,281.0 331.0,280.2 331.1,282.4 331.3,280.6 331.4,284.1 331.5,283.2 331.7,284.0 331.8,285.4 332.0,283.9 332.1,284.3 332.2,284.8 332.4,283.9 332.5,280.0 332.7,284.7 332.8,283.3 332.9,283.7 333.1,284.8 333.2,282.5 333.4,283.4 333.5,280.1 333.6,284.4 333.8,282.8 333.9,282.7 334.1,282.6 334.2,283.4 334.3,281.8 334.5,285.2 334.6,283.6 334.8,283.5 334.9,284.8 335.0,284.2 335.2,283.9 335.3,282.8 335.5,284.3 335.6,283.6 335.7,283.0 335.9,283.3 336.0,283.5 336.2,282.6 336.3,284.2 336.4,282.6 336.6,284.1 336.7,283.9 336.9,284.2 337.0,282.6 337.1,283.8 337.3,284.4 337.4,284.2 337.6,283.6 337.7,284.5 337.8,283.5 338.0,283.8 338.1,285.3 338.3,285.6 338.4,285.5 338.5,284.2 338.7,283.0 338.8,283.5 339.0,284.9 339.1,283.9 339.2,285.2 339.4,283.4 339.5,284.4 339.7,282.6 339.8,283.5 339.9,284.3 340.1,284.3 340.2,284.2 340.4,283.3 340.5,284.4 340.6,284.1 340.8,283.9 340.9,284.6 341.1,283.9 341.2,284.4 341.3,286.9 341.5,285.5 341.6,286.3 341.8,284.8 341.9,285.0 342.0,284.1 342.2,284.1 342.3,284.1 342.5,285.7 342.6,284.6 342.7,284.9 342.9,285.2 343.0,286.6 343.2,285.8 343.3,286.9 343.4,285.5 343.6,287.5 343.7,287.4 343.9,288.2 344.0,287.1 344.1,288.4 344.3,288.7 344.4,288.2 344.6,289.3 344.7,288.9 344.8,289.3 345.0,288.7 345.1,289.5 345.3,288.0 345.4,289.5 345.5,287.8 345.7,288.5 345.8,289.0 346.0,289.6 346.1,289.3 346.2,287.5 346.4,288.1 346.5,288.7 346.7,289.2 346.8,287.9 346.9,288.4 347.1,289.5 347.2,289.2 347.4,289.5 347.5,289.2 347.6,287.4 347.8,287.8 347.9,288.5 348.1,288.8 348.2,288.0 348.3,289.5 348.5,288.2 348.6,288.4 348.8,289.0 348.9,289.4 349.0,288.3 349.2,288.8 349.3,288.2 349.5,288.5 349.6,290.5 349.7,288.3 349.9,290.6 350.0,288.5 350.2,290.0 350.3,288.2 350.4,287.7 350.6,288.5 350.7,289.0 350.9,289.3 351.0,288.1 351.1,287.7 351.3,288.9 351.4,288.8 351.6,288.6 351.7,289.2 351.8,290.5 352.0,290.5 352.1,289.7 352.3,290.5 352.4,290.9 352.5,290.6 352.7,287.9 352.8,288.6 353.0,289.5 353.1,290.3 353.2,288.3 353.4,291.4 353.5,289.1 353.7,288.8 353.8,288.0 353.9,290.8 354.1,290.9 354.2,290.7 354.4,290.3 354.5,290.4 354.6,290.1 354.8,291.1 354.9,290.1 355.1,290.4 355.2,287.9 355.3,288.2 355.5,290.2 355.6,289.6 355.8,289.7 355.9,289.3 356.0,289.6 356.2,289.1 356.3,290.2 356.5,288.3 356.6,290.1 356.7,289.4 356.9,289.4 357.0,289.8 357.2,290.2 357.3,290.4 357.4,292.0 357.6,289.6 357.7,290.0 357.9,290.9 358.0,290.9 358.1,291.3 358.3,291.8 358.4,291.3 358.6,290.4 358.7,293.1 358.8,291.3 359.0,291.2 359.1,291.2 359.3,290.2 359.4,290.2 359.5,290.8 359.7,291.1 359.8,291.4 360.0,290.1 360.1,291.7 360.2,290.1 360.4,292.0 360.5,293.2 360.7,289.5 360.8,291.3 360.9,291.9 361.1,290.5 361.2,292.2 361.4,289.4 361.5,290.2 361.6,291.4 361.8,292.0 361.9,290.3 362.1,289.4 362.2,291.4 362.3,292.2 362.5,291.2 362.6,290.2 362.8,289.9 362.9,293.2 363.0,291.1 363.2,289.5 363.3,289.3 363.5,292.0 363.6,292.0 363.7,290.9 363.9,290.7 364.0,291.7 364.2,291.7 364.3,291.3 364.4,289.7 364.6,291.0 364.7,292.6 364.9,290.0 365.0,290.2 365.1,289.9 365.3,290.1 365.4,291.8 365.6,291.1 365.7,289.6 365.8,289.6 366.0,290.5 366.1,290.1 366.3,290.9 366.4,290.9 366.5,289.3 366.7,292.1 366.8,290.0 367.0,291.8 367.1,290.6 367.2,290.0 367.4,288.5 367.5,289.7 367.7,291.1 367.8,290.6 367.9,289.1 368.1,287.7 368.2,290.2 368.4,288.8 368.5,289.7 368.6,289.0 368.8,291.2 368.9,289.5 369.1,289.9 369.2,289.6 369.3,289.1 369.5,290.5 369.6,290.2 369.8,290.2 369.9,289.5 370.0,290.3 370.2,289.0 370.3,290.1 370.5,289.5 370.6,287.4 370.7,288.8 370.9,289.8 371.0,292.0 371.2,291.4 371.3,289.8 371.4,291.3 371.6,289.2 371.7,291.2 371.9,289.8 372.0,289.6 372.1,289.2 372.3,290.3 372.4,291.6 372.6,290.5 372.7,294.1 372.8,289.9 373.0,291.7 373.1,291.8 373.3,291.1 373.4,290.7 373.5,290.2 373.7,291.9 373.8,291.9 374.0,290.5 374.1,289.8 374.2,288.6 374.4,291.2 374.5,287.8 374.7,289.7 374.8,296.0 374.9,289.4 375.1,290.5 375.2,294.2 375.4,293.5 375.5,291.7 375.6,293.9 375.8,292.3 375.9,293.2 376.1,290.6 376.2,294.9 376.3,294.2 376.5,294.1 376.6,295.2 376.8,294.6 376.9,293.2 377.0,294.5 377.2,292.8 377.3,288.6 377.5,292.4 377.6,293.5 377.7,294.5 377.9,295.3 378.0,297.3 378.2,297.7 378.3,297.7 378.4,294.3 378.6,296.9 378.7,290.7 378.9,292.9 379.0,298.3 379.1,294.9 379.3,294.7 379.4,295.9 379.6,296.2 379.7,294.5 379.8,295.2 380.0,291.1 380.1,296.2 380.3,297.7 380.4,298.0 380.5,295.8 380.7,293.8 380.8,294.4 381.0,293.0 381.1,291.1 381.2,296.9 381.4,293.4 381.5,301.8 381.7,296.2 381.8,299.0 381.9,291.0 382.1,294.6 382.2,297.1 382.4,296.8 382.5,295.8 382.6,296.1 382.8,293.5 382.9,293.6 383.1,294.0 383.2,292.5 383.3,296.4 383.5,293.1 383.6,293.2 383.8,294.2 383.9,296.5 384.0,294.5 384.2,294.8 384.3,294.1 384.5,295.5 384.6,293.9 384.7,291.6 384.9,291.6 385.0,292.7 385.2,292.6 385.3,291.6 385.4,292.4 385.6,293.1 385.7,291.2 385.9,292.7 386.0,292.4 386.1,288.4 386.3,290.5 386.4,291.5 386.6,290.6 386.7,290.7 386.8,291.6 387.0,291.3 387.1,289.7 387.3,288.0 387.4,291.3 387.5,291.7 387.7,291.3 387.8,290.9 388.0,291.4 388.1,291.2 388.2,289.9 388.4,290.7 388.5,291.2 388.7,289.9 388.8,290.6 388.9,291.3 389.1,292.2 389.2,290.7 389.4,291.7 389.5,289.6 389.6,289.6 389.8,290.9 389.9,289.2 390.1,289.1 390.2,288.3 390.3,289.1 390.5,288.7 390.6,288.0 390.8,288.0 390.9,289.7 391.0,290.2 391.2,289.0 391.3,288.5 391.5,289.1 391.6,285.0 391.7,288.6 391.9,290.1 392.0,290.0 392.2,288.6 392.3,288.9 392.4,287.6 392.6,288.0 392.7,289.0 392.9,287.9 393.0,290.2 393.1,290.0 393.3,289.7 393.4,289.5 393.6,288.8 393.7,289.6 393.8,288.1 394.0,289.9 394.1,290.0 394.3,290.2 394.4,289.7 394.5,291.1 394.7,289.8 394.8,289.7 395.0,289.0 395.1,289.0 395.2,288.2 395.4,289.0 395.5,289.2 395.7,289.5 395.8,288.6 395.9,288.0 396.1,288.2 396.2,288.7 396.4,290.1 396.5,288.2 396.6,289.5 396.8,288.9 396.9,288.8 397.1,288.2 397.2,290.7 397.3,288.8 397.5,288.4 397.6,289.4 397.8,287.9 397.9,287.9 398.0,288.7 398.2,287.4 398.3,288.6 398.5,290.4 398.6,287.9 398.7,289.3 398.9,290.3 399.0,288.2 399.2,290.1 399.3,289.9 399.4,288.5 399.6,289.9 399.7,290.9 399.9,291.3 400.0,290.0 400.1,291.5 400.3,290.3 400.4,289.9 400.6,289.1 400.7,289.4 400.8,290.5 401.0,289.9 401.1,290.9 401.3,290.2 401.4,290.1 401.5,291.8 401.7,289.6 401.8,290.2 402.0,291.3 402.1,290.6 402.2,291.3 402.4,291.2 402.5,288.8 402.7,291.7 402.8,289.9 402.9,290.4 403.1,291.8 403.2,290.3 403.4,290.6 403.5,291.2 403.6,290.1 403.8,291.5 403.9,290.7 404.1,290.3 404.2,289.9 404.3,291.5 404.5,289.0 404.6,290.6 404.8,290.4 404.9,291.5 405.0,292.9 405.2,291.2 405.3,291.8 405.5,289.5 405.6,292.0 405.7,289.9 405.9,290.5 406.0,290.8 406.2,289.7 406.3,291.6 406.4,292.1 406.6,291.8 406.7,289.8 406.9,289.5 407.0,291.2 407.1,293.5 407.3,289.7 407.4,290.4 407.6,292.8 407.7,292.3 407.8,292.6 408.0,291.9 408.1,292.1 408.3,292.2 408.4,291.9 408.5,290.2 408.7,291.8 408.8,292.9 409.0,291.0 409.1,292.6 409.2,291.9 409.4,291.5 409.5,293.0 409.7,291.9 409.8,291.0 409.9,290.9 410.1,292.8 410.2,292.2 410.4,291.1 410.5,292.5 410.6,292.0 410.8,293.4 410.9,291.7 411.1,291.4 411.2,291.5 411.3,291.9 411.5,292.1 411.6,292.0 411.8,292.3 411.9,291.8 412.0,293.3 412.2,293.6 412.3,291.8 412.5,293.6 412.6,293.1 412.7,293.1 412.9,291.4 413.0,290.9 413.2,292.7 413.3,290.2 413.4,291.9 413.6,291.9 413.7,291.9 413.9,291.7 414.0,292.3 414.1,292.3 414.3,292.6 414.4,291.7 414.6,292.3 414.7,293.0 414.8,292.6 415.0,291.7 415.1,291.6 415.3,292.3 415.4,291.6 415.5,291.5 415.7,291.7 415.8,292.4 416.0,292.0 416.1,294.5 416.2,292.7 416.4,291.8 416.5,291.9 416.7,290.7 416.8,291.2 416.9,292.0 417.1,292.3 417.2,290.9 417.4,290.5 417.5,291.0 417.6,290.6 417.8,290.4 417.9,291.1 418.1,291.6 418.2,290.0 418.3,291.7 418.5,290.2 418.6,288.8 418.8,290.4 418.9,290.2 419.0,290.2 419.2,288.5 419.3,290.2 419.5,290.4 419.6,288.8 419.7,288.7 419.9,290.6 420.0,291.4 420.2,290.9 420.3,287.6 420.4,290.9 420.6,287.6 420.7,288.7 420.9,288.3 421.0,290.0 421.1,289.8 421.3,288.1 421.4,288.7 421.6,286.6 421.7,288.7 421.8,291.1 422.0,288.7 422.1,286.8 422.3,290.9 422.4,287.1 422.5,288.4 422.7,288.8 422.8,288.3 423.0,286.1 423.1,287.4 423.2,286.7 423.4,286.8 423.5,281.2 423.7,286.2 423.8,286.4 423.9,290.3 424.1,289.9 424.2,284.3 424.4,285.2 424.5,288.6 424.6,287.8 424.8,286.8 424.9,286.6 425.1,287.4 425.2,287.9 425.3,287.3 425.5,289.1 425.6,290.1 425.8,289.2 425.9,290.0 426.0,288.5 426.2,289.7 426.3,289.8 426.5,292.1 426.6,292.8 426.7,291.7 426.9,292.2 427.0,292.2 427.2,293.0 427.3,292.5 427.4,294.5 427.6,293.7 427.7,293.7 427.9,293.8 428.0,293.7 428.1,294.4 428.3,293.1 428.4,292.4 428.6,291.5 428.7,290.9 428.8,291.3 429.0,291.3 429.1,291.0 429.3,289.7 429.4,288.6 429.5,288.9 429.7,289.6 429.8,289.9 430.0,289.9 430.1,290.7 430.2,290.1 430.4,290.2 430.5,290.7 430.7,290.0 430.8,290.6 430.9,288.9 431.1,288.7 431.2,290.8 431.4,289.2 431.5,291.3 431.6,287.1 431.8,289.3 431.9,289.6 432.1,291.2 432.2,290.0 432.3,288.5 432.5,289.5 432.6,288.5 432.8,288.9 432.9,290.2 433.0,289.9 433.2,291.7 433.3,286.6 433.5,289.3 433.6,290.1 433.7,290.6 433.9,289.3 434.0,289.3 434.2,289.8 434.3,291.8 434.4,289.6 434.6,287.4 434.7,287.8 434.9,288.8 435.0,287.7 435.1,289.4 435.3,288.7 435.4,288.4 435.6,288.8 435.7,287.3 435.8,288.0 436.0,288.5 436.1,288.9 436.3,289.1 436.4,288.9 436.5,291.0 436.7,287.7 436.8,290.4 437.0,289.9 437.1,288.9 437.2,289.6 437.4,288.7 437.5,288.8 437.7,289.4 437.8,289.5 437.9,289.3 438.1,290.0 438.2,288.1 438.4,289.9 438.5,289.1 438.6,287.9 438.8,289.7 438.9,289.0 439.1,288.9 439.2,288.9 439.3,288.6 439.5,287.8 439.6,288.9 439.8,289.2 439.9,288.3 440.0,288.6 440.2,286.9 440.3,289.7 440.5,288.4 440.6,287.8 440.7,289.2 440.9,289.7 441.0,289.2 441.2,289.7 441.3,289.0 441.4,288.5 441.6,290.2 441.7,287.1 441.9,288.0 442.0,288.6 442.1,289.6 442.3,289.5 442.4,289.1 442.6,289.2 442.7,289.8 442.8,289.0 443.0,289.6 443.1,289.7 443.3,288.4 443.4,288.9 443.5,289.5 443.7,290.2 443.8,290.8 444.0,289.3 444.1,288.2 444.2,290.9 444.4,288.7 444.5,291.1 444.7,289.3 444.8,289.6 444.9,290.3 445.1,289.5 445.2,291.1 445.4,291.2 445.5,288.3 445.6,290.7 445.8,289.5 445.9,291.2 446.1,291.6 446.2,290.3 446.3,291.2 446.5,291.0 446.6,291.3 446.8,290.8 446.9,290.2 447.0,291.5 447.2,291.2 447.3,289.3 447.5,290.6 447.6,290.0 447.7,290.5 447.9,288.7 448.0,290.4 448.2,292.6 448.3,290.0 448.4,291.1 448.6,292.4 448.7,291.2 448.9,291.5 449.0,290.4 449.1,289.5 449.3,289.7 449.4,291.2 449.6,290.2 449.7,290.6 449.8,289.9 450.0,289.2 450.1,288.6 450.3,291.8 450.4,289.9 450.5,290.5 450.7,291.5 450.8,291.3 451.0,291.3 451.1,292.0 451.2,291.9 451.4,291.3 451.5,290.8 451.7,292.2 451.8,291.4 451.9,291.2 452.1,291.2 452.2,292.5 452.4,293.5 452.5,291.6 452.6,291.3 452.8,292.2 452.9,292.3 453.1,292.6 453.2,291.8 453.3,290.9 453.5,292.4 453.6,290.9 453.8,291.1 453.9,290.8 454.0,291.8 454.2,290.3 454.3,290.9 454.5,293.7 454.6,292.7 454.7,293.0 454.9,293.3 455.0,294.7 455.2,291.4 455.3,292.3 455.4,293.2 455.6,291.7 455.7,292.5 455.9,291.2 456.0,292.2 456.1,292.4 456.3,292.9 456.4,292.7 456.6,292.3 456.7,289.3 456.8,292.0 457.0,291.5 457.1,291.7 457.3,290.6 457.4,292.5 457.5,292.0 457.7,291.5 457.8,291.9 458.0,292.3 458.1,290.5 458.2,292.6 458.4,291.6 458.5,292.3 458.7,291.0 458.8,291.2 458.9,290.8 459.1,290.8 459.2,291.8 459.4,291.5 459.5,291.6 459.6,290.1 459.8,291.2 459.9,292.2 460.1,291.0 460.2,291.3 460.3,290.6 460.5,291.5 460.6,290.6 460.8,291.0 460.9,290.6 461.0,292.0 461.2,289.9 461.3,291.6 461.5,288.9 461.6,290.3 461.7,290.8 461.9,289.7 462.0,290.7 462.2,291.1 462.3,289.7 462.4,289.8 462.6,289.2 462.7,288.3 462.9,289.1 463.0,289.8 463.1,290.1 463.3,289.3 463.4,288.9 463.6,289.1 463.7,289.0 463.8,289.9 464.0,289.3 464.1,287.2 464.3,289.1 464.4,289.7 464.5,286.9 464.7,289.4 464.8,288.9 465.0,289.8 465.1,288.3 465.2,288.5 465.4,288.5 465.5,289.2 465.7,290.1 465.8,289.3 465.9,290.2 466.1,289.1 466.2,289.7 466.4,289.8 466.5,290.2 466.6,290.4 466.8,291.4 466.9,289.1 467.1,289.7 467.2,290.2 467.3,291.0 467.5,290.2 467.6,288.9 467.8,290.5 467.9,289.0 468.0,289.3 468.2,290.5 468.3,289.9 468.5,288.0 468.6,290.6 468.7,289.1 468.9,289.2 469.0,286.2 469.2,288.3 469.3,288.8 469.4,288.2 469.6,288.4 469.7,288.8 469.9,289.1 470.0,289.4 470.1,287.9 470.3,288.8 470.4,288.4 470.6,290.9 470.7,288.8 470.8,288.0 471.0,288.6 471.1,287.2 471.3,288.4 471.4,289.4 471.5,289.1 471.7,289.7 471.8,287.5 472.0,287.0 472.1,287.8 472.2,288.1 472.4,287.9 472.5,288.9 472.7,287.5 472.8,288.0 472.9,288.8 473.1,288.2 473.2,289.4 473.4,290.0 473.5,289.2 473.6,288.0 473.8,290.6 473.9,288.4 474.1,289.2 474.2,287.5 474.3,288.6 474.5,288.2 474.6,291.1 474.8,288.5 474.9,290.4 475.0,292.9 475.2,299.6 475.3,293.9 475.5,290.9 475.6,293.4 475.7,306.0 475.9,293.9 476.0,293.0 476.2,297.2 476.3,296.0 476.4,295.9 476.6,291.1 476.7,292.6 476.9,291.4 477.0,292.7 477.1,291.3 477.3,287.6 477.4,289.7 477.6,288.5 477.7,288.7 477.8,288.5 478.0,287.7 478.1,288.7 478.3,287.9 478.4,289.2 478.5,288.7 478.7,289.2 478.8,288.0 479.0,287.7 479.1,289.1 479.2,286.9 479.4,289.2 479.5,288.9 479.7,288.0 479.8,288.2 479.9,287.2 480.1,288.2 480.2,286.5 480.4,288.4 480.5,288.0 480.6,288.3 480.8,287.0 480.9,289.3 481.1,290.0 481.2,288.3 481.3,288.4 481.5,289.9 481.6,288.8 481.8,288.3 481.9,287.2 482.0,289.7 482.2,288.3 482.3,289.3 482.5,289.4 482.6,289.2 482.7,289.1 482.9,288.6 483.0,289.0 483.2,288.8 483.3,289.0 483.4,287.5 483.6,287.7 483.7,288.0 483.9,289.8 484.0,288.8 484.1,287.3 484.3,289.2 484.4,289.2 484.6,288.3 484.7,290.1 484.8,289.2 485.0,289.4 485.1,289.6 485.3,288.8 485.4,287.6 485.5,287.3 485.7,287.7 485.8,288.4 486.0,288.5 486.1,288.5 486.2,290.7 486.4,289.6 486.5,289.8 486.7,289.2 486.8,289.7 486.9,289.2 487.1,288.7 487.2,289.3 487.4,287.6 487.5,288.6 487.6,289.1 487.8,288.8 487.9,288.2 488.1,288.3 488.2,289.1 488.3,288.1 488.5,288.1 488.6,290.1 488.8,288.5 488.9,288.6 489.0,288.2 489.2,289.1 489.3,288.4 489.5,287.7 489.6,287.7 489.7,287.8 489.9,289.0 490.0,288.6 490.2,289.6 490.3,289.4 490.4,288.4 490.6,289.4 490.7,288.9 490.9,290.1 491.0,289.5 491.1,289.5 491.3,290.4 491.4,288.8 491.6,288.2 491.7,289.0 491.8,288.6 492.0,291.9 492.1,288.5 492.3,288.6 492.4,288.1 492.5,290.6 492.7,287.3 492.8,288.2 493.0,288.3 493.1,288.0 493.2,288.2 493.4,289.1 493.5,286.9 493.7,287.8 493.8,288.6 493.9,288.5 494.1,289.1 494.2,287.6 494.4,285.9 494.5,287.7 494.6,288.6 494.8,287.2 494.9,287.6 495.1,286.4 495.2,286.0 495.3,286.8 495.5,284.6 495.6,286.5 495.8,286.4 495.9,286.7 496.0,285.4 496.2,286.5 496.3,286.2 496.5,286.1 496.6,284.5 496.7,284.4 496.9,283.9 497.0,285.1 497.2,284.3 497.3,285.6 497.4,284.5 497.6,283.4 497.7,284.3 497.9,285.2 498.0,284.4 498.1,284.6 498.3,285.3 498.4,284.8 498.6,284.5 498.7,285.6 498.8,283.4 499.0,284.7 499.1,284.4 499.3,285.6 499.4,286.1 499.5,285.9 499.7,286.3 499.8,285.9 500.0,285.6 500.1,286.4 500.2,284.5 500.4,285.0 500.5,285.8 500.7,286.1 500.8,285.6 500.9,284.6 501.1,285.5 501.2,285.9 501.4,284.2 501.5,286.9 501.6,285.6 501.8,283.4 501.9,286.8 502.1,283.7 502.2,285.6 502.3,283.2 502.5,284.4 502.6,282.9 502.8,284.2 502.9,284.2 503.0,285.8 503.2,287.6 503.3,286.8 503.5,285.3 503.6,289.1 503.7,287.1 503.9,288.2 504.0,288.9 504.2,289.3 504.3,287.9 504.4,290.6 504.6,288.9 504.7,289.6 504.9,285.1 505.0,292.2 505.1,288.0 505.3,287.0 505.4,295.1 505.6,292.0 505.7,290.3 505.8,292.9 506.0,293.0 506.1,293.4 506.3,301.7 506.4,296.6 506.5,299.2 506.7,297.5 506.8,298.4 507.0,298.6 507.1,296.9 507.2,297.4 507.4,298.0 507.5,297.8 507.7,293.0 507.8,293.8 507.9,290.8 508.1,291.0 508.2,289.2 508.4,288.8 508.5,289.1 508.6,287.2 508.8,287.0 508.9,285.8 509.1,289.5 509.2,289.0 509.3,287.5 509.5,288.5 509.6,287.3 509.8,286.2 509.9,286.6 510.0,285.3 510.2,286.6 510.3,287.0 510.5,286.8 510.6,285.2 510.7,286.1 510.9,284.9 511.0,285.0 511.2,284.1 511.3,286.0 511.4,285.4 511.6,285.7 511.7,286.6 511.9,286.6 512.0,284.7 512.1,285.9 512.3,284.5 512.4,284.2 512.6,284.6 512.7,284.3 512.8,284.2 513.0,283.8 513.1,284.5 513.3,282.2 513.4,285.0 513.5,283.4 513.7,283.4 513.8,283.2 514.0,282.3 514.1,284.5 514.2,283.0 514.4,283.3 514.5,284.5 514.7,284.6 514.8,283.6 514.9,283.6 515.1,284.0 515.2,283.6 515.4,284.0 515.5,283.2 515.6,283.8 515.8,283.1 515.9,284.6 516.1,284.1 516.2,283.9 516.3,283.8 516.5,283.1 516.6,282.4 516.8,282.8 516.9,283.9 517.0,282.6 517.2,284.9 517.3,284.2 517.5,283.6 517.6,285.0 517.7,287.1 517.9,285.5 518.0,287.7 518.2,285.6 518.3,285.5 518.4,287.1 518.6,285.7 518.7,285.4 518.9,285.1 519.0,290.1 519.1,287.8 519.3,284.3 519.4,291.1 519.6,285.6 519.7,287.3 519.8,293.3 520.0,287.3 520.1,292.8 520.3,287.7 520.4,289.6 520.5,291.3 520.7,288.8 520.8,288.5 521.0,288.6 521.1,285.7 521.2,287.7 521.4,287.5 521.5,288.9 521.7,286.6 521.8,287.7 521.9,287.1 522.1,285.2 522.2,286.1 522.4,286.8 522.5,287.1 522.6,286.0 522.8,286.2 522.9,287.0 523.1,287.0 523.2,285.7 523.3,285.8 523.5,286.3 523.6,284.9 523.8,285.9 523.9,285.9 524.0,283.9 524.2,286.7 524.3,286.7 524.5,286.0 524.6,286.2 524.7,285.4 524.9,286.4 525.0,284.8 525.2,284.5 525.3,285.8 525.4,285.8 525.6,285.1 525.7,284.7 525.9,284.5 526.0,284.4 526.1,285.0 526.3,283.7 526.4,285.4 526.6,285.1 526.7,286.3 526.8,284.4 527.0,285.6 527.1,285.3 527.3,285.3 527.4,286.1 527.5,285.9 527.7,286.4 527.8,287.1 528.0,286.7 528.1,284.5 528.2,282.7 528.4,284.8 528.5,284.9 528.7,285.9 528.8,285.7 528.9,285.5 529.1,284.3 529.2,283.9 529.4,284.9 529.5,286.7 529.6,284.6 529.8,283.6 529.9,285.0 530.1,284.4 530.2,284.6 530.3,285.3 530.5,284.5 530.6,282.9 530.8,284.0 530.9,284.7 531.0,285.7 531.2,284.2 531.3,285.3 531.5,286.1 531.6,286.6 531.7,284.5 531.9,285.1 532.0,285.0 532.2,284.4 532.3,286.1 532.4,284.1 532.6,285.6 532.7,284.0 532.9,285.3 533.0,286.0 533.1,285.5 533.3,283.8 533.4,283.7 533.6,284.3 533.7,285.1 533.8,283.8 534.0,284.7 534.1,282.5 534.3,284.0 534.4,284.5 534.5,282.9 534.7,283.6 534.8,284.4 535.0,282.7 535.1,283.5 535.2,282.7 535.4,285.3 535.5,282.6 535.7,282.4 535.8,284.4 535.9,284.2" fill="none" stroke="#0000ff" stroke-width="1.0"/>
<line x1="326.1" y1="285.3054054054054" x2="326.1" y2="302.4" stroke="#1a2aff" stroke-width="0.7" stroke-dasharray="1.2,0.8"/>
<rect x="325.5" y="300.2" width="1.3" height="1.3" fill="#0000ff"/>
<rect x="325.7" y="295.6" width="1.3" height="1.3" fill="#0000ff"/>
<rect x="325.2" y="297.5" width="1.3" height="1.3" fill="#0000ff"/>
<rect x="325.5" y="300.0" width="1.3" height="1.3" fill="#0000ff"/>
<rect x="325.1" y="285.8" width="1.3" height="1.3" fill="#0000ff"/>
<line x1="355.4" y1="290.0113636363636" x2="355.4" y2="297.9" stroke="#1a2aff" stroke-width="0.7" stroke-dasharray="1.2,0.8"/>
<rect x="355.3" y="293.8" width="1.3" height="1.3" fill="#0000ff"/>
<rect x="355.7" y="290.1" width="1.3" height="1.3" fill="#0000ff"/>
<rect x="354.8" y="297.8" width="1.3" height="1.3" fill="#0000ff"/>
<rect x="355.3" y="292.5" width="1.3" height="1.3" fill="#0000ff"/>
<rect x="355.3" y="292.4" width="1.3" height="1.3" fill="#0000ff"/>
<line x1="374.6" y1="291.5866666666667" x2="374.6" y2="303.1" stroke="#1a2aff" stroke-width="0.7" stroke-dasharray="1.2,0.8"/>
<rect x="374.0" y="294.8" width="1.3" height="1.3" fill="#0000ff"/>
<rect x="374.8" y="303.0" width="1.3" height="1.3" fill="#0000ff"/>
<rect x="373.7" y="301.8" width="1.3" height="1.3" fill="#0000ff"/>
<rect x="373.5" y="299.7" width="1.3" height="1.3" fill="#0000ff"/>
<rect x="373.4" y="302.2" width="1.3" height="1.3" fill="#0000ff"/>
<line x1="395.1" y1="289.3983050847458" x2="395.1" y2="300.9" stroke="#1a2aff" stroke-width="0.7" stroke-dasharray="1.2,0.8"/>
<rect x="394.0" y="293.7" width="1.3" height="1.3" fill="#0000ff"/>
<rect x="394.2" y="294.9" width="1.3" height="1.3" fill="#0000ff"/>
<rect x="394.6" y="291.6" width="1.3" height="1.3" fill="#0000ff"/>
<rect x="394.6" y="290.9" width="1.3" height="1.3" fill="#0000ff"/>
<rect x="394.3" y="290.9" width="1.3" height="1.3" fill="#0000ff"/>
<line x1="399.6" y1="289.99032258064517" x2="399.6" y2="295.7" stroke="#1a2aff" stroke-width="0.7" stroke-dasharray="1.2,0.8"/>
<rect x="399.3" y="292.1" width="1.3" height="1.3" fill="#0000ff"/>
<rect x="398.6" y="294.5" width="1.3" height="1.3" fill="#0000ff"/>
<rect x="398.8" y="295.3" width="1.3" height="1.3" fill="#0000ff"/>
<rect x="399.7" y="291.8" width="1.3" height="1.3" fill="#0000ff"/>
<rect x="398.5" y="293.4" width="1.3" height="1.3" fill="#0000ff"/>
<line x1="414.6" y1="292.40000000000003" x2="414.6" y2="313.4" stroke="#1a2aff" stroke-width="0.7" stroke-dasharray="1.2,0.8"/>
<rect x="414.2" y="298.0" width="1.3" height="1.3" fill="#0000ff"/>
<rect x="413.5" y="308.5" width="1.3" height="1.3" fill="#0000ff"/>
<rect x="413.8" y="309.2" width="1.3" height="1.3" fill="#0000ff"/>
<rect x="413.5" y="307.6" width="1.3" height="1.3" fill="#0000ff"/>
<rect x="413.7" y="292.6" width="1.3" height="1.3" fill="#0000ff"/>
<line x1="427.8" y1="294.107480519492" x2="427.8" y2="297.9" stroke="#1a2aff" stroke-width="0.7" stroke-dasharray="1.2,0.8"/>
<rect x="427.3" y="297.1" width="1.3" height="1.3" fill="#0000ff"/>
<rect x="428.1" y="296.4" width="1.3" height="1.3" fill="#0000ff"/>
<rect x="426.9" y="296.5" width="1.3" height="1.3" fill="#0000ff"/>
<rect x="427.0" y="296.8" width="1.3" height="1.3" fill="#0000ff"/>
<rect x="427.3" y="295.5" width="1.3" height="1.3" fill="#0000ff"/>
<line x1="445.4" y1="290.3272727272727" x2="445.4" y2="299.4" stroke="#1a2aff" stroke-width="0.7" stroke-dasharray="1.2,0.8"/>
<rect x="444.9" y="291.5" width="1.3" height="1.3" fill="#0000ff"/>
<rect x="444.4" y="295.8" width="1.3" height="1.3" fill="#0000ff"/>
<rect x="444.8" y="295.8" width="1.3" height="1.3" fill="#0000ff"/>
<rect x="444.1" y="297.5" width="1.3" height="1.3" fill="#0000ff"/>
<rect x="445.0" y="295.0" width="1.3" height="1.3" fill="#0000ff"/>
<line x1="460.6" y1="290.7" x2="460.6" y2="301.6" stroke="#1a2aff" stroke-width="0.7" stroke-dasharray="1.2,0.8"/>
<rect x="459.5" y="296.9" width="1.3" height="1.3" fill="#0000ff"/>
<rect x="460.0" y="298.0" width="1.3" height="1.3" fill="#0000ff"/>
<rect x="460.7" y="297.8" width="1.3" height="1.3" fill="#0000ff"/>
<rect x="459.8" y="298.9" width="1.3" height="1.3" fill="#0000ff"/>
<rect x="460.0" y="291.1" width="1.3" height="1.3" fill="#0000ff"/>
<line x1="475.1" y1="293.20666666666693" x2="475.1" y2="315.0" stroke="#1a2aff" stroke-width="0.7" stroke-dasharray="1.2,0.8"/>
<rect x="475.0" y="312.7" width="1.3" height="1.3" fill="#0000ff"/>
<rect x="474.8" y="309.2" width="1.3" height="1.3" fill="#0000ff"/>
<rect x="474.4" y="304.1" width="1.3" height="1.3" fill="#0000ff"/>
<rect x="475.3" y="309.1" width="1.3" height="1.3" fill="#0000ff"/>
<rect x="475.3" y="300.0" width="1.3" height="1.3" fill="#0000ff"/>
<line x1="478.8" y1="288.8772727272727" x2="478.8" y2="275.2" stroke="#1a2aff" stroke-width="0.7" stroke-dasharray="1.2,0.8"/>
<rect x="478.2" y="278.4" width="1.3" height="1.3" fill="#0000ff"/>
<rect x="478.5" y="288.7" width="1.3" height="1.3" fill="#0000ff"/>
<rect x="478.8" y="285.9" width="1.3" height="1.3" fill="#0000ff"/>
<rect x="478.2" y="281.2" width="1.3" height="1.3" fill="#0000ff"/>
<rect x="478.2" y="284.2" width="1.3" height="1.3" fill="#0000ff"/>
<line x1="485.4" y1="288.4" x2="485.4" y2="295.7" stroke="#1a2aff" stroke-width="0.7" stroke-dasharray="1.2,0.8"/>
<rect x="485.5" y="292.1" width="1.3" height="1.3" fill="#0000ff"/>
<rect x="484.1" y="292.5" width="1.3" height="1.3" fill="#0000ff"/>
<rect x="483.8" y="295.7" width="1.3" height="1.3" fill="#0000ff"/>
<rect x="483.9" y="292.0" width="1.3" height="1.3" fill="#0000ff"/>
<rect x="485.0" y="289.3" width="1.3" height="1.3" fill="#0000ff"/>
<line x1="490.6" y1="288.8772727272727" x2="490.6" y2="303.1" stroke="#1a2aff" stroke-width="0.7" stroke-dasharray="1.2,0.8"/>
<rect x="489.5" y="296.0" width="1.3" height="1.3" fill="#0000ff"/>
<rect x="489.2" y="301.0" width="1.3" height="1.3" fill="#0000ff"/>
<rect x="490.5" y="300.6" width="1.3" height="1.3" fill="#0000ff"/>
<rect x="490.0" y="296.8" width="1.3" height="1.3" fill="#0000ff"/>
<rect x="489.9" y="292.2" width="1.3" height="1.3" fill="#0000ff"/>
<line x1="504.6" y1="289.17586206896556" x2="504.6" y2="315.0" stroke="#1a2aff" stroke-width="0.7" stroke-dasharray="1.2,0.8"/>
<rect x="503.9" y="293.2" width="1.3" height="1.3" fill="#0000ff"/>
<rect x="504.4" y="296.1" width="1.3" height="1.3" fill="#0000ff"/>
<rect x="504.0" y="301.5" width="1.3" height="1.3" fill="#0000ff"/>
<rect x="503.7" y="294.3" width="1.3" height="1.3" fill="#0000ff"/>
<rect x="503.5" y="290.7" width="1.3" height="1.3" fill="#0000ff"/>
<line x1="518.5" y1="286.84827586206893" x2="518.5" y2="309" stroke="#1a2aff" stroke-width="0.7" stroke-dasharray="1.2,0.8"/>
<rect x="518.4" y="291.5" width="1.3" height="1.3" fill="#0000ff"/>
<rect x="517.0" y="290.1" width="1.3" height="1.3" fill="#0000ff"/>
<rect x="518.0" y="296.8" width="1.3" height="1.3" fill="#0000ff"/>
<rect x="517.8" y="295.8" width="1.3" height="1.3" fill="#0000ff"/>
<rect x="518.2" y="296.2" width="1.3" height="1.3" fill="#0000ff"/>
<line x1="413.8" y1="292.7774025974038" x2="413.8" y2="309" stroke="#1a2aff" stroke-width="0.7" stroke-dasharray="1.2,0.8"/>
<rect x="413.3" y="302.0" width="1.3" height="1.3" fill="#0000ff"/>
<rect x="413.2" y="299.4" width="1.3" height="1.3" fill="#0000ff"/>
<rect x="413.8" y="298.7" width="1.3" height="1.3" fill="#0000ff"/>
<rect x="412.9" y="298.2" width="1.3" height="1.3" fill="#0000ff"/>
<rect x="413.3" y="304.2" width="1.3" height="1.3" fill="#0000ff"/>
<line x1="505.8" y1="294.0333333333333" x2="505.8" y2="309" stroke="#1a2aff" stroke-width="0.7" stroke-dasharray="1.2,0.8"/>
<rect x="505.1" y="308.0" width="1.3" height="1.3" fill="#0000ff"/>
<rect x="505.5" y="298.3" width="1.3" height="1.3" fill="#0000ff"/>
<rect x="505.2" y="303.7" width="1.3" height="1.3" fill="#0000ff"/>
<rect x="505.2" y="295.7" width="1.3" height="1.3" fill="#0000ff"/>
<rect x="505.2" y="299.3" width="1.3" height="1.3" fill="#0000ff"/>
<line x1="474.4" y1="289.2668571428702" x2="474.4" y2="309" stroke="#1a2aff" stroke-width="0.7" stroke-dasharray="1.2,0.8"/>
<rect x="473.5" y="294.5" width="1.3" height="1.3" fill="#0000ff"/>
<rect x="473.1" y="294.3" width="1.3" height="1.3" fill="#0000ff"/>
<rect x="473.9" y="301.0" width="1.3" height="1.3" fill="#0000ff"/>
<rect x="473.8" y="295.4" width="1.3" height="1.3" fill="#0000ff"/>
<rect x="473.4" y="296.9" width="1.3" height="1.3" fill="#0000ff"/>
<line x1="278.5" y1="315.4" x2="278.5" y2="290.6" stroke="#000" stroke-width="1.1"/>
<line x1="281.0" y1="315.4" x2="281.0" y2="292.0" stroke="#000" stroke-width="1.1"/>
<polyline points="281.0,292.7 281.6,291.8 282.1,290.5 282.7,289.7 283.2,288.8 283.8,288.5 284.4,288.2 284.9,288.3 285.5,288.6 286.0,288.6 286.6,288.6 287.2,288.7 287.7,288.6 288.3,288.2 288.8,288.3 289.4,288.4 290.0,288.6 290.5,288.4 291.1,288.3 291.6,288.5 292.2,288.6 292.8,288.8 293.3,289.0 293.9,288.7 294.4,288.5 295.0,287.9 295.6,287.2 296.1,286.7 296.7,286.5 297.2,286.8 297.8,286.7 298.4,286.4 298.9,286.3 299.5,286.2 300.0,286.3 300.6,285.9 301.2,285.7 301.7,286.0 302.3,286.3 302.8,286.4 303.4,286.5 304.0,287.0 304.5,287.9 305.1,288.1 305.6,288.0 306.2,287.9 306.8,287.9 307.3,288.0 307.9,287.7 308.4,287.1 309.0,286.3 309.6,286.2 310.1,286.3 310.7,286.1 311.2,285.5 311.8,284.7 312.4,284.3 312.9,284.2 313.5,284.4 314.0,284.7 314.6,285.0 315.2,285.3 315.7,285.3 316.3,285.2 316.8,285.1 317.4,285.4 318.0,285.5 318.5,285.4 319.1,285.1 319.6,285.0 320.2,285.0 320.8,285.0 321.3,284.7 321.9,284.6 322.4,284.6 323.0,285.0 323.6,284.8 324.1,284.8 324.7,284.8 325.2,285.1 325.8,285.2 326.4,284.9 326.9,284.6 327.5,284.2 328.0,283.8 328.6,283.3 329.2,282.8 329.7,282.6 330.3,282.4 330.8,282.6 331.4,282.8 332.0,283.2 332.5,283.0 333.1,282.7 333.6,282.7 334.2,283.1 334.8,283.5 335.3,283.4 335.9,283.4 336.4,283.3 337.0,283.6 337.6,283.8 338.1,283.8 338.7,283.7 339.2,283.7 339.8,283.7 340.4,284.1 340.9,284.5 341.5,285.1 342.0,285.2 342.6,285.4 343.2,286.1 343.7,287.3 344.3,288.6 344.8,289.0 345.4,289.1 346.0,289.1 346.5,289.2 347.1,289.2 347.6,288.8 348.2,288.7 348.8,289.0 349.3,289.1 349.9,289.2 350.4,288.8 351.0,289.1 351.6,289.3 352.1,289.5 352.7,289.4 353.2,289.5 353.8,289.9 354.4,290.0 354.9,289.6 355.5,289.3 356.0,289.4 356.6,289.9 357.2,290.3 357.7,290.8 358.3,291.0 358.8,291.1 359.4,290.9 360.0,291.0 360.5,290.9 361.1,290.9 361.6,290.7 362.2,290.8 362.8,290.9 363.3,290.9 363.9,291.0 364.4,290.8 365.0,290.7 365.6,290.5 366.1,290.6 366.7,290.6 367.2,290.3 367.8,290.1 368.4,290.0 368.9,289.9 369.5,289.8 370.0,289.9 370.6,290.0 371.2,290.2 371.7,290.2 372.3,290.5 372.8,290.6 373.4,290.9 374.0,290.9 374.5,291.4 375.1,291.9 375.6,292.8 376.2,293.5 376.8,294.3 377.3,294.4 377.9,294.7 378.4,294.9 379.0,295.2 379.6,295.2 380.1,295.3 380.7,295.6 381.2,295.6 381.8,295.3 382.4,295.1 382.9,295.0 383.5,294.8 384.0,294.3 384.6,293.4 385.2,292.4 385.7,291.6 386.3,291.0 386.8,290.6 387.4,290.6 388.0,290.6 388.5,290.6 389.1,290.0 389.6,289.6 390.2,289.3 390.8,289.3 391.3,289.4 391.9,289.1 392.4,289.1 393.0,289.1 393.6,289.4 394.1,289.6 394.7,289.7 395.2,289.4 395.8,289.4 396.4,289.1 396.9,289.1 397.5,288.7 398.0,288.7 398.6,289.1 399.2,289.8 399.7,290.2 400.3,290.1 400.8,289.9 401.4,290.0 402.0,290.2 402.5,290.4 403.1,290.4 403.6,290.7 404.2,290.8 404.8,291.0 405.3,290.7 405.9,291.0 406.4,291.1 407.0,291.5 407.6,291.6 408.1,291.9 408.7,292.0 409.2,292.0 409.8,292.1 410.4,292.0 410.9,292.3 411.5,292.6 412.0,292.7 412.6,292.3 413.2,291.9 413.7,292.4 414.3,292.5 414.8,292.5 415.4,291.9 416.0,291.7 416.5,291.3 417.1,291.1 417.6,290.8 418.2,290.5 418.8,290.0 419.3,289.7 419.9,289.5 420.4,289.0 421.0,288.5 421.6,288.2 422.1,288.0 422.7,287.7 423.2,287.3 423.8,287.3 424.4,287.5 424.9,287.9 425.5,288.8 426.0,290.2 426.6,292.0 427.2,293.3 427.7,294.3 428.3,292.9 428.8,291.1 429.4,289.7 430.0,289.7 430.5,289.6 431.1,289.3 431.6,289.1 432.2,289.0 432.8,289.4 433.3,289.5 433.9,289.2 434.4,288.8 435.0,288.5 435.6,288.5 436.1,288.8 436.7,289.1 437.2,289.3 437.8,289.1 438.4,288.9 438.9,288.8 439.5,288.9 440.0,288.8 440.6,288.8 441.2,288.9 441.7,288.9 442.3,289.1 442.8,289.3 443.4,289.7 444.0,289.9 444.5,290.0 445.1,290.4 445.6,290.8 446.2,291.1 446.8,291.0 447.3,291.0 447.9,290.9 448.4,291.1 449.0,290.7 449.6,290.7 450.1,291.0 450.7,291.5 451.2,291.6 451.8,291.5 452.4,291.6 452.9,291.7 453.5,291.6 454.0,291.6 454.6,291.8 455.2,292.2 455.7,292.0 456.3,291.8 456.8,291.7 457.4,291.7 458.0,291.7 458.5,291.5 459.1,291.5 459.6,291.3 460.2,291.0 460.8,290.5 461.3,290.1 461.9,290.0 462.4,289.7 463.0,289.5 463.6,289.3 464.1,289.1 464.7,289.0 465.2,288.9 465.8,289.1 466.4,289.6 466.9,289.8 467.5,289.8 468.0,289.4 468.6,288.9 469.2,288.8 469.7,288.9 470.3,288.9 470.8,288.7 471.4,288.3 472.0,287.9 472.5,287.9 473.1,288.1 473.6,288.9 474.2,289.7 474.8,292.2 475.3,295.4 475.9,297.3 476.4,294.6 477.0,291.0 477.6,289.0 478.1,289.0 478.7,289.0 479.2,288.4 479.8,288.1 480.4,288.2 480.9,288.5 481.5,288.6 482.0,288.7 482.6,288.8 483.2,288.8 483.7,288.7 484.3,288.5 484.8,288.4 485.4,288.2 486.0,288.8 486.5,289.1 487.1,289.1 487.6,288.8 488.2,288.6 488.8,288.7 489.3,288.5 489.9,288.9 490.4,289.0 491.0,289.0 491.6,288.9 492.1,289.0 492.7,288.8 493.2,288.4 493.8,288.1 494.4,287.7 494.9,287.0 495.5,286.4 496.0,285.9 496.6,285.5 497.2,285.1 497.7,284.8 498.3,285.1 498.8,285.5 499.4,285.9 500.0,285.9 500.5,285.6 501.1,285.3 501.6,284.9 502.2,284.6 502.8,285.3 503.3,286.7 503.9,287.9 504.4,288.9 505.0,289.8 505.6,292.5 506.1,296.5 506.7,299.7 507.2,297.4 507.8,292.6 508.4,289.2 508.9,288.0 509.5,287.4 510.0,286.7 510.6,286.3 511.2,285.7 511.7,285.2 512.3,284.7 512.8,284.2 513.4,284.0 514.0,283.7 514.5,283.7 515.1,283.6 515.6,283.7 516.2,283.6 516.8,283.5 517.3,284.0 517.9,285.2 518.4,286.6 519.0,287.9 519.6,289.1 520.1,289.5 520.7,288.5 521.2,287.5 521.8,286.8 522.4,286.6 522.9,286.4 523.5,285.8 524.0,285.5 524.6,285.4 525.2,285.6 525.7,285.2 526.3,285.2 526.8,285.5 527.4,285.6 528.0,285.5 528.5,285.2 529.1,284.9 529.6,284.7 530.2,284.5 530.8,284.8 531.3,284.9 531.9,285.0 532.4,284.6 533.0,284.4 533.6,284.0 534.1,283.8 534.7,283.8 535.2,283.8 535.8,283.8" fill="none" stroke="#000" stroke-width="1.15" stroke-linejoin="round"/>
<text x="309.8" y="309.4" font-size="7.0" font-weight="bold" stroke="#000" stroke-width="0.18" textLength="103.2" lengthAdjust="spacingAndGlyphs">Noninvasive – Diffused Reflectance</text>
<text x="268.2" y="324.0" font-size="7.6" font-weight="bold" text-anchor="middle" stroke="#000" stroke-width="0.18" textLength="4.0" lengthAdjust="spacingAndGlyphs">0</text>
<text x="297.988" y="324.0" font-size="7.6" font-weight="bold" text-anchor="middle" stroke="#000" stroke-width="0.18" textLength="8.0" lengthAdjust="spacingAndGlyphs">20</text>
<text x="327.776" y="324.0" font-size="7.6" font-weight="bold" text-anchor="middle" stroke="#000" stroke-width="0.18" textLength="8.0" lengthAdjust="spacingAndGlyphs">40</text>
<text x="357.56399999999996" y="324.0" font-size="7.6" font-weight="bold" text-anchor="middle" stroke="#000" stroke-width="0.18" textLength="8.0" lengthAdjust="spacingAndGlyphs">60</text>
<text x="387.352" y="324.0" font-size="7.6" font-weight="bold" text-anchor="middle" stroke="#000" stroke-width="0.18" textLength="8.0" lengthAdjust="spacingAndGlyphs">80</text>
<text x="417.14" y="324.0" font-size="7.6" font-weight="bold" text-anchor="middle" stroke="#000" stroke-width="0.18" textLength="11.6" lengthAdjust="spacingAndGlyphs">100</text>
<text x="446.928" y="324.0" font-size="7.6" font-weight="bold" text-anchor="middle" stroke="#000" stroke-width="0.18" textLength="11.6" lengthAdjust="spacingAndGlyphs">120</text>
<text x="476.716" y="324.0" font-size="7.6" font-weight="bold" text-anchor="middle" stroke="#000" stroke-width="0.18" textLength="11.6" lengthAdjust="spacingAndGlyphs">140</text>
<text x="506.504" y="324.0" font-size="7.6" font-weight="bold" text-anchor="middle" stroke="#000" stroke-width="0.18" textLength="11.6" lengthAdjust="spacingAndGlyphs">160</text>
<text x="536.2919999999999" y="324.0" font-size="7.6" font-weight="bold" text-anchor="middle" stroke="#000" stroke-width="0.18" textLength="11.6" lengthAdjust="spacingAndGlyphs">180</text>
<text x="385.2" y="331.3" font-size="7.8" font-weight="bold" stroke="#000" stroke-width="0.18" textLength="34.0" lengthAdjust="spacingAndGlyphs">Time (min)</text>
<text x="246.0" y="319.4" font-size="11.3" font-weight="bold" stroke="#000" stroke-width="0.18" textLength="8.6" lengthAdjust="spacingAndGlyphs">c)</text>
</svg></body></html>
